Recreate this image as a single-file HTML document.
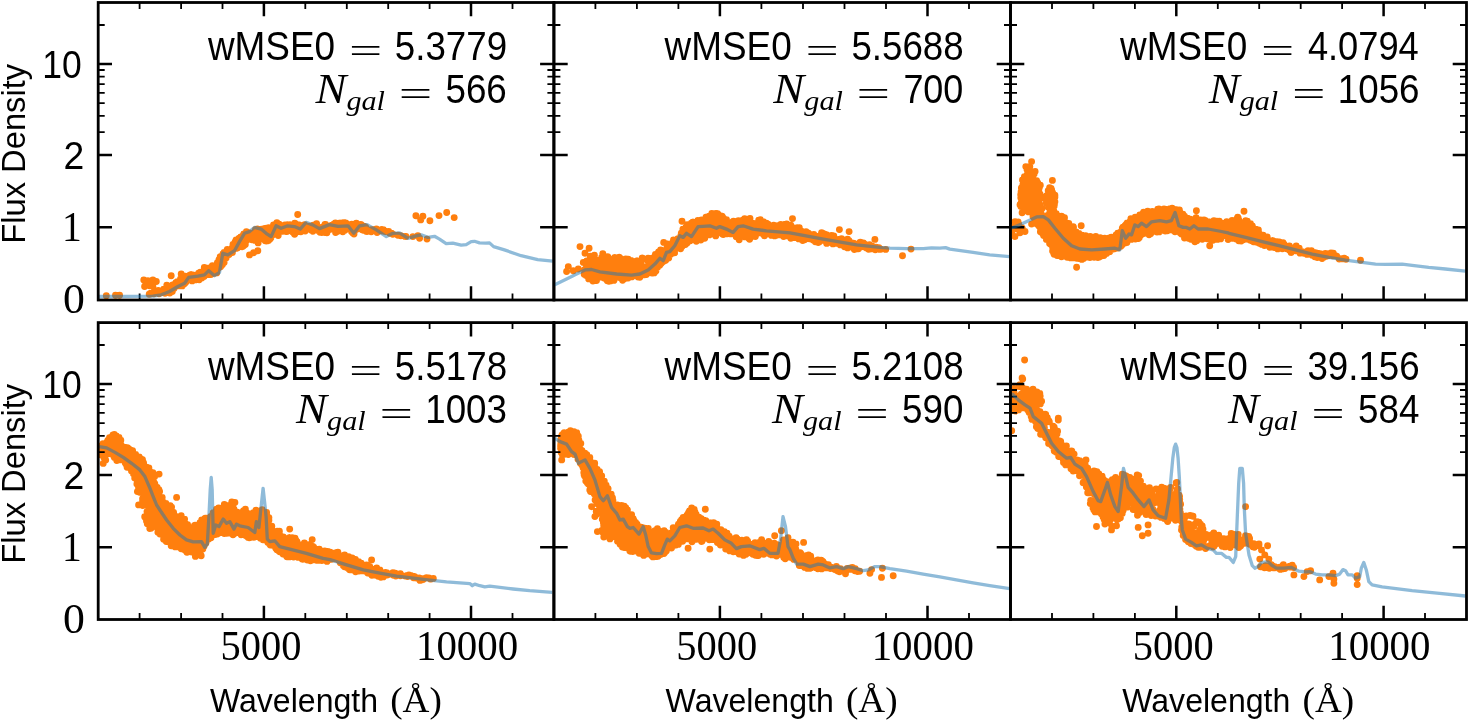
<!DOCTYPE html>
<html lang="en"><head><meta charset="utf-8"><title>Flux Density vs Wavelength</title>
<style>
html,body{margin:0;padding:0;background:#fff}
svg{display:block}
.sans{font-family:"Liberation Sans","DejaVu Sans",sans-serif}
.serif{font-family:"Liberation Serif","DejaVu Serif",serif}
.it{font-family:"Liberation Serif","DejaVu Serif",serif;font-style:italic}
</style></head>
<body>
<svg width="1469" height="721" viewBox="0 0 1469 721">
<rect x="0" y="0" width="1469" height="721" fill="#fff"/>
<defs>
<clipPath id="c1"><rect x="98.2" y="2.5" width="455.7" height="297.5"/></clipPath>
<clipPath id="c2"><rect x="553.9" y="2.5" width="456.6" height="297.5"/></clipPath>
<clipPath id="c3"><rect x="1010.5" y="2.5" width="456" height="297.5"/></clipPath>
<clipPath id="c4"><rect x="98.2" y="322.6" width="455.7" height="296.9"/></clipPath>
<clipPath id="c5"><rect x="553.9" y="322.6" width="456.6" height="296.9"/></clipPath>
<clipPath id="c6"><rect x="1010.5" y="322.6" width="456" height="296.9"/></clipPath>
</defs>
<g id="panel1">
<path clip-path="url(#c1)" d="M346.5 223.6h0M342.8 231.7h0M249.4 239.1h0M169.8 292.7h0M165.7 291.6h0M182.5 283.3h0M335.6 226h0M342.8 223.9h0M183.7 283.9h0M181.2 274h0M302.5 226.9h0M167.2 288.8h0M247.1 233.4h0M188.1 277.1h0M205.6 271.3h0M351.7 224.3h0M219.6 261.6h0M219.8 264.8h0M366.3 230.9h0M219.3 260.4h0M255.4 229.6h0M242.4 237.4h0M350.7 227.8h0M229.7 250.3h0M174 288.6h0M288.8 226.8h0M188 276.6h0M284 230.7h0M106.3 295.7h0M258.1 242.9h0M352.3 232.2h0M305.9 226.7h0M243.1 246.2h0M236 240.3h0M152.9 279.9h0M166.8 291.2h0M400.8 235.8h0M419.6 238.3h0M353.2 229.5h0M233.3 249.6h0M255.1 238.4h0M201.8 278h0M273.5 225h0M189.7 278.6h0M171.4 290.6h0M193.4 279.8h0M307.3 228h0M266.7 237.2h0M300.8 231.7h0M176.7 282.7h0M358.3 226.2h0M281.1 227.5h0M372.6 230.1h0M211.1 272.2h0M318.3 228.1h0M232 248.3h0M378 231.4h0M273.7 229.6h0M294.3 233.7h0M271.2 230.7h0M422.9 216.3h0M170.7 291.7h0M225.2 253.7h0M147.9 280.7h0M172.3 291.6h0M227.8 249.8h0M305.6 226.1h0M344.1 225.7h0M213.5 273.4h0M218 264.3h0M192.4 275.8h0M239.2 238.3h0M198.1 279.3h0M227.5 253.4h0M326.7 229.2h0M321.5 228.6h0M155.5 292.2h0M275.6 225.8h0M298 228.2h0M178.9 285h0M298.1 231.6h0M263.2 233.4h0M191.3 274.6h0M200.3 272.3h0M335.8 224h0M322.7 227h0M278.2 235.6h0M297.2 226.2h0M149.6 285.7h0M331 225.7h0M198.6 273.3h0M210.9 270.4h0M270.8 238h0M264.8 228.5h0M405.1 236.4h0M203.8 275.6h0M216.5 266.8h0M276.3 225.6h0M388.7 231.4h0M359.7 227.5h0M200.7 275.8h0M204.1 276.4h0M383.5 230.4h0M263.8 231.5h0M205.4 268.5h0M427 239.1h0M182.3 284h0M185.3 276.2h0M391.5 233.1h0M184.9 283.2h0M371.3 229.8h0M258 238.8h0M213.7 271.3h0M364 226.3h0M273.5 232.3h0M241.3 242.1h0M246.3 233.8h0M175.9 282.7h0M190.8 274.8h0M345.7 222.9h0M348.6 227.4h0M271.5 231.1h0M300.2 228.1h0M377.3 231.2h0M274.8 230h0M341.2 225h0M291.6 226.2h0M236.1 239.9h0M246.3 239.5h0M322.4 227.1h0M267 236.2h0M245.3 244.4h0M209.5 274.6h0M214.4 273.2h0M268.3 229.1h0M185.9 278h0M299.2 225h0M254.1 238.4h0M285.2 225.1h0M189.8 275.1h0M363.3 230.3h0M193.7 278.3h0M355.3 229.4h0M119.6 295.3h0M326.9 232.7h0M173.6 287.3h0M257.8 250.7h0M371.2 231.7h0M241.8 238.1h0M149.2 294.2h0M339.7 226.7h0M294.8 223.2h0M281.4 228.9h0M381.3 230.5h0M269.5 229.9h0M292.9 226.4h0M356.9 225.7h0M390.3 233.1h0M345.1 223.9h0M336.4 225.9h0M325.8 231.6h0M268.7 227.7h0M212.4 265.6h0M224.1 262.4h0M251.4 235.9h0M209.3 268.4h0M183.7 279.5h0M185 281.3h0M276 227.7h0M199.2 279.7h0M211.7 269.9h0M166.8 290.4h0M231.7 252.7h0M221.9 256.7h0M257.9 234.8h0M351.7 230.8h0M216.7 272.9h0M346.1 227.8h0M143.8 279.9h0M286.9 231.5h0M281.8 227.4h0M273.3 232.8h0M282.4 227.8h0M320.9 228.7h0M312.8 231.3h0M301.1 226h0M264 230.6h0M171 290.7h0M241.8 245.2h0M340.9 223.5h0M211.5 266.9h0M267.7 240.3h0M286.9 230.8h0M170.4 292.1h0M229.5 253h0M351.6 231.7h0M210.9 274.6h0M344.1 222.7h0M256.4 230.9h0M324.6 228.1h0M171.2 275.7h0M328.4 225.9h0M342 225.6h0M166.7 289.8h0M257.3 228.9h0M216.8 271.5h0M384.9 231.4h0M272.9 234.8h0M294.1 232.7h0M249.5 254.9h0M258.7 238h0M238.6 238.6h0M165 293.2h0M279.5 226.2h0M318 230.6h0M267 232.8h0M237.3 245.6h0M234.6 246.4h0M255.7 229.5h0M333.5 225.1h0M276.2 228.6h0M163.7 292.7h0M320 232.2h0M276.9 222.8h0M190.5 279.7h0M319.6 228.2h0M243.2 235.3h0M362.4 226.5h0M313.2 226.1h0M360.8 224.5h0M279 227.4h0M192.2 280.9h0M294.9 228.5h0M338.4 226.2h0M220.2 256.8h0M237.4 247.9h0M307 226.2h0M244.1 237.9h0M244.7 240.5h0M294.7 223.8h0M363 229.9h0M311.4 230.2h0M279.1 224.2h0M405.9 236.5h0M191.9 276.2h0M315 226h0M417.9 235.8h0M245.1 236.6h0M211.6 272.9h0M202.6 275.3h0M252.7 233h0M181.9 284h0M188.9 278.5h0M212.7 267.5h0M171.2 290.8h0M279.8 231.8h0M220.4 261.5h0M158.2 291.1h0M222.9 255.3h0M325 224.5h0M257 233.6h0M231.4 251.1h0M211.6 267.3h0M150.2 293.9h0M251.9 239h0M263.1 237.3h0M420.7 219.9h0M259.2 234.4h0M311.5 226.5h0M222.5 255.3h0M278.2 226.3h0M304.6 224.7h0M354.2 227.6h0M281.9 231.4h0M222.3 264.8h0M344.1 223.3h0M241.3 239.8h0M200.3 274.2h0M261.9 234.6h0M255.9 238.3h0M162.7 290.4h0M202.3 273.4h0M342.1 229.9h0M214.1 271.4h0M377.1 232.5h0M272 227.7h0M197.3 277.3h0M342.8 227.9h0M184.5 277.3h0M214.8 269.8h0M221.4 263.8h0M193.9 275.3h0M267 236h0M308.8 226.2h0M180.1 282.4h0M239.6 244.2h0M195.3 279.9h0M291.9 224.8h0M304.7 226.9h0M367 231.5h0M217.7 265.6h0M244.5 235.8h0M217.1 264.2h0M232.4 252.3h0M258.6 235.7h0M174.2 288h0M274.4 228.8h0M244.5 241.9h0M215.8 265.4h0M342.3 222.9h0M194.1 277.5h0M220.6 265.9h0M292.6 231.9h0M284.9 225h0M163.7 289.2h0M353.3 226.1h0M193.9 278.1h0M261.5 229.2h0M172.6 285h0M281 226.3h0M390.1 233.3h0M223.1 253.8h0M200.4 276.3h0M283.8 228.9h0M286.2 226h0M264.5 229.4h0M154.1 293.7h0M232.4 252.5h0M248.6 232.8h0M231.8 252.5h0M439 215.6h0M320.4 230.6h0M250.6 235.6h0M176.8 285.2h0M352.8 233h0M351.7 228.5h0M150.2 293.4h0M179 285.9h0M208.9 269.4h0M303 225.8h0M243.8 234h0M257.8 232.5h0M166.8 285.1h0M246.6 240.4h0M385.6 231.3h0M176.1 283.3h0M242.3 239.2h0M207 274.5h0M251.4 236.9h0M256.5 233.6h0M325.5 224.5h0M158.2 290.5h0M345 225.4h0M235.1 241.9h0M362.1 229.8h0M339.2 229.3h0M197.1 277.7h0M194.6 276.7h0M220.6 266.8h0M215.4 267.7h0M357.5 226.8h0M295.2 233.2h0M331.8 225.2h0M289.9 230.2h0M344.1 224.6h0M276.1 226.9h0M385.2 231.6h0M213.2 270.9h0M289.4 225.1h0M177.2 281.8h0M346.3 227.3h0M252 239.8h0M316 229h0M209.1 271.3h0M375.5 229.3h0M180.9 282.9h0M345.2 230h0M429.9 220.8h0M233 244.5h0M266.3 241.1h0M329 227.7h0M227.3 249.5h0M288.5 225h0M287.5 224.8h0M291.9 227.7h0M324.9 225.6h0M156.3 281.5h0M213.1 272.6h0M337.3 225.2h0M190.4 277.8h0M291.5 230.8h0M154.3 292.9h0M376.4 230.1h0M376.4 228.9h0M352 225h0M240.8 236.9h0M259.1 238.1h0M215.6 270.1h0M167.8 288.4h0M152.8 293.3h0M248.2 236.5h0M269.6 239.1h0M223.3 261.2h0M446.7 212.5h0M302.2 227.9h0M260.3 237.3h0M366.5 231.4h0M187.7 278.5h0M294.6 234.2h0M335.4 223h0M216.7 266.1h0M224.1 252.5h0M274.4 228.9h0M374 229.4h0M313.6 228.8h0M329.8 229.5h0M340.3 227.9h0M165.7 292.4h0M382.5 231.1h0M327.1 227.9h0M333.8 224.2h0M342 225.8h0M159 293.8h0M338 228.4h0M321.7 232.5h0M233.1 245.2h0M232.2 252.5h0M250.4 236.8h0M252.5 239.3h0M269.8 233.5h0M229.1 254.6h0M340.3 226.9h0M154 292.3h0M207.7 268.2h0M245.9 238.3h0M318.6 228.7h0M115.5 295.3h0M270.4 234.3h0M186 282.1h0M290.2 230.5h0M204.4 271.1h0M284.6 225.9h0M183.3 284.6h0M357 229h0M298.1 230.1h0M336.7 229.4h0M282.3 230h0M261.1 238.7h0M233.3 249.3h0M209.9 268.6h0M242.1 236.7h0M243.3 235.8h0M150.5 293.5h0M236 248.4h0M354.5 231.3h0M339.9 227.3h0M255.9 240.1h0M267.4 228h0M324.9 232.5h0M354 234.1h0M357.2 227h0M255.6 230.6h0M180.5 279h0M454.2 217.6h0M182.2 285.9h0M266.2 234.8h0M357 226.5h0M356.3 223.2h0M381.8 229.4h0M227 250.2h0M195.9 275.7h0M184.1 284h0M214.1 273h0M255.6 238h0M252.4 237.4h0M415.9 215.8h0M168 291.5h0M160.2 292.2h0M335.6 232.6h0M204.3 267.4h0M298.3 227.2h0M321.6 229.1h0M268.5 240.5h0M369.9 230.1h0M274.7 234h0M324.6 227.1h0M213.8 271.5h0M286.1 231.6h0M267.6 237.8h0M306.3 228h0M324.2 228.5h0M295.4 228.9h0M245.5 236.2h0M397.9 235.3h0M284.7 226.5h0M286 230h0M218.2 268.6h0M295.8 228.5h0M255 240.4h0M259.2 233.7h0M288.1 225.7h0M270 229.8h0M226.1 258.1h0M336.3 225.9h0M188.5 276.5h0M262.7 230.2h0M240.4 241.9h0M297.7 214.5h0M263.4 233.6h0M365.7 227.1h0M268 240.7h0M189.2 276.9h0M298.1 224.9h0M392.8 234.3h0M283.8 230.9h0M265.2 240.8h0M243.1 241.9h0M201.4 276.4h0M362 227h0M341 229.1h0M208.8 269.1h0M360 224.6h0M192 274.9h0M244.5 239.6h0M344.5 230.5h0M288.8 227.3h0M383.3 229.8h0M381.5 230.4h0M357.2 229.1h0M321.9 228.5h0M344.7 228.9h0M144.6 286.5h0M304.8 225.1h0M252.4 235h0M337.4 231.5h0M269.8 239.3h0M353.2 233.1h0M181.4 282.7h0M389.8 233.3h0M290 224.8h0M305.2 231h0M173.5 285.2h0M219 259.7h0M225.3 254.7h0M253.6 252.7h0M247.2 235.9h0M346.1 228.3h0M152.9 286.5h0M184 281.5h0M213 267.8h0M205 269.4h0M311.4 227.8h0M332.2 227.3h0M166.4 291.5h0M303 229.7h0M217.4 262.6h0M344.4 224h0M316.4 229h0M227.1 251.3h0M259.2 237.2h0M231.9 249.9h0M321.1 229h0M244.2 245.3h0M221.5 264.6h0M313.3 225.1h0M316.6 223.6h0M299.3 225.8h0M340.2 223.1h0M307.2 226.9h0M412.9 236.6h0M232.7 246.9h0M164 291.8h0M268.2 236.8h0M240.1 242.8h0M220.8 261.6h0M242.1 246.7h0M339.1 223.3h0M359.5 225.2h0M315.5 225.9h0M246.4 231.7h0M181.1 284.3h0M200.6 276.2h0M344.5 230.6h0M248 234.8h0M169.8 293.1h0M258.9 236.9h0" fill="none" stroke="#ff7f0e" stroke-width="6.9" stroke-linecap="round"/>
<path d="M263.9 300v-13.8M263.9 2.5v13.8M471 300v-13.8M471 2.5v13.8M98.2 227.2h13.8M553.9 227.2h-13.8M98.2 155h13.8M553.9 155h-13.8M98.2 64.1h13.8M553.9 64.1h-13.8" stroke="#000" stroke-width="2.5" fill="none"/>
<path d="M139.6 300v-6.5M139.6 2.5v6.5M181.1 300v-6.5M181.1 2.5v6.5M222.5 300v-6.5M222.5 2.5v6.5M305.3 300v-6.5M305.3 2.5v6.5M346.8 300v-6.5M346.8 2.5v6.5M388.2 300v-6.5M388.2 2.5v6.5M429.6 300v-6.5M429.6 2.5v6.5M512.5 300v-6.5M512.5 2.5v6.5M98.2 132.1h6.5M553.9 132.1h-6.5M98.2 115.8h6.5M553.9 115.8h-6.5M98.2 103.2h6.5M553.9 103.2h-6.5M98.2 92.9h6.5M553.9 92.9h-6.5M98.2 84.2h6.5M553.9 84.2h-6.5M98.2 76.7h6.5M553.9 76.7h-6.5M98.2 70h6.5M553.9 70h-6.5M98.2 25h6.5M553.9 25h-6.5" stroke="#000" stroke-width="1.8" fill="none"/>
<path clip-path="url(#c1)" d="M98 296.5L152.9 296.2L161.2 294.8L169.6 291.5L177.9 286.5L184.6 283.2L188.7 277.4L197.9 276.2L204.5 274.9L208.7 270.7L214.5 275.7L219.5 272.4L222.8 253.2L227.8 254.9L234.5 250.7L239.5 241.6L244.5 233.3L249.5 231.6L254.5 227.4L261.1 229.1L266.1 233.3L271.1 236.6L276.1 225.8L281.1 228.3L287.7 225.8L294.4 226.6L300.2 229.1L306.1 222.4L312.7 224.9L319.4 228.6L329.4 224.6L338 226.3L348 225.8L353.8 233.3L359.6 225.8L367.1 224.6L376.3 229.9L386.3 236.6L392.9 233.3L399.6 232.9L407.9 238.3L416.2 235.8L421.2 234.9L427.9 237.4L434.5 236.3L439.5 239.1L446.2 243.6L452.8 243.2L461.2 245.2L466.2 244.6L471.2 241.6L474.5 241.3L479.5 242.9L486.1 243.2L489.5 242.9L493.6 246.6L504.4 249.9L521.1 255.7L537.7 259.6L552.7 261.2" fill="none" stroke="#1f77b4" stroke-opacity="0.5" stroke-width="3.3" stroke-linejoin="round" stroke-linecap="butt"/>
<rect x="98.2" y="2.5" width="455.7" height="297.5" fill="none" stroke="#000" stroke-width="2.8"/>
<text class="sans" x="207.90" y="60.10" font-size="40.0" textLength="127.17" lengthAdjust="spacingAndGlyphs">wMSE0</text>
<text class="serif" x="348.96" y="62.70" font-size="36.5" textLength="33.31" lengthAdjust="spacingAndGlyphs">=</text>
<text class="sans" x="394.86" y="60.10" font-size="39.8" textLength="112.24" lengthAdjust="spacingAndGlyphs">5.3779</text>
<text class="it" x="315.40" y="103.30" font-size="41.5" textLength="30.92" lengthAdjust="spacingAndGlyphs">N</text>
<text class="it" x="346.40" y="109.90" font-size="27.5" textLength="38.55" lengthAdjust="spacingAndGlyphs">gal</text>
<text class="serif" x="398.74" y="105.90" font-size="36.5" textLength="33.56" lengthAdjust="spacingAndGlyphs">=</text>
<text class="sans" x="445.45" y="103.30" font-size="39.8" textLength="61.35" lengthAdjust="spacingAndGlyphs">566</text>
<text class="serif" x="62.92" y="313.40" font-size="42" textLength="21.86" lengthAdjust="spacingAndGlyphs">0</text>
<text class="serif" x="62.04" y="241.48" font-size="42" textLength="19.74" lengthAdjust="spacingAndGlyphs">1</text>
<text class="sans" x="63.41" y="169.26" font-size="39.5" textLength="20.75" lengthAdjust="spacingAndGlyphs">2</text>
<text class="sans" x="42.21" y="78.39" font-size="39.5" textLength="39.43" lengthAdjust="spacingAndGlyphs">10</text>
<g transform="rotate(-90)"><text class="sans" x="-243.73" y="25.00" font-size="33.5" textLength="179.83" lengthAdjust="spacingAndGlyphs">Flux Density</text>
</g>
</g>
<g id="panel2">
<path clip-path="url(#c2)" d="M673.5 249.8h0M650.4 267.2h0M611.8 261.2h0M729.5 229.8h0M682.1 241.9h0M703.5 232.5h0M603.5 262.6h0M709.3 234.9h0M689.4 235.4h0M587.7 269.2h0M593.4 274.3h0M685.5 233.3h0M592.8 272.9h0M661.1 263.5h0M702.2 230.5h0M590.6 276.4h0M749.2 231.1h0M717.7 214.3h0M618.7 271.1h0M607.1 276.4h0M833.7 241.1h0M610.7 260.7h0M710.8 224.4h0M787.1 232.9h0M688 230.8h0M638.1 277h0M741 220.6h0M692.7 233h0M659.5 257.1h0M600.9 259.7h0M795.3 228.6h0M866.5 246.8h0M828.2 241h0M718.7 218.1h0M615.2 268h0M675.3 249.3h0M814.6 237.7h0M718.6 219h0M751.4 230.5h0M831.3 242h0M685.7 227.6h0M740.3 224.8h0M639.3 274.9h0M774.2 227.1h0M859.8 247.3h0M642.4 258.5h0M624.7 275.6h0M741.7 230h0M598.7 264.8h0M702.1 228.1h0M676.2 243.7h0M877.3 248.1h0M642 274.7h0M566.6 271.5h0M680.6 245.9h0M597.6 274.4h0M780.1 228.7h0M689.3 236.9h0M591.1 272.1h0M757 228.3h0M727.1 231.3h0M602 261.5h0M726 230.2h0M735.2 226.3h0M619.2 257.2h0M766 224.3h0M847.5 243.9h0M639.8 277.2h0M775.2 232.5h0M860.8 245.6h0M761.7 232.7h0M723.8 225.1h0M615.6 261.3h0M771.3 229.6h0M734.6 231.2h0M738.2 237.2h0M791.9 233.7h0M857.9 246.8h0M657.8 257.5h0M860.7 244.7h0M805.8 235.6h0M781.1 230.6h0M596.3 277.1h0M622.1 277h0M682 233.4h0M790.8 225.3h0M653.4 269.3h0M853.5 244.1h0M805.3 235.4h0M709.9 225.7h0M711.1 216.8h0M774.6 226.9h0M707.4 224.4h0M588.7 278.9h0M701.8 224.6h0M885.7 249.4h0M611.9 260.1h0M762.5 226.1h0M840.3 244.9h0M644.1 274.1h0M647.6 270.2h0M604.5 267.5h0M630.9 272.6h0M688 239.1h0M695.4 231.8h0M726.8 231.7h0M614.9 272.5h0M692.7 222.3h0M588 272.3h0M734.2 227.6h0M608.2 280.7h0M759.1 223.9h0M622.1 278.3h0M786.9 233.4h0M869.9 246h0M711.7 230.3h0M584.7 269.8h0M816.4 239.1h0M620.2 275.8h0M634.3 274.9h0M711 227.6h0M670.8 249.7h0M800.7 238.6h0M624.8 266h0M667.9 251h0M736.1 234.5h0M846.2 243h0M598 272.1h0M779.9 234.9h0M705.4 228.3h0M687 237.9h0M813.9 236.4h0M590.4 267.1h0M783.3 233.2h0M740.8 228.7h0M728.9 232.8h0M749.5 227.7h0M725.8 228.3h0M632.9 276h0M804.9 235.1h0M821.8 236.8h0M672.8 248.3h0M626.5 275.7h0M727.4 233.7h0M706.6 221.5h0M587.9 270.1h0M602.7 263.5h0M792.9 231.1h0M672.5 242.7h0M759.1 227.5h0M795.2 229.4h0M815.3 241.8h0M687.2 237.6h0M691 237.6h0M592.8 270h0M878.9 247.7h0M653.4 270.7h0M764.5 235.8h0M809.9 236.9h0M631 263.8h0M643.7 273.6h0M716.8 229.9h0M725.5 219.8h0M693.2 228.6h0M627.3 261.8h0M619.8 262.8h0M692.6 237.1h0M646.4 274.5h0M682.3 232.3h0M802.7 240.5h0M699.5 234.6h0M792.3 235.9h0M709.9 232.1h0M613.1 267.2h0M754.2 230.2h0M880.8 249.3h0M608.9 281.3h0M842.6 243.5h0M622 264.3h0M602.5 273.8h0M827.7 238.2h0M603.4 261.4h0M578.3 269h0M811.1 237.1h0M751 231.9h0M711.8 213.4h0M591 277.5h0M749.5 231.4h0M659.4 252.5h0M810.6 235.3h0M863.6 246.8h0M589.6 263.1h0M692.9 237.4h0M636 263.5h0M753.8 230.8h0M654.1 264.4h0M602.9 271h0M765.1 232.9h0M681.2 239h0M714.2 228.2h0M730.4 231.4h0M642.2 257.9h0M700.6 223.5h0M700.5 232h0M661.4 259.6h0M618 266.2h0M636.1 271.7h0M622.3 276.3h0M818.8 240.2h0M616 274.9h0M681.6 234.6h0M675.4 246.3h0M767.7 228.8h0M732.9 221.7h0M666.8 248.1h0M849 240.8h0M783.8 233.9h0M757.2 228.5h0M816.9 238h0M902.5 255.7h0M770.5 230.5h0M752.2 223.8h0M733.2 233h0M682 246.5h0M684.6 229.8h0M725.6 233.8h0M788.7 230.9h0M601.8 277.2h0M780.1 233.8h0M701.8 230.9h0M619.9 269h0M750.5 233.5h0M764.5 227.9h0M626.6 274.9h0M828.2 239.2h0M722.5 231.5h0M587.9 269.6h0M722.7 217.1h0M675.6 240.5h0M752.7 230.2h0M670.9 247.8h0M740.3 227.5h0M716.5 227.7h0M624.1 275.7h0M740 223h0M685.7 239.6h0M637.7 274.5h0M761.9 231.7h0M641.3 265h0M785.1 229h0M879.7 249.4h0M820.9 236.5h0M822.2 240.2h0M826.7 243.4h0M586.6 271h0M673.5 239.9h0M749 221.4h0M687.2 224.6h0M712.3 222.2h0M607 265.2h0M632.9 268.5h0M664.6 253.5h0M661.1 258.1h0M589.2 276.9h0M693.9 233.3h0M757.3 226.5h0M715.7 230.5h0M844.5 246.8h0M845.3 245.1h0M695.2 229.8h0M622.3 277.4h0M651.8 262.6h0M624.7 265.1h0M595.6 271.5h0M682.7 233.3h0M602.8 253.6h0M783.9 233.2h0M673.1 250.2h0M681.3 233.1h0M637.4 272.1h0M817 236.6h0M719.3 220.7h0M580 246.6h0M829.8 236h0M683.1 243h0M706.9 229.9h0M738.4 236.2h0M712.5 230h0M733.3 232.5h0M695.1 229.3h0M661.4 257.5h0M747.4 230.3h0M602.2 262.9h0M699.2 227.8h0M714.5 214.1h0M686.6 238.9h0M824.8 234.3h0M614 278.6h0M641.6 274.6h0M719.6 222.3h0M663.7 242.4h0M811 238.1h0M674.3 249.6h0M606.3 276.5h0M597.2 270h0M647.9 261.1h0M629.4 267.9h0M647.9 273.1h0M826.3 236.8h0M627.2 273h0M690.6 229.2h0M662 262.3h0M715.9 232h0M768.9 230.1h0M735.3 231.7h0M826.8 237.2h0M602.4 265.8h0M637.5 275.7h0M786.2 234h0M749.5 236.9h0M726 219.6h0M833 239h0M600 276h0M598.4 271.5h0M806 231.7h0M586.2 264.4h0M771.4 235.4h0M857.3 246.1h0M866.8 244.9h0M634.6 267.1h0M787.3 233.8h0M809.6 234.3h0M806.9 232.4h0M801.8 238.5h0M589.1 273.6h0M620.2 270.4h0M813 239.9h0M803.9 237.9h0M839.1 242.8h0M599.9 272.5h0M594 258h0M629.8 271.4h0M876.4 247.5h0M775.9 227.9h0M841 240.2h0M639.8 261.6h0M758.9 231.6h0M842.3 244h0M767.2 225.4h0M685.4 244.6h0M653.9 266.6h0M760.3 222.4h0M818.3 236.4h0M782.5 232.6h0M719.8 227.1h0M662.6 262h0M839.7 239.6h0M703.4 223h0M774.6 235.9h0M724.1 226.1h0M621.4 266h0M606.8 268.7h0M743.8 225.3h0M717.5 214.2h0M608.5 271.3h0M650.3 265.6h0M691.6 236.8h0M674.6 250.4h0M739.4 231.4h0M595.8 265.2h0M755.5 229h0M697.6 227.3h0M610.1 279.4h0M819.2 242h0M828.2 239.6h0M697.2 222.7h0M672.5 249.5h0M630.5 271.1h0M846.7 239.6h0M612.1 270.3h0M712.5 229.5h0M749.6 234.4h0M853 247.8h0M787.4 235.5h0M834.9 241.5h0M859.9 243.8h0M768.4 231h0M847.7 245.3h0M741.9 224.2h0M696.4 234.3h0M690.7 231.9h0M647.9 266.6h0M739.6 226.9h0M736.4 235.2h0M803.9 234.6h0M733 231.3h0M585 253.2h0M716.3 230.6h0M701.2 225.8h0M658.2 265.6h0M693.8 239h0M688.6 236h0M702.7 225.4h0M838.5 239.4h0M794.2 237.5h0M612.9 280.1h0M607.7 256.6h0M662.6 261.4h0M795 231.7h0M610.3 270h0M732.4 228.8h0M719.2 227.1h0M586.6 270.5h0M628.2 259.2h0M595.3 261h0M707.9 222h0M601.3 271.9h0M618 271.2h0M741.6 223.6h0M700.1 223.4h0M686.2 235.8h0M847.6 239.2h0M653 257.8h0M712.6 219.5h0M646.2 269.3h0M586.8 271.2h0M590.7 259.8h0M734.2 231.9h0M704.1 221.1h0M609 277.6h0M697.9 220.5h0M681.1 243.9h0M766.8 233.6h0M846.8 243h0M668.1 247.4h0M636.1 274.5h0M676.5 245.9h0M702 225.9h0M832.6 239.8h0M715.2 225h0M693.8 233.8h0M680.5 238.5h0M849.1 231.6h0M850.4 245.7h0M631.2 273.4h0M802.9 238h0M584.2 274.2h0M739.4 233.2h0M800.9 239.2h0M654.1 264.3h0M730.6 231.2h0M597.4 262.2h0M775.6 228.2h0M826.5 238.9h0M697.8 236.7h0M750.6 228.7h0M741.1 233.1h0M713.9 216.8h0M653.2 267.4h0M766.2 233.9h0M765.1 225.2h0M628.1 277.1h0M610.7 262.8h0M780.1 233.2h0M700.8 240.1h0M660 253.6h0M675.7 244h0M613.9 280.4h0M711.4 223.4h0M682.1 236.2h0M621 266h0M770.1 229.1h0M723.2 234.6h0M660.4 260h0M717.6 223.4h0M765.1 226.3h0M653 273.1h0M759.1 231h0M742 222.8h0M604.7 266.3h0M790.8 238.2h0M748.9 230.1h0M773.9 229.1h0M804.3 239h0M677.8 241.7h0M719.2 228.5h0M829.6 236.3h0M708.5 217.7h0M736.2 236.8h0M838.5 241.8h0M731.7 231.5h0M610.7 267.4h0M595.8 270h0M723.9 218.7h0M706.7 224.2h0M711 231.6h0M722 216.1h0M742.3 224.3h0M677.3 242.4h0M687.7 232.4h0M712.3 226.9h0M700.8 221.2h0M597.6 277.3h0M823.9 235.6h0M664.8 260h0M626.7 269.5h0M616.2 275.8h0M750 218.5h0M775.2 228h0M619.5 277.1h0M609.7 271.2h0M606.6 277h0M867 245.2h0M773.8 230h0M592.9 273.4h0M860.3 242.3h0M775.5 228.1h0M693.3 239.3h0M647.1 268.1h0M868.6 249.2h0M632.1 274.1h0M669.3 251.4h0M656.2 265.6h0M744.6 223.5h0M632.3 262.1h0M706 217.1h0M750.3 233.7h0M643.9 271.5h0M756.3 226.9h0M718.5 219.1h0M826.4 235.3h0M685 232.7h0M746.9 231.5h0M718 215.1h0M712.5 215.2h0M618.9 266.7h0M659.6 252.4h0M807.6 238.6h0M611.1 260.4h0M748.8 231.7h0M625.1 264.2h0M693.3 222.3h0M690.2 240.7h0M657.8 267.1h0M697.7 224.8h0M709.1 216.2h0M737 230.7h0M636.5 273.7h0M752 234.8h0M703.6 225.8h0M626.8 266.2h0M709.1 228.9h0M641.8 273.7h0M725.1 230h0M621.3 276h0M698.8 231h0M740.6 225.1h0M601.6 276.7h0M726.7 221.2h0M626.5 275.1h0M747.7 233.3h0M713.6 220.4h0M714.4 233.1h0M821.2 234.1h0M693.8 230.5h0M660.7 251.1h0M665.7 260.2h0M710.9 227.3h0M629 263h0M726.5 219.8h0M743.9 222.8h0M845.4 246h0M592.3 268.9h0M727.4 232.7h0M853.4 243.1h0M651.7 267h0M782.3 232.2h0M653.4 268.3h0M655.4 254.4h0M626.2 259.2h0M606.7 269.9h0M623.8 269.6h0M721.3 216.4h0M705 222.7h0M715.7 235.9h0M687.6 226.7h0M616.3 273.9h0M625.9 273.8h0M717.7 231h0M741.1 233.4h0M683.7 236.2h0M620 261.6h0M681.4 239.1h0M601.7 257.3h0M611.1 277.2h0M794.3 231.6h0M830.8 242.2h0M763.3 234.2h0M789.3 236.6h0M739.2 239.7h0M782.6 225.2h0M743 227.3h0M775 229.3h0M761.4 232.7h0M798.7 238.9h0M748.8 223.8h0M642.1 273.7h0M733.5 221.1h0M806.5 233.8h0M628.2 278.1h0M690.7 236.4h0M708.6 227.5h0M732.7 231.3h0M697 232.8h0M734.2 233.6h0M762.9 230.6h0M768 224.1h0M764.1 231h0M755.1 225.9h0M753.8 223.4h0M617.3 274.8h0M649.5 261.1h0M627.8 260.1h0M721.7 232h0M756 234.5h0M607.1 272.4h0M854.1 244.4h0M693.6 229.9h0M756.4 231.3h0M780.4 230.3h0M813.8 234.5h0M875.3 249.8h0M673.4 244.7h0M801 231h0M587.2 266.2h0M697.7 231.1h0M610.2 259.4h0M721.3 227h0M752.9 229.6h0M818.2 240.1h0M704.3 223.7h0M685.4 242.8h0M721.4 231.5h0M666.9 252.9h0M734.5 225.4h0M748 228.4h0M713.1 229.6h0M639.6 275.7h0M664 255.2h0M596.5 280.6h0M589.1 248.2h0M697.6 224h0M806.9 234.3h0M637.8 273.2h0M803.9 237.9h0M749.2 229.9h0M826.5 240.7h0M664.9 260.7h0M651.9 269h0M625 277.3h0M697.4 226.5h0M707.6 221.3h0M590.3 256.2h0M732.2 232.7h0M613.3 272.1h0M831.3 240.6h0M651.9 273h0M788.5 226.1h0M714 215.5h0M637.8 264.2h0M750.2 222.5h0M610.8 280.4h0M797.3 227.8h0M833.8 236h0M757.2 232.7h0M836.5 243.2h0M739 221.3h0M820.3 235.8h0M615.2 265.9h0M616.9 274.6h0M756.9 227.7h0M587.4 265.4h0M583.3 262.4h0M590 265.3h0M665.4 259h0M686.5 229.2h0M844.7 243.4h0M607.2 279.8h0M695.1 232.5h0M615.9 269.2h0M673.7 243.8h0M689.1 237.8h0M860.5 244.8h0M666.5 243.8h0M769.1 232.7h0M852.8 247.1h0M714.9 226.8h0M750.1 228.7h0M730.9 233.9h0M584.5 272.9h0M593.4 262.1h0M608.3 258.5h0M700.8 224.7h0M744.9 236.9h0M774.3 231h0M684.9 233.2h0M593.8 280.2h0M659.5 261.8h0M685 237h0M609.5 275.1h0M721.2 229.9h0M789.6 235.8h0M640.6 269.4h0M717.2 220h0M705.9 218.8h0M816.9 236.3h0M613.5 273.3h0M629.3 277.3h0M709.4 218.1h0M720 224.9h0M755.5 228.4h0M826.4 234.6h0M854.4 249.5h0M682.4 234.8h0M848 241.5h0M625.1 270.2h0M594.4 274.8h0M601.4 272.6h0M795 234.3h0M585.6 275.3h0M785.2 224.3h0M825 235.6h0M874.9 239.4h0M777.4 225.7h0M819.9 240.8h0M625.5 277.4h0M587.4 265.2h0M661.8 260.4h0M767.8 231h0M653.9 270.3h0M702.6 224.9h0M586.8 261h0M781.8 225.8h0M866.4 247.9h0M718.2 223.5h0M783.6 236.5h0M718.5 229h0M633.4 267.6h0M648.5 268.2h0M767.6 232h0M592.6 259.7h0M658 254.8h0M688.7 239.4h0M691 238.6h0M668.8 255.1h0M695.7 234.8h0M691.3 223.3h0M614 280.2h0M870.3 247.7h0M662.1 255.3h0M777.3 231.5h0M607.5 261.8h0M687.2 233.8h0M820 240.9h0M829.5 242.4h0M751.5 231.9h0M598.5 260.2h0M829.1 242.3h0M639.5 262.8h0M716.5 223.5h0M590.5 275.6h0M654.4 264.3h0M594.8 275.6h0M678 238.7h0M747.1 231.1h0M783.7 228.2h0M838.9 241.1h0M781.5 225.2h0M817.1 241.9h0M744 223.6h0M722.7 226.8h0M628.7 276.2h0M822.8 234.9h0M657.8 265.2h0M821.6 232.7h0M606.6 262.7h0M610.6 280.9h0M685.3 231h0M687.1 242.9h0M640.3 262.1h0M790.5 230.3h0M673.6 248.4h0M654.7 263.2h0M726.6 224.6h0M705.2 226.7h0M676.8 243.9h0M646.2 259.1h0M649.1 263.8h0M704.7 238.2h0M869 246h0M726.9 232.6h0M690.3 227h0M770 229h0M835.6 242.1h0M818.3 242.5h0M765.6 232.1h0M870 249.1h0M602.2 269.9h0M676.5 240.4h0M655 270.6h0M633.8 269.3h0M680.9 235.5h0M824.1 237.3h0M618.7 272.1h0M604.5 278.2h0M614.8 257.4h0M657.5 261.9h0M649.2 263.1h0M689.6 236.1h0M611.6 275.3h0M820.3 240.1h0M813 236.6h0M601.5 271.2h0M602.8 273.8h0M826.4 241h0M851.3 244h0M614.9 263h0M736.1 222.9h0M768.4 228h0M625 271.2h0M639.7 270.9h0M684.8 231.7h0M789.3 234.2h0M721 221.9h0M739.2 222.7h0M653.7 268.7h0M760.4 224.8h0M735.5 234.4h0M694.1 233.1h0M650.4 271.9h0M682.7 238.6h0M618 269.2h0M595.3 271.2h0M709.4 231.5h0M668.2 250.9h0M628.9 267.8h0M735.7 232.3h0M639.7 276.9h0M703.7 220.3h0M871.6 248.9h0M697.6 222h0M626.3 277h0M605.3 261.2h0M680.6 248.7h0M839.4 229.6h0M856.2 244.2h0M714.6 228.7h0M703.6 229.3h0M657.6 260.2h0M622.6 267.9h0M717.6 213.7h0M847.6 247.9h0M684.9 231.6h0M665.2 252.3h0M876.4 247.4h0M648.1 258.1h0M853.6 246.9h0M760.2 232.8h0M735.1 233.6h0M717.1 228.7h0M879.7 249h0M762.4 231.2h0M591 270.4h0M673 248.8h0M648.2 271h0M622.6 280.2h0M705.5 223.4h0M878.6 248.8h0M644.6 274.8h0M646.9 266.7h0M780.8 224.4h0M682.9 229.1h0M715.9 213.4h0M806.6 233.9h0M723.6 222.8h0M631.7 276.9h0M744.7 223.8h0M685.4 240.8h0M851 244h0M786.1 233.8h0M655.9 271.1h0M720.2 222.2h0M637.2 273.3h0M795.2 235.4h0M751.9 236.4h0M711.8 228.4h0M627.2 277.7h0M625.1 277.1h0M733.1 231.4h0M771.1 233.7h0M607.2 268h0M704.9 236h0M599.5 272h0M643 273.7h0M614 275.1h0M832.1 236.8h0M674.1 244.7h0M735.9 228.5h0M752.8 234h0M606.5 260.7h0M705.8 226.1h0M769.4 230.4h0M587.1 276h0M748.6 237.5h0M744.6 218.6h0M623.2 265.3h0M620.2 265.8h0M600.5 273h0M731 233.1h0M647.7 271.5h0M640.7 275.4h0M573.3 270.7h0M811.2 236.2h0M823.3 239.5h0M806.6 235.6h0M594 269.6h0M879.3 248.4h0M707.1 219.8h0M688.6 227.2h0M602.9 259.8h0M696.2 222.5h0M792.3 227.6h0M638.2 275.7h0M708.5 224.5h0M750.7 230.5h0M876 247.2h0M629.3 261.4h0M764.7 234.4h0M615.1 276.4h0M786.9 235.8h0M864 244h0M669.3 254.4h0M781.2 230.6h0M780.3 228.5h0M597.8 268.5h0M592.9 281h0M633.9 275.4h0M615 266.4h0M595.5 270.4h0M872.2 246.3h0M766.4 223.2h0M660.6 249.9h0M636.9 272.6h0M625.9 275.4h0M693.7 235.1h0M647 271.8h0M696.3 241.3h0M638.9 265.3h0M627.2 263.2h0M605.8 269.1h0M758.7 228h0M801.5 233.5h0M605.7 269.6h0M611.3 275.4h0M607.9 277.1h0M854.9 249.2h0M704.4 236.6h0M738.4 226.3h0M808.5 235.2h0M777.1 232.2h0M689 239.8h0M684.7 243.6h0M748.9 238.6h0M703.9 232.8h0M863.4 243h0M629.9 262.1h0M664 258.7h0M719.5 228.7h0M674.6 252.9h0M743.3 229.1h0M593.1 270.8h0M815.4 241h0M690.1 235.1h0M715.6 223.8h0M680.8 245.9h0M767.1 224.7h0M658.4 262.6h0M860 242.4h0M739.4 232h0M711.4 218.1h0M606.3 261.4h0M641.1 263.4h0M717.4 216.1h0M849.9 246.4h0M605.5 267.2h0M726.3 230.2h0M618.3 277.1h0M790.1 228h0M680.4 237.6h0M755.4 226.7h0M659.6 259.2h0M599.6 269.7h0M855 244.2h0M739.1 229.9h0M673.5 244.8h0M659.7 265.3h0M610.7 274.6h0M832.9 243.9h0M606.2 276.5h0M588 269.7h0M629.8 263.6h0M668.7 258.1h0M669.7 250.4h0M765.5 232.2h0M758.7 220.2h0M742.3 223.4h0M648.8 264.7h0M603.7 260.5h0M848.3 246.5h0M687.3 233.5h0M734.5 226.1h0M703.5 225.6h0M664.8 253h0M611.9 271.8h0M610 274.8h0M788.3 236h0M804.6 239.7h0M792.7 231.4h0M662.8 250.8h0M640.2 264h0M623.7 266.2h0M763.3 221.7h0M679.1 242.6h0M769.9 231.4h0M607.3 277.7h0M869.9 248.7h0M682.7 239.2h0M726.2 219.7h0M747.8 227.4h0M605.4 267.3h0M667.5 250.3h0M722.3 233.9h0M625.8 259h0M731.8 226.8h0M658.6 252h0M911 249.1h0M709.2 228.2h0M725.5 233.3h0M741.9 225.4h0M694 232.9h0M646.7 273.4h0M609.3 273h0M791.8 230.4h0M712.1 232.2h0M775.7 230.7h0M594.4 255.2h0M775.8 235.4h0M568.3 266.6h0M699.4 228.2h0M692.5 231.3h0M631 260.5h0M702.5 229.9h0M620.5 258.5h0M591.2 268.2h0M856.8 245.1h0M608.3 268.1h0M857.7 244.8h0M834.3 241.4h0M846.1 241.3h0M633.6 270.6h0M715.4 228.5h0M813.1 239.6h0M606.3 270.8h0M786 231.5h0M610 277.3h0M719.6 216.1h0M597.1 276.3h0M654.2 272.9h0M746.5 224.7h0M629.9 270.6h0M758.9 228.8h0M813.6 235.5h0M740.8 228.9h0M858.2 244.7h0M868 248.7h0M691.8 236.6h0M798.4 234.9h0M746.2 233.9h0M701.5 220h0M703.3 227h0M612.2 269.2h0M702.5 228.3h0M755.3 236.5h0M740.9 224.4h0M804.4 233.9h0M624.1 279h0M706.6 216.9h0M795.9 227.9h0M608.2 257.6h0M684.3 238.1h0M855.9 246.9h0M749.3 230.2h0M769.2 227.2h0M662.2 260.7h0M827.9 240.4h0M640.9 263.4h0M723.6 223.1h0M601.1 270.6h0M788.6 232.9h0M594.7 261.2h0M783.8 227.6h0M803.3 239.4h0M651.4 262h0M611.1 278.5h0M767.2 233.6h0M619 275.9h0M766.8 231h0M799.3 227.8h0M748.9 229.4h0M756.7 227h0M683.8 232h0M824.2 234.5h0M682 221.3h0M631.3 273.6h0M610.3 260.8h0M863 246.6h0M844.4 242.5h0M636.2 269.1h0M589.2 264.7h0M590.1 265.5h0M785.5 230.9h0M817.6 236.4h0M608.2 269.9h0M696.8 224.7h0M651.9 263.8h0M690.6 234.6h0M605.6 266.4h0M809.4 238.7h0M852.1 243.3h0M841.5 238.6h0M657.3 253.6h0M764.6 234.9h0M592.8 269.3h0M587.6 271.2h0M682 240.5h0M857.3 244.4h0M736.5 231.7h0M631.3 269.7h0M659.1 257.7h0M604.7 275.9h0M853.5 246.4h0M737.5 234h0M772.2 228.2h0M605.6 276.1h0M616.7 276.1h0M755.9 234.6h0M767.8 230.7h0M589.3 276.4h0M753.1 228.1h0M723.6 220.2h0M841.5 240.5h0M636.3 273.6h0M828.1 241.3h0M717.5 231.8h0M685.3 235.8h0M681.5 242.8h0M828.8 240.5h0M824.9 234.2h0M608.7 263.8h0M782.6 228.2h0M735.9 228.3h0M829.4 239h0M752.7 225.5h0M706.7 230.6h0M595.2 274h0M599.2 273.1h0M768.2 232.4h0M707.7 223.3h0M779.1 230.5h0M614.2 274.2h0M607.3 280.8h0M658.5 260.1h0M676.3 245.7h0M720 232.6h0M869.6 244.6h0M605.3 276.9h0M624.8 275.8h0M670.8 254.2h0M792 235.9h0M611.1 279.2h0M721.1 231.8h0M692.6 226.9h0M784.7 226.3h0M636.9 268h0M605.8 263.1h0M605.7 272.1h0M676 246.6h0M593.2 260.8h0M604.6 272.5h0M706.9 221.1h0M834.1 241h0M849.5 243.8h0M608.5 274.3h0M761.6 227.7h0M754.2 226.5h0M718.5 232.4h0M617.4 275.5h0M833.6 242.1h0M844.9 242.9h0M849.8 243.8h0M735.7 231h0M731.2 232.8h0M631.1 275.4h0M682.5 239.1h0M614.4 261.7h0M831.5 235.5h0M713.2 233.7h0M718.8 223.2h0M645.9 271.3h0M651.5 264.9h0M667.2 248h0M673.3 242.8h0M591.2 276.4h0M728.3 229.6h0M821.8 234h0M686.4 230.6h0M702.4 225.9h0M703.7 221.1h0M745 224.7h0M654.2 269.3h0M619.5 277.5h0M773.7 225.3h0M749.6 239.2h0M798.2 234.2h0M721.1 215.9h0M850.7 242.7h0M642.1 270.8h0M685.2 240.1h0M750.8 235.3h0M831.1 240h0M792.5 218.6h0M760.4 219.7h0M669.3 252.1h0M637.3 261h0M590.3 270.2h0M778.3 229.8h0M661.3 253.6h0M745.9 227.7h0M709.6 223.9h0M704 224.2h0M808.4 233.1h0M636.7 261h0M745.9 230.9h0M603.5 271.9h0M762.1 230.5h0M745.1 232h0M867.1 247.8h0M815.9 236.4h0M700.2 220.7h0M738.4 220.6h0M702 223.3h0M723.9 226.7h0M690.6 231.6h0M695.3 232.5h0M723.7 222.4h0M735.6 223.2h0M725.3 223.9h0M858.5 248.7h0M691.9 228.4h0M791.4 232.5h0M620.3 262.4h0M749 221.3h0M690.2 238h0M750.3 230.1h0M651.8 266.4h0M827.1 236.8h0M670 254.3h0M660.2 257h0M786.7 224h0M712.6 224.8h0M849.9 244.4h0" fill="none" stroke="#ff7f0e" stroke-width="6.9" stroke-linecap="round"/>
<path d="M719.9 300v-13.8M719.9 2.5v13.8M927.5 300v-13.8M927.5 2.5v13.8M553.9 227.2h13.8M1010.5 227.2h-13.8M553.9 155h13.8M1010.5 155h-13.8M553.9 64.1h13.8M1010.5 64.1h-13.8" stroke="#000" stroke-width="2.5" fill="none"/>
<path d="M595.4 300v-6.5M595.4 2.5v6.5M636.9 300v-6.5M636.9 2.5v6.5M678.4 300v-6.5M678.4 2.5v6.5M761.4 300v-6.5M761.4 2.5v6.5M803 300v-6.5M803 2.5v6.5M844.5 300v-6.5M844.5 2.5v6.5M886 300v-6.5M886 2.5v6.5M969 300v-6.5M969 2.5v6.5M553.9 132.1h6.5M1010.5 132.1h-6.5M553.9 115.8h6.5M1010.5 115.8h-6.5M553.9 103.2h6.5M1010.5 103.2h-6.5M553.9 92.9h6.5M1010.5 92.9h-6.5M553.9 84.2h6.5M1010.5 84.2h-6.5M553.9 76.7h6.5M1010.5 76.7h-6.5M553.9 70h6.5M1010.5 70h-6.5M553.9 25h6.5M1010.5 25h-6.5" stroke="#000" stroke-width="1.8" fill="none"/>
<path clip-path="url(#c2)" d="M554.2 284.9L566.6 279L576.6 274L585 269.9L591.6 269.5L599.9 271.9L616.6 274L631.6 275.2L639.9 274L648.2 269.9L654.9 264.1L659.9 258.2L663.2 260.7L666.5 252.4L669.8 251.6L674.8 245.7L679.8 235.8L683.2 237.4L686.5 233.3L691.5 236.6L698.1 226.6L703.1 226.3L709.8 225.8L716.4 228.3L719.8 226.6L726.4 229.1L733.1 232.4L738.1 226.6L743.1 225.8L753.1 229.1L766.4 230.8L790 232.9L823.3 239.1L856.6 244.9L879.9 247.4L889.9 248.2L906.5 248.7L923.2 248.6L931.5 247.9L939.8 248.2L945.6 247.6L949.8 249.1L973.1 252.4L989.7 254.9L1009.7 256.6" fill="none" stroke="#1f77b4" stroke-opacity="0.5" stroke-width="3.3" stroke-linejoin="round" stroke-linecap="butt"/>
<rect x="553.9" y="2.5" width="456.6" height="297.5" fill="none" stroke="#000" stroke-width="2.8"/>
<text class="sans" x="664.50" y="60.10" font-size="40.0" textLength="127.17" lengthAdjust="spacingAndGlyphs">wMSE0</text>
<text class="serif" x="805.56" y="62.70" font-size="36.5" textLength="33.31" lengthAdjust="spacingAndGlyphs">=</text>
<text class="sans" x="851.46" y="60.10" font-size="39.8" textLength="112.24" lengthAdjust="spacingAndGlyphs">5.5688</text>
<text class="it" x="773.30" y="103.30" font-size="41.5" textLength="30.92" lengthAdjust="spacingAndGlyphs">N</text>
<text class="it" x="804.30" y="109.90" font-size="27.5" textLength="38.55" lengthAdjust="spacingAndGlyphs">gal</text>
<text class="serif" x="856.64" y="105.90" font-size="36.5" textLength="33.56" lengthAdjust="spacingAndGlyphs">=</text>
<text class="sans" x="903.39" y="103.30" font-size="39.8" textLength="59.98" lengthAdjust="spacingAndGlyphs">700</text>
</g>
<g id="panel3">
<path clip-path="url(#c3)" d="M1190.3 231.7h0M1229.3 232.8h0M1129 238.9h0M1054.4 243.1h0M1252.6 226.9h0M1056 227h0M1178.1 221.2h0M1141.3 228.2h0M1209.9 230.8h0M1031.6 161.6h0M1048.8 225.8h0M1038.6 199.6h0M1186.4 224.1h0M1180.9 221.1h0M1062.2 234.3h0M1098.3 253.9h0M1067.8 236.9h0M1051.8 225.8h0M1261.7 242.4h0M1246.9 237.8h0M1143.6 212.2h0M1098.6 251.4h0M1200.3 228.6h0M1025.2 194.5h0M1067.1 244.5h0M1191.1 224.5h0M1101.5 238.3h0M1038.2 196.4h0M1118.8 241.7h0M1156.5 219.4h0M1081.7 243.8h0M1256.9 233.6h0M1034.4 204h0M1128 239.5h0M1219.7 229.4h0M1179.9 219.1h0M1179.9 223.6h0M1227.9 233.5h0M1187.4 227.6h0M1103.1 245.4h0M1067 243.9h0M1214.8 234.3h0M1054.9 195.2h0M1063.6 228.2h0M1346 259.3h0M1107.7 239.6h0M1236.9 238.7h0M1210.2 223.5h0M1191.6 231.3h0M1035.6 192.8h0M1097 251.7h0M1197.7 222.9h0M1049.2 202.2h0M1160.3 210h0M1077.9 237.3h0M1050.1 213.2h0M1322.2 256.3h0M1086.1 244.1h0M1045.6 223.5h0M1241.8 231.7h0M1050.2 206.8h0M1202.9 225.2h0M1159.6 209.4h0M1267.8 243.6h0M1266.3 243.8h0M1164.6 212.4h0M1029.7 175.3h0M1140.7 235.2h0M1261.4 239.7h0M1296.2 246h0M1233.8 233.9h0M1277 246.6h0M1217.2 226.9h0M1196.4 210.7h0M1044.9 217.4h0M1032.4 187.2h0M1061.9 241.3h0M1056.9 249.2h0M1170.1 221.7h0M1080.5 238.8h0M1226.5 234.6h0M1232.9 235.2h0M1225.8 226.9h0M1028.2 175.3h0M1317 256.1h0M1196.1 217.6h0M1236 236.5h0M1315.6 255.1h0M1091.4 249.7h0M1058.3 245.5h0M1183.3 226.8h0M1228.7 233.2h0M1143.7 218.5h0M1040.7 208.6h0M1158.1 220.8h0M1071.9 252.2h0M1034.2 184.6h0M1200.8 228.4h0M1059.6 243.3h0M1052.5 229.2h0M1071.2 251.8h0M1143.7 226.8h0M1262.2 241.7h0M1213.1 231.9h0M1075.4 246.1h0M1165.2 209.1h0M1071.5 234.9h0M1181.7 229.9h0M1153.2 217.2h0M1093 250h0M1240.7 237.2h0M1139.3 216h0M1079.3 250h0M1201 225.5h0M1123.3 228.5h0M1206.9 238.5h0M1091.4 254.5h0M1215.6 235.9h0M1207.8 225.5h0M1152.6 217.1h0M1050.3 244h0M1259.4 234h0M1052.8 218.3h0M1040 225.3h0M1311.4 250.8h0M1223.3 229.7h0M1318.4 257.3h0M1190.8 227.1h0M1116.1 234.9h0M1044.8 217.1h0M1183.3 228.8h0M1175.4 212.7h0M1236.1 239.1h0M1151.6 211.7h0M1299.2 248.1h0M1190.1 225.8h0M1026.1 204.6h0M1182.9 214.3h0M1037.4 187.3h0M1095.3 252h0M1034.8 184.9h0M1216.5 236.5h0M1057.1 229.6h0M1075.3 254.2h0M1028.3 173.8h0M1042.2 222.7h0M1129.5 229h0M1303.8 253.2h0M1166.9 225.7h0M1104.7 238.2h0M1139.4 224h0M1145.6 216.2h0M1220.8 232.3h0M1052.6 251h0M1089.6 254.8h0M1135.3 239.1h0M1026 190.2h0M1104 245.9h0M1230.7 233.1h0M1052.5 201h0M1314.5 252.7h0M1108.4 249.1h0M1232.4 234.2h0M1163.9 211.4h0M1031.6 195.5h0M1036.7 217.8h0M1253.4 241.7h0M1021.4 187.9h0M1196.6 239.8h0M1217.7 231.8h0M1052.1 222.7h0M1242 234.7h0M1125.8 239.8h0M1158.3 216.4h0M1076.9 238.3h0M1282.9 247.7h0M1028.5 184.4h0M1230.6 233.8h0M1102.5 249.8h0M1195.5 225h0M1037.5 221.1h0M1238.5 236.1h0M1052.8 243h0M1158.2 217.4h0M1052.2 216h0M1050 197.4h0M1099 247.9h0M1141.5 230h0M1077.4 252.6h0M1232.3 234.4h0M1208.4 222h0M1224.4 231.1h0M1152.9 222.7h0M1060.2 228.5h0M1134.4 224.7h0M1046.4 239.4h0M1053.4 210h0M1065.5 243.3h0M1219.2 223.5h0M1051.1 188.5h0M1251.2 228.8h0M1038 188.1h0M1234.4 230.4h0M1060.7 240.2h0M1193.1 227.5h0M1173.9 221.3h0M1192.7 236.5h0M1195.6 223.2h0M1112.5 249h0M1069.3 244.7h0M1153.9 218.8h0M1193.5 225.4h0M1086.1 237.3h0M1078 241.7h0M1156.4 226.6h0M1141.9 217.9h0M1190.9 227.8h0M1023.2 190.7h0M1235.8 234.2h0M1159 227h0M1126.5 237.4h0M1077.3 255.2h0M1025 184.2h0M1198.5 238.1h0M1049.1 218.2h0M1070.6 235.7h0M1222.7 227.1h0M1031.9 184.1h0M1055.5 234.8h0M1068.1 234.7h0M1030 192.6h0M1033.4 196h0M1020 204.8h0M1067.5 228.7h0M1047.5 220.3h0M1057.8 228.7h0M1108.5 238.3h0M1293.3 249.6h0M1124.7 237.8h0M1056 249.7h0M1279.4 246.3h0M1206.1 227.5h0M1020.8 194.2h0M1209.7 233.5h0M1300.4 252.4h0M1071.6 241h0M1222.1 232.4h0M1012.8 227.6h0M1289.5 248.2h0M1239 220.4h0M1227.8 225.7h0M1078.9 258.5h0M1027 169.5h0M1208.6 236.6h0M1100.2 237.7h0M1062 242.4h0M1070.2 250.2h0M1255.1 240h0M1135.2 222.4h0M1058.4 229.8h0M1125.2 240.2h0M1341 258.7h0M1172.6 219.3h0M1162.5 222.7h0M1241.2 241h0M1134 224.1h0M1235 225.1h0M1149.1 219.6h0M1190.8 236.8h0M1086.8 253.5h0M1102.4 244.3h0M1171.7 212.2h0M1304.8 253.2h0M1125.7 234.2h0M1065.5 222.4h0M1185.9 220.4h0M1095.2 250h0M1206 225.9h0M1177 230h0M1131.9 230.6h0M1243.2 233h0M1025.6 191.3h0M1228.1 232.1h0M1077.7 249.3h0M1076.6 267.3h0M1211 225h0M1048 220.8h0M1053.5 228.3h0M1259.6 237.2h0M1065.7 241.1h0M1159.4 224.4h0M1081.8 254.7h0M1071.2 238.8h0M1208.5 226.3h0M1269.8 246.9h0M1225.3 231.9h0M1240.4 237.5h0M1101.9 252.5h0M1069.1 240.1h0M1293.4 249.6h0M1184.5 216.3h0M1263.8 242.2h0M1083 247.4h0M1056.2 213.6h0M1168.7 225.7h0M1090 254.7h0M1051.7 226.5h0M1051.8 233.3h0M1140.3 230.8h0M1303.1 252.7h0M1045.2 217.1h0M1233.3 236.5h0M1048.2 218.7h0M1152.5 218.3h0M1169.6 226.7h0M1216.6 227.9h0M1049.7 231.4h0M1143.9 223.6h0M1063.3 229.9h0M1134.4 238.2h0M1130.9 218.8h0M1266.8 241.7h0M1072.7 239.5h0M1054.7 250h0M1023.4 201.3h0M1205 235.7h0M1157.7 209.7h0M1211.2 227.8h0M1094.9 237.4h0M1027.2 190.4h0M1031.3 181.1h0M1059.2 230.1h0M1088 245.5h0M1061.1 222h0M1108.4 248.8h0M1149.3 232.2h0M1212.4 233.1h0M1240.3 231.9h0M1035.2 211.7h0M1088.7 247.6h0M1122.6 231h0M1148.8 225.9h0M1227.8 223.2h0M1231.5 229.8h0M1178 211.6h0M1275.2 245.2h0M1247.5 238.7h0M1029.2 180.1h0M1062.3 249.2h0M1050.7 236h0M1283.6 247.7h0M1172.1 208.3h0M1051.7 243.4h0M1140.4 226.4h0M1045.2 223.4h0M1221.7 234h0M1235.4 236.8h0M1040.2 227h0M1166.7 225.3h0M1132.9 234.2h0M1178.3 223.8h0M1107.4 252.1h0M1205.5 231.7h0M1149.2 224.6h0M1163.8 228.8h0M1051.6 221.3h0M1196.4 222h0M1057 231.2h0M1182.2 222.3h0M1076.1 232h0M1075.2 247.2h0M1031.8 185.6h0M1205.6 225.6h0M1219.3 221.1h0M1065 237.8h0M1156.9 220.6h0M1021.2 197.2h0M1101 248.5h0M1069.5 239.4h0M1054.2 216.1h0M1167.9 218.3h0M1139.2 228.8h0M1184.5 226.2h0M1182.7 230h0M1257.3 240.5h0M1187.4 221.8h0M1137.8 226.9h0M1241 230.6h0M1276.4 245.4h0M1165.8 217.6h0M1022 203.4h0M1236.5 236.6h0M1033 179.5h0M1175.8 213.9h0M1053.7 222.1h0M1236.1 223.3h0M1290.1 248.6h0M1095.3 240.4h0M1231.6 235.8h0M1184.3 231.7h0M1042.5 197.7h0M1026.4 196.7h0M1050 223.1h0M1020.8 197.8h0M1195.8 232.4h0M1098.4 254.1h0M1113.8 237.9h0M1158.6 224.8h0M1235.8 223.9h0M1241.7 237.2h0M1033.3 197.8h0M1218.8 231.7h0M1272.8 240.8h0M1132.6 231h0M1251.8 240.7h0M1252.5 235h0M1076.5 236.1h0M1161 230.6h0M1052.3 246.6h0M1201.8 222.1h0M1191.4 222.9h0M1192.2 234.1h0M1069.8 226.9h0M1134 227.5h0M1120.8 232.9h0M1246.9 234.8h0M1025.8 209.3h0M1145 219.1h0M1050.3 206.8h0M1209.2 232.2h0M1219.2 237.8h0M1209.3 234.3h0M1089.5 246.9h0M1025.1 210.3h0M1101.1 250.7h0M1047.3 201.8h0M1091.4 250.9h0M1285.1 245.7h0M1220.3 233.3h0M1030.7 183.3h0M1279.3 241.9h0M1252.8 240.5h0M1265 243h0M1056.9 235.7h0M1029.1 179.2h0M1180.9 228.6h0M1126.5 237.3h0M1024.6 195.3h0M1267 241h0M1145.3 218.5h0M1118.8 238.2h0M1076.8 258.2h0M1168 212.2h0M1203.7 234.7h0M1174.3 213.6h0M1258.2 242.4h0M1201.1 231h0M1064.1 219h0M1196.8 240.8h0M1186.5 237.7h0M1108.6 247.1h0M1108.9 242.7h0M1062.4 242h0M1191.9 234.9h0M1117 243.3h0M1213.3 232.4h0M1063.7 243.8h0M1121.5 232.8h0M1260.4 243.7h0M1138.4 238.6h0M1042.1 217.8h0M1071.1 240.9h0M1034 212.1h0M1050.9 222.2h0M1040.8 230.6h0M1173.5 224.3h0M1101.2 239.8h0M1020.9 206.5h0M1205.5 234.5h0M1145.5 220.5h0M1076 257.1h0M1111.5 249.5h0M1049.9 199.5h0M1036.3 217.6h0M1028.6 193.9h0M1057.7 234.5h0M1139.7 232.6h0M1219.1 233.8h0M1036.4 208.5h0M1228.1 239.4h0M1027.9 202.3h0M1146.8 212.7h0M1191 223.7h0M1186.2 221.6h0M1077.9 254h0M1182.2 221.8h0M1133.9 226.8h0M1090.1 252.6h0M1050.1 219.1h0M1071.1 239.7h0M1043.3 224.7h0M1257.6 240h0M1042.1 232.9h0M1225.6 228.4h0M1208.5 235.4h0M1260 236.4h0M1200.8 227.7h0M1127.1 239.8h0M1241.5 235.9h0M1042.6 228.8h0M1324.6 256.5h0M1096.9 252.3h0M1151 225.8h0M1198.4 228.8h0M1240.3 239.8h0M1135.8 218.5h0M1053.6 201.5h0M1182.4 227.1h0M1261.1 237.4h0M1141.7 230.5h0M1125.3 236.4h0M1081.8 259.4h0M1025.3 186.2h0M1038.9 226h0M1015 236.5h0M1175.3 213.8h0M1195.2 225.2h0M1017.9 229.2h0M1025.8 166.6h0M1163.5 217.1h0M1155.6 226.1h0M1030.7 201.8h0M1042 221.2h0M1232.7 231.6h0M1092.9 254.8h0M1072.7 253.2h0M1057.9 244.2h0M1110 247.2h0M1207.4 232.5h0M1149.3 225.4h0M1168.7 224h0M1100.8 244.1h0M1088.9 252.1h0M1074.9 252.3h0M1184.5 238h0M1223.9 235.2h0M1112.9 246.2h0M1030.9 192.6h0M1230.5 230.4h0M1065 245.9h0M1167.8 217.9h0M1094 245.9h0M1052.9 200h0M1246.5 222.9h0M1322.1 258.5h0M1054.2 232.7h0M1072.9 257.9h0M1246.8 235.2h0M1142.6 231.6h0M1254.4 233.4h0M1265.3 242.8h0M1099.9 253h0M1192 223.1h0M1191.7 220.8h0M1180.4 228.3h0M1081.6 258.4h0M1088.4 254.5h0M1029.5 183.2h0M1018.6 223.6h0M1149.2 223.8h0M1214.2 234.3h0M1186.9 226.1h0M1262 241.9h0M1041.4 214.2h0M1034.1 195.2h0M1141 224.3h0M1151.3 230.4h0M1180.3 233h0M1039.1 218.6h0M1024.5 194.2h0M1208.3 232h0M1138.8 229.8h0M1043.3 223.2h0M1197.6 222.3h0M1101.4 252.6h0M1099.2 249.1h0M1202.3 239.3h0M1280 247.5h0M1039.4 187.2h0M1096.6 238.6h0M1068.1 238.7h0M1071.9 254.7h0M1129 232.7h0M1064 246.7h0M1085.6 241.3h0M1110 241.6h0M1229.6 234.9h0M1037 217.3h0M1095.8 236.5h0M1120.3 242.2h0M1027.2 188.8h0M1039.1 208.7h0M1228.5 229.6h0M1064.7 246.2h0M1142.9 217h0M1047.7 204.2h0M1198.5 225.9h0M1238.7 240.8h0M1241.9 238.5h0M1038.3 215.7h0M1186.8 230.3h0M1022.5 229.2h0M1076.7 249.3h0M1079.8 257.1h0M1067.2 257.3h0M1240.9 233.6h0M1239.9 236.7h0M1042.7 226.2h0M1033.3 188.7h0M1256.4 241.9h0M1131.9 234.4h0M1129.8 226.7h0M1219.9 230.7h0M1077.2 249.2h0M1024.4 195.7h0M1244.7 233.6h0M1050.9 196.2h0M1052.4 221.5h0M1154 228.8h0M1238.4 229.9h0M1101.3 247.7h0M1239.3 229.6h0M1137 229.5h0M1057.2 238.6h0M1020.1 230.5h0M1224.7 231.7h0M1077.7 244.5h0M1046.2 216.8h0M1264.9 238.8h0M1066.2 242.7h0M1258.1 241.2h0M1320.6 255.9h0M1126.5 240h0M1077.9 241.1h0M1021.3 198.7h0M1030.6 209.2h0M1111.6 249.6h0M1041.1 218.2h0M1088.5 241.3h0M1211.7 232.6h0M1041.8 225.2h0M1144.1 231h0M1165.4 224.9h0M1184.9 237.1h0M1258.4 229.9h0M1192.9 228.5h0M1048.6 205.1h0M1033 216.4h0M1091.2 250.7h0M1214.8 236.4h0M1032.4 171.6h0M1120.6 241.6h0M1054.6 197h0M1135.2 217.2h0M1175 227.2h0M1081.2 237.7h0M1160.8 213.5h0M1129.5 234.7h0M1190.9 231.8h0M1066.1 234.8h0M1053.5 205.9h0M1029.7 199.1h0M1143 218.3h0M1068.9 256.7h0M1052.2 236.8h0M1089.2 238h0M1051 192.1h0M1126.3 228.1h0M1054.3 238h0M1203.4 229h0M1318.9 253.4h0M1181.4 234.1h0M1309 253.4h0M1153.9 221.6h0M1167.4 230.7h0M1035.1 200.5h0M1047.9 218.2h0M1147 218.9h0M1263.8 242.8h0M1032.5 183h0M1190.3 230.2h0M1136.8 237.3h0M1182.8 232h0M1259.9 241.5h0M1247.3 221.3h0M1075.4 240.5h0M1050.6 219.9h0M1031.4 208.5h0M1041 209.8h0M1044.5 230.5h0M1048.5 218.8h0M1033.1 216.4h0M1203.4 225.1h0M1290.3 248.6h0M1057.2 226.1h0M1033.9 207.7h0M1217.7 229.5h0M1078 250.4h0M1071.3 257.9h0M1176.9 224.7h0M1141.5 225.4h0M1040 224h0M1038.3 219.1h0M1103.9 249h0M1187.8 219h0M1114.6 248.8h0M1070.5 254.5h0M1055.6 223.7h0M1154.9 222h0M1210.6 239.6h0M1031.5 212.5h0M1249.3 225.8h0M1056.6 251.2h0M1024.8 203.8h0M1250.6 236h0M1231.7 224.3h0M1105.6 243.7h0M1331.5 254.3h0M1020 228.3h0M1241.6 240h0M1331.4 255.1h0M1276.4 247.2h0M1207 238.7h0M1276.2 243.3h0M1071.6 238.6h0M1123.5 233.9h0M1077.1 249.9h0M1152.1 230.8h0M1242.3 237.4h0M1223 223.9h0M1048.5 195.8h0M1164.8 223h0M1049.4 200.6h0M1073.9 253.3h0M1256.8 240.5h0M1038.9 219.1h0M1023.4 181.1h0M1227.8 233.4h0M1157.4 228.3h0M1137.1 237.3h0M1143.2 232.4h0M1043.2 224.7h0M1174.8 211.1h0M1047.4 223.5h0M1187.9 225.7h0M1120.7 244.9h0M1169.9 214.3h0M1023 188.2h0M1094.9 246.3h0M1048.5 221.9h0M1153.9 221.7h0M1083.4 256.8h0M1063.6 226.9h0M1202.4 230.1h0M1049 222.9h0M1068.4 239.4h0M1217.3 232.8h0M1052.2 208.4h0M1230.4 226.1h0M1256.4 233.9h0M1256.5 236.9h0M1079.8 242.4h0M1040.2 220.6h0M1317.3 257.5h0M1142.6 220.3h0M1157 232.1h0M1064.8 244.4h0M1107.8 250h0M1252 235.9h0M1038.3 202.3h0M1160.9 221.3h0M1076.6 248.4h0M1083.5 257.4h0M1064.4 238.5h0M1187.4 226.6h0M1180.3 230.3h0M1038.5 206.9h0M1073.2 226.6h0M1057.3 217h0M1189.6 231.6h0M1037.5 186.8h0M1226 234.1h0M1106.5 244.2h0M1129 231.3h0M1294.6 248.7h0M1175.1 230.5h0M1312.4 255.1h0M1154.2 231.2h0M1051 217.8h0M1064.3 245.6h0M1147.7 211.3h0M1207.3 235.9h0M1143.3 213.1h0M1022.5 180h0M1046.2 229.9h0M1131.7 222.9h0M1026.2 198h0M1044.7 217h0M1133.7 227.2h0M1104.7 246.5h0M1054.9 197h0M1244.4 234.2h0M1085 250.9h0M1048.1 219h0M1244.9 224.5h0M1193.2 226.9h0M1326.5 255.9h0M1052.6 195.5h0M1088.8 241.7h0M1028.5 191.4h0M1147.4 225.9h0M1168.1 229.4h0M1194.2 221.6h0M1202.2 226.6h0M1200.8 224h0M1214.5 226.2h0M1224.2 232.7h0M1317.6 253.9h0M1174.4 209.4h0M1235.5 230.5h0M1131.7 238h0M1167.5 216.5h0M1157.2 224.8h0M1265.3 237.4h0M1051.1 224.9h0M1173.3 225.7h0M1059.5 250.1h0M1045.2 216.8h0M1021 203.3h0M1068.8 251.6h0M1050.4 244.1h0M1104 242.3h0M1032.8 184.8h0M1145 212.5h0M1057.9 240.3h0M1176.4 222.4h0M1034.7 198.9h0M1080.8 255.4h0M1067 232.2h0M1028.8 198.8h0M1027.5 178.5h0M1051.6 189.6h0M1025.1 186.3h0M1199.9 228.6h0M1055.9 222.7h0M1048.7 219.7h0M1224 235.5h0M1058.9 243.4h0M1244 211.3h0M1085.6 235.6h0M1232.1 220.5h0M1081.5 252.5h0M1155.6 220.7h0M1242.9 238.5h0M1049.6 207.5h0M1066.9 231.1h0M1150.9 212.2h0M1046.5 223.1h0M1034.4 213.5h0M1090.2 236.4h0M1040.4 231.7h0M1048.9 197.4h0M1201.7 229.8h0M1231.3 233.3h0M1036.3 204.2h0M1196.5 222.1h0M1015 221.6h0M1249.2 223.7h0M1215.5 228.3h0M1326.3 256.3h0M1117.7 233.1h0M1143.7 233.6h0M1232.6 221h0M1156.9 222h0M1215.6 232.9h0M1047.1 217.5h0M1039.2 217.8h0M1067.7 246.3h0M1247.9 223.1h0M1133.4 224.7h0M1215.2 226.2h0M1234.1 229.6h0M1087.9 253h0M1107.6 246.1h0M1069.6 231.4h0M1103.4 253.1h0M1129.4 222.8h0M1029.9 200.5h0M1250.1 228.8h0M1031.6 184.7h0M1157.2 221.1h0M1080.4 244.6h0M1159.2 231.9h0M1326.9 254.2h0M1245.5 237.7h0M1202.4 222.1h0M1312.1 255.3h0M1087.1 240.2h0M1085.1 238.7h0M1091.8 252.8h0M1231 237.3h0M1085.2 250.9h0M1267.2 236.9h0M1276.2 241.6h0M1336.7 256.3h0M1224.9 229.3h0M1048.2 190.7h0M1197.7 219.9h0M1054.6 241.6h0M1071.4 253h0M1078.7 244.6h0M1097.8 242.2h0M1322 256.5h0M1077 247.7h0M1060.7 224.2h0M1134.5 220.7h0M1061 234.3h0M1058.9 222.9h0M1088.2 249.4h0M1149.8 231.3h0M1075.4 250.1h0M1119 234.7h0M1250.1 231.1h0M1050.9 227.9h0M1099.9 249.7h0M1072.6 250.8h0M1199.8 233.5h0M1137.5 233h0M1150.9 214.8h0M1020.7 194.8h0M1038.8 219.4h0M1135.6 222h0M1131.3 239.4h0M1066.5 255.9h0M1188.3 226.7h0M1156 212.7h0M1040.7 217.9h0M1181.9 219.4h0M1075.7 246.8h0M1061.4 235.2h0M1196.1 226.8h0M1194.9 241.7h0M1049.4 216.1h0M1150.9 228.4h0M1085.6 241.2h0M1169.6 216.8h0M1139.8 214.9h0M1203.4 232.9h0M1253 228.5h0M1248.4 238.1h0M1029.5 187.9h0M1038.8 219.2h0M1175.9 226.2h0M1076.8 235.9h0M1325.4 253.4h0M1073.5 244h0M1314.3 255h0M1330.5 254.4h0M1027.3 208.1h0M1237.6 227.2h0M1223.9 223.1h0M1194.5 236.6h0M1059.1 235.4h0M1150.7 215.4h0M1037.3 221.6h0M1068.8 251.8h0M1117.5 243.3h0M1237 218.7h0M1159.3 224.4h0M1339.2 259h0M1193.6 236.8h0M1317.8 254.8h0M1178.6 221h0M1238.2 218h0M1143.3 224.9h0M1091.6 251.4h0M1029.8 180.7h0M1263.1 235.3h0M1219.4 233.7h0M1156.7 223.4h0M1048.1 198.4h0M1116.1 246.8h0M1087.2 249.8h0M1293.9 250h0M1217.2 230.5h0M1167.6 228.3h0M1176.5 209.8h0M1023.2 194h0M1065.9 239.4h0M1192.7 223h0M1145 218.6h0M1079.3 247.9h0M1053.3 222.6h0M1200.2 226.4h0M1137 235.7h0M1167.8 225.7h0M1095.1 253.3h0M1046.7 201.9h0M1038.9 208.1h0M1230.5 229.1h0M1050.2 221.9h0M1333.3 253.3h0M1128.9 232.2h0M1075.6 253.3h0M1146 230.4h0M1069.1 237.6h0M1158.8 214h0M1251.2 233.1h0M1256.1 240.2h0M1221.4 235.6h0M1033.4 188.1h0M1033.4 196.2h0M1258.7 237.7h0M1117.6 237.5h0M1040.5 214h0M1232.9 238.4h0M1099.5 243.5h0M1082.2 251h0M1307.1 254.4h0M1053.3 223h0M1225.6 232.8h0M1023 184.6h0M1049.6 243.6h0M1232.4 236.8h0M1289.4 245.9h0M1032.2 192.2h0M1197.5 233.4h0M1236.2 231.6h0M1069.3 244.1h0M1024.5 202.7h0M1183.4 227.9h0M1231.3 226.5h0M1316.3 256h0M1111.6 245.2h0M1052.8 213.1h0M1321.8 256.6h0M1075.9 250.3h0M1189.1 238.4h0M1276.8 243.7h0M1058.6 240.5h0M1127.3 234.7h0M1250.3 240.3h0M1197.2 224.8h0M1171.9 210.9h0M1158.9 208.9h0M1120.9 246.3h0M1236.8 235.8h0M1343 258.8h0M1061.6 227.9h0M1196.9 234.4h0M1058.8 251.8h0M1245.8 231.9h0M1027.5 188.6h0M1091.4 252h0M1314.8 256.7h0M1185.9 236.6h0M1049.5 192.6h0M1270.6 243.6h0M1046.7 233h0M1049.1 238.6h0M1269.7 242.1h0M1272.3 240.6h0M1063.3 232.6h0M1143.8 228.1h0M1161.3 216.3h0M1075.1 248.6h0M1059.2 225.8h0M1093 248.6h0M1129.5 232.4h0M1177.4 217.5h0M1025.3 194.8h0M1028.5 173.8h0M1175.8 217.1h0M1242.8 235.8h0M1066.4 236.3h0M1173.4 224.6h0M1041 216.3h0M1033.6 206.8h0M1057.8 239.4h0M1062.8 225.8h0M1078.9 233.5h0M1124.3 238.3h0M1057.1 228h0M1323.4 254.6h0M1096 243.2h0M1143.4 229h0M1051.4 223h0M1242.6 224.1h0M1038.3 221h0M1199.8 232.4h0M1050 193.2h0M1145.5 226.3h0M1061.7 230.2h0M1021.7 227.6h0M1022.6 203h0M1243.4 223.4h0M1163.6 213.8h0M1253.6 239.6h0M1026.3 192.3h0M1070.4 238.8h0M1181.3 226.8h0M1210.9 225.2h0M1174.9 220.4h0M1138.4 231.8h0M1048 215.1h0M1043.6 235.5h0M1048.3 229.7h0M1175.3 209.6h0M1137.7 217.2h0M1067.2 233.3h0M1064 252.9h0M1034 214.1h0M1167.1 226.3h0M1128.6 235.1h0M1122.5 239.7h0M1118.2 237.8h0M1308.5 251h0M1194.5 222.4h0M1040.2 218h0M1036.7 223h0M1185.4 224.3h0M1040.3 185.3h0M1319.1 255.9h0M1202.9 231.5h0M1084.3 253.2h0M1236.9 236.1h0M1158.3 222.1h0M1043.9 229.2h0M1269.8 247.2h0M1078.6 242.5h0M1040.1 194.3h0M1263.4 241.8h0M1080 252.7h0M1302.3 251.8h0M1278 241.9h0M1179.3 211.9h0M1205.5 221.6h0M1089.9 257.5h0M1246.9 238.6h0M1046.3 203h0M1170.7 217.3h0M1060.1 240.6h0M1029.8 202.2h0M1086.1 247.4h0M1038.6 217.4h0M1128.5 233.4h0M1219.3 229.9h0M1191.7 222.2h0M1262.5 243h0M1037.3 217.3h0M1035.2 188.8h0M1049.4 219.5h0M1053.7 210.6h0M1050.8 196h0M1259.8 242.3h0M1241.7 232.5h0M1076.9 246.8h0M1190.5 223.4h0M1269.8 243h0M1309.9 254h0M1081.2 225.7h0M1135.5 220.5h0M1033.9 197.8h0M1052.6 192.6h0M1037.7 217h0M1103.9 255.6h0M1130.8 225.9h0M1039.1 200.4h0M1037.4 218.1h0M1028.4 181h0M1196.3 231.4h0M1128.7 225.9h0M1237.7 217.1h0M1032.5 200.9h0M1024.2 190.5h0M1174.9 213.6h0M1053.5 252.7h0M1168.4 220h0M1332.8 255.3h0M1240.6 232.7h0M1040.7 218.5h0M1069.9 241.5h0M1081.7 242.5h0M1068.8 223.5h0M1210.2 232.5h0M1196.2 229.6h0M1141.7 217.5h0M1042 208.4h0M1065.9 231.8h0M1150.6 233.8h0M1147.1 223.2h0M1097.9 257.6h0M1244.8 238.2h0M1308 250.6h0M1257.3 240.3h0M1060.3 233.9h0M1029.1 197.7h0M1050.4 192.5h0M1070.2 240.1h0M1045.4 234h0M1054.1 254.3h0M1275.4 242.9h0M1026.1 196.8h0M1051.5 227.6h0M1074.2 239.4h0M1038.4 196.2h0M1170.3 221.6h0M1111.4 237.1h0M1054 240.4h0M1078 253.9h0M1262.5 244.6h0M1200.6 237.3h0M1162.6 222.5h0M1071.1 249.9h0M1063.7 239.5h0M1082.3 259.1h0M1109.9 244.5h0M1252.3 225.9h0M1239.4 237h0M1095.1 254.4h0M1143.8 219.6h0M1213.7 230h0M1141.3 222.2h0M1184.3 220h0M1282.4 248.7h0M1231.5 229.5h0M1073.8 248.7h0M1041.8 218.2h0M1029.8 166.6h0M1060.5 230.1h0M1165 223.8h0M1270.9 243.4h0M1072.8 254.4h0M1328.3 255.7h0M1140.6 216h0M1137.1 230.3h0M1074 242.7h0M1086.7 239.1h0M1126.9 242.5h0M1124.7 237.1h0M1051.5 235.7h0M1320.4 253.8h0M1085.6 236.9h0M1054.3 196.7h0M1234.9 224.2h0M1080.7 248.8h0M1049.1 217.1h0M1176.5 221.6h0M1048.2 233.1h0M1071.7 241.8h0M1213.1 232.1h0M1195.3 226.8h0M1043.3 221.6h0M1214.7 232.8h0M1072.4 249h0M1053.4 205.6h0M1187.6 232.6h0M1034.6 200.2h0M1150.5 224.2h0M1061.5 256.8h0M1020.9 227.5h0M1152.3 221.2h0M1151 223.9h0M1029.4 181.3h0M1064.7 224.4h0M1225.4 228.2h0M1126.9 239.8h0M1149.1 234.7h0M1241.1 231.9h0M1153.5 216.8h0M1075 249.2h0M1178.9 228.8h0M1115.1 244.2h0M1108.7 241.7h0M1156.6 223.2h0M1269.1 246.3h0M1032.5 177h0M1029.7 181.3h0M1191.6 230.6h0M1154.7 222.1h0M1058.2 248h0M1065.8 231h0M1158.8 213.2h0M1195.5 234.6h0M1094.4 242.2h0M1140.5 218.6h0M1080.9 254.5h0M1316.2 252.9h0M1051 223.3h0M1218.8 239.1h0M1066.5 235.5h0M1229.6 233.7h0M1179.2 227.4h0M1214.7 234.4h0M1157.8 209.3h0M1094.9 251.5h0M1170.5 214.2h0M1068.7 228.4h0M1286.8 248.7h0M1143.9 223.5h0M1332.4 255.7h0M1125 225.7h0M1101.8 246.5h0M1146.5 222.3h0M1260.1 239.3h0M1146.7 227.9h0M1218.5 228.6h0M1036.4 218.6h0M1253.6 239.7h0M1020 232.7h0M1059.7 233.3h0M1300 253.1h0M1209.6 221.9h0M1057.6 227.8h0M1179.1 212.7h0M1026.1 206.6h0M1152.3 211.5h0M1138.1 220.9h0M1170.3 222.4h0M1022.3 228.4h0M1185.1 223.1h0M1107 247.1h0M1130.1 239.3h0M1277.7 248.9h0M1064.2 245.9h0M1062.5 243.3h0M1055.9 227.1h0M1049.6 226.3h0M1264.4 245.5h0M1127.5 226.7h0M1228.1 237.1h0M1026.4 193.4h0M1217 221.1h0M1024 194.7h0M1035.4 197.3h0M1044.9 227.9h0M1266.4 240.6h0M1209.8 227.2h0M1239.7 239.2h0M1093.8 250.2h0M1084.2 250.8h0M1212.9 240.3h0M1083.1 246.4h0M1296.4 250.9h0M1304.4 253.4h0M1026.6 182.6h0M1176.5 216.6h0M1207.8 224.7h0M1166.1 211.3h0M1192.1 224.7h0M1076.6 253h0M1201.8 236.7h0M1163.9 223.4h0M1061.9 245.9h0M1022.1 212.7h0M1188.4 222.7h0M1036.6 180.6h0M1154.6 221.8h0M1153.8 231.2h0M1201.4 225.6h0M1283.1 247.9h0M1305.2 252.9h0M1086.3 255.1h0M1048 219.6h0M1316 253.7h0M1072.3 240.9h0M1063.8 244.4h0M1262.8 240.5h0M1037.4 219.1h0M1221.3 228.3h0M1159.9 220.9h0M1206.2 227.9h0M1166.2 219.5h0M1171.3 216.2h0M1131.7 237h0M1162.9 225.9h0M1187.4 218.2h0M1174.6 227.2h0M1072.8 255.9h0M1049.1 228.1h0M1031.3 174h0M1189.7 235.6h0M1166.7 223.3h0M1226.2 226.4h0M1040.6 209h0M1140 220h0M1247 238.4h0M1055.2 225.5h0M1071.7 230.5h0M1166.5 221.1h0M1035 219h0M1114.4 248.6h0M1306.9 251.6h0M1203.3 221.4h0M1170.7 222.3h0M1116.8 246h0M1253.4 239.8h0M1252.8 239.5h0M1030.4 198.7h0M1160 222.6h0M1062.3 241.4h0M1030.8 208.1h0M1108.5 243.8h0M1094.7 255.8h0M1141.9 225.1h0M1030 178.2h0M1242 237.8h0M1109.1 245h0M1236.8 219.9h0M1184.8 229h0M1124.2 238.8h0M1205.8 228.3h0M1127.3 230h0M1074.4 243.9h0M1054 215h0M1189.2 234.3h0M1021.1 191.8h0M1074 238.7h0M1037.5 222.3h0M1156.4 222.4h0M1237.9 229.6h0M1222.1 231.9h0M1140.2 224.2h0M1249.2 225.9h0M1228.4 230.8h0M1214.4 231.3h0M1150.1 220h0M1058.2 237.6h0M1181.3 219.9h0M1209.3 233.3h0M1094.6 251h0M1106.5 253.4h0M1142.3 230.6h0M1232.6 235.6h0M1120.6 232.3h0M1200.6 220h0M1051.3 213.9h0M1128.3 236.9h0M1134.3 219.5h0M1231.7 221.6h0M1084.6 237.8h0M1315.5 256.7h0M1138.2 232.3h0M1095.9 251.3h0M1094.1 257.2h0M1099.3 250.3h0M1142.6 222.8h0M1055.6 245.9h0M1268.3 240.2h0M1065 236.2h0M1170.2 212.7h0M1070.3 256.8h0M1263.9 242.4h0M1077 248.4h0M1102.4 248.9h0M1083 250.8h0M1093.6 252.4h0M1130.4 227h0M1254.1 239.6h0M1238.6 239.6h0M1161.8 212.8h0M1012 231.3h0M1108.2 249.7h0M1133.2 227.9h0M1094.9 251.9h0M1046.7 195.6h0M1057.1 255.5h0M1087.2 239h0M1207 228.7h0M1047.3 197.9h0M1072.6 234.6h0M1144.2 214.1h0M1135.9 235.6h0M1109.2 248.7h0M1034 217.8h0M1023.4 188.9h0M1052.6 194h0M1258.8 243.1h0M1121.2 238.8h0M1022.9 184.6h0M1158.1 218.9h0M1033.8 202.6h0M1163.5 224.6h0M1180.6 231.2h0M1313.7 252.4h0M1084.3 242.6h0M1026.3 190.9h0M1099.4 257.1h0M1046.8 218.5h0M1122.7 228.8h0M1273.1 247.2h0M1360.5 260.2h0M1129.9 221.6h0M1121.6 238.6h0M1083.1 249.5h0M1050.4 218.3h0M1159 218.8h0M1051.2 241.2h0M1219.4 225.9h0M1138.7 221.3h0M1176.2 219.7h0M1022.7 190h0M1059.6 251.2h0M1064.4 223.7h0M1050.2 220.7h0M1070.4 248.2h0M1062.5 240.8h0M1124.4 226.8h0M1193.6 221.8h0M1165.3 231.1h0M1024.4 176.7h0M1058.3 243.3h0M1162.9 224.1h0M1142.3 225.1h0M1063.7 220.7h0M1080.5 240.2h0M1034.4 191.6h0M1061 238.8h0M1172 230.1h0M1214.8 229.4h0M1135.7 220.9h0M1116.6 237.8h0M1153.7 223.9h0M1148.4 227.8h0M1052.9 217.4h0M1072.7 251.2h0M1237.7 223.2h0M1095.1 238.5h0M1183.7 234.4h0M1044.5 230.3h0M1197 236.2h0M1067.5 248.3h0M1070.4 237.2h0M1072.4 247.4h0M1182.2 227.1h0M1213.9 220.6h0M1086.4 257.1h0M1243 227h0M1257 242.2h0M1097.7 252.1h0M1143.8 228.2h0M1259.7 243.3h0M1106.9 251h0M1204 225.2h0M1089 240.5h0M1038.4 223.7h0M1215.4 227.9h0M1033.5 194.8h0M1207 234.6h0M1171.2 212.1h0M1123 227.1h0M1078.8 240.5h0M1065.5 244.7h0M1098.9 255.9h0M1113.9 239.4h0M1209.7 245.7h0M1038.5 219.5h0M1099 251h0M1230.9 225.2h0M1205.9 223.4h0M1192.2 225.6h0M1299.1 249.8h0M1161.7 228.6h0M1247.9 237.8h0M1060.6 236.3h0M1072 241.7h0M1096.3 237.5h0M1148.9 220.7h0M1096.4 243.3h0M1053.3 224.1h0M1027.1 188.6h0M1178.3 225.9h0M1061.4 238.4h0M1206.3 232.7h0M1071.9 257.4h0M1218.3 227.9h0M1055 225.6h0M1089.7 250.4h0M1196.5 229.1h0M1118.7 243.2h0M1035.1 171.5h0M1164.6 225.2h0M1049.3 220.7h0M1289.2 246.1h0M1119.4 240.9h0M1248.9 234h0M1020.7 205h0M1074.3 232.9h0M1049.6 187.8h0M1028.5 211.9h0M1070.8 253.9h0M1036.9 221.4h0M1044 235.7h0M1153.5 226h0M1041.1 229.7h0M1154.4 218.3h0M1035.2 218.6h0M1046.8 216.8h0M1137.8 227.6h0M1032.2 190.8h0M1220.8 227.4h0M1192.1 235.8h0M1153.6 218.1h0M1125.9 242.8h0M1034.4 206.5h0M1180.9 226.2h0M1116.5 241.6h0M1048.2 218h0M1031.6 224.1h0M1054.1 199.4h0M1100.6 252.5h0M1056 236.7h0M1179.8 230.9h0M1148.9 229.1h0M1051.1 241.7h0M1164.6 221.6h0M1162.6 215.2h0M1262.8 243.7h0M1143.3 216.4h0M1267.7 244.7h0M1072.3 247.2h0M1084.3 246.3h0M1082.4 254.3h0M1060.8 224.9h0M1068.1 226h0M1061.1 220.5h0M1032.7 183.6h0M1173 224h0M1081.1 251h0M1030 203.7h0M1084.6 248h0M1204 220h0M1331 252.9h0M1194.6 230.4h0M1086.1 244.7h0M1181.6 222.4h0M1138.2 225.3h0M1179.3 218.2h0M1038.9 189.2h0M1046.7 233.9h0M1047 220.3h0M1082.9 248.2h0M1174.4 214h0M1207.6 230.3h0M1138.7 231.3h0M1205.1 220.5h0M1012.4 234.9h0M1040.6 229.4h0M1071.2 238.4h0M1043.1 224.7h0M1096 248.2h0M1043.3 230.9h0M1220.6 238.9h0M1127.2 223h0M1038 220.7h0M1170.1 208.6h0M1047.5 235.5h0M1344.2 258.3h0M1241.2 238.4h0M1053.3 241.6h0M1133.4 235.5h0M1030.7 191.1h0M1075.9 249.8h0M1035.9 218.9h0M1057.4 247.7h0M1176.4 226h0M1105.7 250.8h0M1065.2 256.1h0M1052.2 226.9h0M1044.3 228.2h0M1095 241.9h0M1057.8 255.3h0M1163.6 229h0M1033.6 188h0M1335 255.5h0M1143.6 222.1h0M1283 242.6h0M1178.8 229.7h0M1070.6 235.4h0M1194.4 226h0M1136 229.8h0M1078 234.7h0M1200.7 230.8h0M1289.2 249.9h0M1213.4 227.5h0M1239.1 223.8h0M1187.4 226.5h0M1057.8 233.6h0M1057.8 236.9h0M1072.6 241h0M1217.6 225.6h0M1236 234.6h0M1054.4 204.6h0M1238.3 219.3h0M1057.7 253.5h0M1171.8 220.2h0M1184.3 226.6h0M1068.2 229.5h0M1261.1 236.5h0M1110.2 249.8h0M1102.3 255.6h0M1077.2 251h0M1215.2 226.1h0M1135 235.7h0M1082.1 238.5h0M1143.7 222.3h0M1037.7 219.3h0M1284.9 246.9h0M1261.2 241.6h0M1049.8 212.8h0M1024.1 209.4h0M1025.4 187.2h0M1175 231.7h0M1245.7 220.6h0M1064 234h0M1108.3 243.7h0M1215.4 227.1h0M1171.4 210.8h0M1247.8 239.3h0M1175.3 210.9h0M1116.9 245.8h0M1176.8 216.9h0M1215.7 224.1h0M1027 175h0M1179.4 209.9h0M1277.8 242.3h0M1109.7 251.7h0M1217.6 233h0M1053.9 203.6h0M1053.9 223.8h0M1239 228.3h0M1241.4 226.7h0M1084.4 250.3h0M1052.1 233.8h0M1024.4 200.8h0M1247.8 227.1h0M1214.7 231.5h0M1258.2 241.9h0M1152.2 228.2h0M1054.9 201.7h0M1150.1 231.1h0M1138.8 230.1h0M1036.1 219.1h0M1210.7 229.3h0M1052.2 220.1h0M1181.6 228.8h0M1172.1 211.2h0M1073.3 255.6h0M1175.4 231h0M1240.6 234.6h0M1034.9 219.3h0M1159.2 213.9h0M1102.1 255.7h0M1191.7 232.1h0M1201.1 228.4h0M1232.7 232.6h0M1103.6 243.7h0M1235.7 231.8h0M1058.4 222.6h0M1161.7 223.4h0M1064.5 217.8h0M1051.5 218.6h0M1183.8 225.3h0M1149.8 213.4h0M1033.9 196.5h0M1030.8 174.7h0M1050.1 236.8h0M1217.5 239.4h0M1137.4 222.7h0M1098.1 249.5h0M1226.7 221.8h0M1064.6 255.9h0M1137.6 228.6h0M1060 219.2h0M1064.2 235.1h0M1164.5 217.4h0M1056.1 237.8h0M1279.3 248.3h0M1054.1 206.2h0M1119.4 235.4h0M1091.1 254.6h0M1238.5 231.1h0M1236.5 232.5h0M1325.8 255.1h0M1126.1 224.4h0M1131.2 237.8h0M1201.2 231.4h0M1077.7 239.6h0M1061.6 250h0M1024.7 184.7h0M1013.2 227h0M1132.7 237.1h0M1112 248.6h0M1042.5 219.2h0M1120 246.1h0M1149.3 228.3h0M1051.1 199.6h0M1149.3 215.8h0M1160.3 215.5h0M1083.6 258.6h0M1114.6 241.9h0M1051.7 212.5h0M1250.7 236.7h0M1134.3 226.3h0M1323.8 257.3h0M1233.6 235.8h0M1090.7 241.3h0M1105.4 250.7h0M1127.4 230.7h0M1228.6 225.7h0M1191.7 222.6h0M1236.6 233.8h0M1268.5 245.1h0M1215.4 229.5h0M1084.9 252.8h0M1242.3 237.3h0M1139.2 237.8h0M1320.4 255.8h0M1239.2 233.7h0M1124.7 232.8h0M1188.6 223.6h0M1046.3 216.4h0M1141.4 230.8h0M1034.1 174h0M1129.3 237.3h0M1237.6 236.9h0M1140.8 220.5h0M1292.5 248h0M1075.1 251.7h0M1172.3 229.6h0M1059.8 242.5h0M1057.1 215.4h0M1137.6 232.6h0M1082 235.5h0M1272.3 245.3h0M1021.1 196.9h0M1206.8 233h0M1036.8 223.9h0M1070.6 257.9h0M1198.9 238.7h0M1049.1 220.4h0M1236 221.7h0M1334.6 255.4h0M1237.6 234.5h0M1033 190.2h0M1237.4 234.2h0M1228.8 227.7h0M1061.5 216.2h0M1158.2 217.7h0M1133.3 221.7h0M1234.8 220.4h0M1208.2 228.2h0M1176.3 215.3h0M1231 222.9h0M1230.4 234h0M1076.2 249.6h0M1295.8 249.2h0M1170.9 213.5h0M1138.7 218.8h0M1032.1 194.7h0M1042.4 217.7h0M1118.1 248h0M1231 234.9h0M1198.9 230.2h0M1184.7 220.1h0M1118 239h0M1101.5 255.5h0M1102.2 250.1h0M1148.7 225.4h0M1030 202.4h0M1136.8 233.1h0M1214.5 238.4h0M1260.8 239.6h0M1048.4 234.8h0M1062.7 231.7h0M1119.7 235.6h0M1059.1 232.1h0M1170.7 223.9h0M1165.5 216.3h0M1063.3 226.4h0M1196.7 226.1h0M1253.2 239.4h0M1134.6 225.1h0M1084.3 248h0M1168 224.1h0M1180.5 224.8h0M1119.2 239.1h0M1087 249.7h0M1040 221.8h0M1240.4 231.5h0M1240.2 229.7h0M1047.4 202.3h0M1082.1 235.2h0M1066.4 249.5h0M1088.9 236.7h0M1184.8 219.1h0M1064 238.1h0M1067.2 239.1h0M1063.9 240.7h0M1191.7 228.2h0M1169.8 227.7h0M1230.6 235.3h0M1014.1 227.4h0M1174.3 213.7h0M1334.9 255.6h0M1037.6 192.8h0M1029.5 178.4h0M1037.2 220.1h0M1190.4 219.2h0M1161.3 210.6h0M1038.7 217.5h0M1321.2 255.3h0M1113.4 249h0M1190.1 223.1h0M1099.5 249.4h0M1243.5 236.5h0M1039.2 216.8h0M1054.2 250.1h0M1237.1 228.2h0M1126.7 242.3h0M1162.6 210.4h0M1109.4 251.3h0M1057.7 229.1h0M1194.6 227.3h0M1255.6 229.1h0M1166.1 218.2h0M1190.8 239.3h0M1228.1 239.6h0M1027.1 194.3h0M1084.9 241.8h0M1082.1 256h0M1138.4 222.8h0M1055.6 218.3h0M1291.1 252.5h0M1090.5 251.6h0M1096.6 238.1h0M1123 242.8h0M1266.9 241.3h0M1222.6 234.9h0M1164 223.6h0M1023.4 202h0M1141.9 229.9h0M1290.1 249.5h0M1160 217.7h0M1131.4 232.1h0M1274.2 247.5h0M1159 226h0M1066.5 231.3h0M1090.8 253.7h0M1177.4 215.5h0M1046.3 218.1h0M1159.6 221.9h0M1147.2 231h0M1025 231.5h0M1261.7 244.4h0M1102.2 247.6h0M1059.3 233.3h0M1066.8 246.2h0M1059.1 245.8h0M1043.8 221.3h0M1255.6 240.6h0M1226.1 235.8h0M1250.5 223.6h0M1030.2 184.8h0M1122.3 228.3h0M1021.1 205.6h0M1285.4 247.3h0M1040.9 222.3h0M1050.9 199h0M1039.5 203.9h0M1086.2 252.3h0M1175.6 224.6h0M1156.5 224.1h0M1113.3 245.2h0M1197.8 223.8h0M1248 239.3h0M1062.8 236.9h0M1313.6 253.3h0M1079 245.4h0M1081.7 237.6h0M1034.2 213.8h0M1056.5 243.7h0M1102.4 250h0M1037.8 182.9h0M1053.6 218.5h0M1055.6 221.7h0M1289.4 247.5h0M1251.9 240.4h0M1189.2 238.6h0M1046.9 231.7h0M1063.5 249h0M1164 209h0M1329 253.8h0M1030.6 192.6h0M1190.2 237.2h0M1021.1 196.7h0M1039.7 204.1h0M1228.4 231.7h0M1054.1 224.7h0M1065.5 236.1h0M1323.7 257.3h0M1160 226.6h0M1217.5 233.6h0M1035.4 219.4h0M1158.6 229.2h0M1103.5 241.7h0M1207.7 230.1h0M1141.6 220.2h0M1203.7 229h0M1059.1 223.6h0M1238 237.8h0M1092.1 252.6h0M1034 210.5h0M1089 251.7h0M1243.7 223.9h0M1262.6 241.4h0M1089.7 251.2h0M1122.3 244.8h0M1108.7 249.4h0M1091.9 254.3h0M1032.8 194.9h0M1052.4 180.4h0M1018.1 222h0M1074.3 247.2h0M1058.5 220.1h0M1217.3 228.6h0M1171 216.7h0M1048.6 207.4h0M1196.8 220.1h0M1080.2 234.8h0M1034.4 196.6h0M1171.3 222.5h0M1176 213.6h0M1273.3 241.3h0M1135.5 233.8h0M1243.4 239.8h0M1126.5 237.1h0M1032.2 178.6h0M1199.4 227.6h0M1136.6 234.5h0M1053.8 214.3h0M1163.6 216.7h0M1288.9 246.8h0M1024.1 197.3h0M1284 244.3h0M1291.5 249.4h0M1163.6 217.4h0M1049.7 217.3h0M1228.1 236.4h0M1271.6 245.4h0M1062 222h0M1090.5 249.2h0M1229.4 228.9h0M1240 236.5h0M1207 229.4h0M1046.4 221.5h0M1150.4 229.5h0M1071.1 257.5h0M1256.2 240.8h0M1071.7 236.1h0M1163.1 223.5h0M1156.3 221.9h0M1219.8 223.9h0M1038.4 224.8h0M1121.1 240.4h0M1190.1 231.7h0M1219.2 235.2h0M1335.1 255.7h0M1073.5 227.2h0M1163.5 222.8h0M1155.2 223.1h0M1071.6 248.7h0M1045.4 217.8h0M1212.5 227.1h0M1281.5 244.5h0M1056.6 229.9h0M1192.4 230.1h0M1064.1 232.1h0M1118.9 233.8h0M1219.4 231.5h0M1084.5 242.1h0M1055.2 220.3h0M1137.4 227.6h0" fill="none" stroke="#ff7f0e" stroke-width="6.9" stroke-linecap="round"/>
<path d="M1176.3 300v-13.8M1176.3 2.5v13.8M1383.6 300v-13.8M1383.6 2.5v13.8M1010.5 227.2h13.8M1466.5 227.2h-13.8M1010.5 155h13.8M1466.5 155h-13.8M1010.5 64.1h13.8M1466.5 64.1h-13.8" stroke="#000" stroke-width="2.5" fill="none"/>
<path d="M1052 300v-6.5M1052 2.5v6.5M1093.4 300v-6.5M1093.4 2.5v6.5M1134.9 300v-6.5M1134.9 2.5v6.5M1217.8 300v-6.5M1217.8 2.5v6.5M1259.2 300v-6.5M1259.2 2.5v6.5M1300.7 300v-6.5M1300.7 2.5v6.5M1342.1 300v-6.5M1342.1 2.5v6.5M1425 300v-6.5M1425 2.5v6.5M1010.5 132.1h6.5M1466.5 132.1h-6.5M1010.5 115.8h6.5M1466.5 115.8h-6.5M1010.5 103.2h6.5M1466.5 103.2h-6.5M1010.5 92.9h6.5M1466.5 92.9h-6.5M1010.5 84.2h6.5M1466.5 84.2h-6.5M1010.5 76.7h6.5M1466.5 76.7h-6.5M1010.5 70h6.5M1466.5 70h-6.5M1010.5 25h6.5M1466.5 25h-6.5" stroke="#000" stroke-width="1.8" fill="none"/>
<path clip-path="url(#c3)" d="M1010.8 228.2L1021.6 224.1L1030 219.9L1036.6 216.9L1043.3 216.6L1048.3 219.9L1054.9 228.2L1063.3 238.2L1071.6 245.7L1079.9 249L1091.6 249.9L1104.9 249L1114.9 248.2L1119.8 249.9L1122.3 230.7L1125.7 238.2L1129 234L1131.5 234.9L1134.8 224.9L1138.2 226.6L1141.5 223.2L1146.5 226.6L1151.5 221.9L1159.8 220.7L1166.5 221.9L1171.4 220.7L1175.1 212.4L1178.9 225.7L1183.1 227.4L1186.4 227.4L1189.8 229L1193.9 225.7L1198.1 229L1208.1 229L1221.4 231.5L1228 232.9L1229 233.3L1245.6 237.4L1262.3 241.6L1278.9 245.7L1295.6 249.9L1312.2 254.1L1328.9 257.4L1345.5 260.2L1362.2 262.4L1375.5 264.1L1385.5 264.4L1402.1 264.1L1412.1 265.4L1428.7 267.4L1445.4 269L1465.4 271.2" fill="none" stroke="#1f77b4" stroke-opacity="0.5" stroke-width="3.3" stroke-linejoin="round" stroke-linecap="butt"/>
<rect x="1010.5" y="2.5" width="456" height="297.5" fill="none" stroke="#000" stroke-width="2.8"/>
<text class="sans" x="1120.00" y="60.10" font-size="40.0" textLength="127.17" lengthAdjust="spacingAndGlyphs">wMSE0</text>
<text class="serif" x="1261.06" y="62.70" font-size="36.5" textLength="33.31" lengthAdjust="spacingAndGlyphs">=</text>
<text class="sans" x="1307.89" y="60.10" font-size="39.8" textLength="110.88" lengthAdjust="spacingAndGlyphs">4.0794</text>
<text class="it" x="1208.70" y="103.30" font-size="41.5" textLength="30.92" lengthAdjust="spacingAndGlyphs">N</text>
<text class="it" x="1239.70" y="109.90" font-size="27.5" textLength="38.55" lengthAdjust="spacingAndGlyphs">gal</text>
<text class="serif" x="1292.04" y="105.90" font-size="36.5" textLength="33.56" lengthAdjust="spacingAndGlyphs">=</text>
<text class="sans" x="1337.83" y="103.30" font-size="39.8" textLength="81.70" lengthAdjust="spacingAndGlyphs">1056</text>
</g>
<g id="panel4">
<path clip-path="url(#c4)" d="M321.9 559.8h0M143 498.4h0M251.8 534h0M375.7 572.3h0M240.7 524.8h0M180.3 539.8h0M341.1 558.4h0M179.5 541.8h0M146.4 488.1h0M202.7 532.3h0M324.7 550.9h0M356.2 560.9h0M166.7 530.9h0M239.4 517.9h0M114.4 446.3h0M375.4 573.8h0M114.3 434.5h0M154.3 499.4h0M147.6 476.8h0M169.2 516.8h0M203.2 538.1h0M268.8 542.5h0M144.4 470.8h0M332 553.1h0M212.6 533.2h0M413.5 577.8h0M364.7 571.1h0M160.5 503.1h0M184.1 541.9h0M121.4 457.6h0M128.7 448.7h0M347.7 566.9h0M313.7 553.2h0M322.3 554h0M135.3 462.6h0M255.3 534.8h0M175.5 535.9h0M173.7 534.1h0M146.3 467.3h0M233.9 533.9h0M250.4 530.9h0M217.8 515.3h0M181 542.3h0M169.4 542.1h0M422.8 579.3h0M215.2 534.6h0M114.9 449.7h0M343.6 556.3h0M419.8 579.2h0M154 486h0M324.7 552.8h0M264 516.5h0M284.4 541.3h0M205.4 530.1h0M107.1 449.5h0M165.6 524.4h0M139 471.2h0M279.8 541.5h0M181.2 530.6h0M370.6 572.4h0M165.8 516.9h0M118.1 447.6h0M214.2 522h0M148.2 479.3h0M211.2 522.4h0M304.7 550.4h0M290.1 542.9h0M218.2 531.4h0M366.5 565h0M198.3 540.9h0M172.9 525.6h0M279.1 538.1h0M186.7 536.3h0M251.5 521.3h0M200.7 542.8h0M385.5 572.4h0M169.6 525h0M155.5 490.7h0M140 467.7h0M233.9 515.3h0M292.7 545.2h0M290.8 546.4h0M148.2 477.3h0M129.7 462h0M255.5 521.4h0M194.5 534.6h0M259.3 525.7h0M147.2 470.4h0M205.7 525.7h0M268.9 520.3h0M227.1 514.8h0M157.5 528.3h0M258.7 518.7h0M153.4 514h0M306.9 550.1h0M145.6 489.7h0M267.8 537.3h0M205.3 541.4h0M171.5 531.4h0M191.1 530.2h0M169.3 520.7h0M266.6 512.5h0M230.4 525.9h0M195.5 535.6h0M149.9 512.5h0M345.5 566h0M226.5 513.5h0M343.2 564.6h0M180.4 540.7h0M174.4 526h0M234.5 528.9h0M265 513.7h0M173.7 528.6h0M183.2 538.9h0M169.7 516.6h0M181.7 537.9h0M235.4 531.9h0M157.2 487.4h0M268.8 517.6h0M271.8 542h0M195.9 528.1h0M120 448.5h0M149.9 509.8h0M161.3 524.1h0M184 530.6h0M170 530.4h0M395.8 574h0M152.9 512.8h0M253 534.4h0M107.3 448.2h0M276 547.5h0M204 525.3h0M150 487.1h0M154.8 485.6h0M142.4 470h0M177.6 535.8h0M173.6 540.9h0M219.3 521.5h0M130.8 457.4h0M263.3 536.2h0M184.1 547.6h0M368.3 572.3h0M296.6 553.9h0M225.2 514.7h0M297.9 547.2h0M302.5 546h0M290.4 546h0M164.4 511.1h0M130.8 465h0M182.9 525.9h0M275.5 543h0M247.3 528.6h0M175.2 544.6h0M270 542.8h0M154.8 483.6h0M160.5 515.5h0M382.8 576.7h0M135.4 463.6h0M117.6 438h0M188.8 533.4h0M179.4 540.7h0M261.3 520.7h0M168.1 515.4h0M194 552h0M179.1 524.2h0M169.8 507.7h0M162.2 497.5h0M157.7 524.4h0M183.1 529.8h0M222.7 508.6h0M103.2 463.4h0M218 526.7h0M373 571.7h0M200.4 530.8h0M198.7 542.1h0M173.8 532.2h0M248 519.1h0M236.8 511.9h0M300.3 555.1h0M256.3 517h0M158 520.6h0M228.1 526.5h0M144.7 488.2h0M187.8 542.7h0M352.4 562.7h0M131.7 466h0M187.6 543.9h0M287.5 543.9h0M242 517h0M345.2 565.4h0M254.6 524h0M226.6 510.4h0M326.5 560.8h0M383.3 576.9h0M268.2 541.2h0M184.1 526.4h0M142.9 472.8h0M384.3 575.4h0M171.6 507.1h0M242.9 526.6h0M221.2 509.7h0M268.9 517.6h0M289.3 556.9h0M386.6 572.7h0M205.3 518.3h0M119.5 451.8h0M139 473.7h0M353.7 564.2h0M252.3 518.5h0M380.2 575.3h0M209.3 528.7h0M199.5 528h0M274.5 539.7h0M350.7 567.2h0M213.7 534.5h0M183.2 519.3h0M261.2 511h0M236.7 524.9h0M152.6 494h0M251.7 521.2h0M230.1 521.5h0M121.2 445.3h0M174.8 515.6h0M258.5 526h0M106.8 452.2h0M170.4 511.1h0M147.6 493.3h0M144.6 477.9h0M257.7 512.2h0M112.7 452h0M157 501.8h0M149.8 527h0M286.5 551.5h0M108.5 443.2h0M211.2 525h0M271.1 541.5h0M149 496h0M274.6 540.4h0M103.9 457.6h0M225.4 530.9h0M112.9 440.5h0M231.3 525.8h0M355.4 559.5h0M293 550.2h0M193.9 534.3h0M294.7 553.8h0M303.8 558.7h0M157.3 513h0M227.3 522.9h0M188 541.4h0M170.2 516.7h0M129.6 454.2h0M151.4 493.7h0M229 517.2h0M357.1 565.2h0M260.5 536h0M226.8 533.2h0M305 548.4h0M133.2 456.2h0M202.8 530.9h0M180.7 544.4h0M109.8 450.6h0M112.8 452.7h0M175.3 520.7h0M179.2 523.8h0M424 578.5h0M219.8 532.8h0M199.3 534.6h0M241.9 527.5h0M237.9 525.3h0M209.7 527.9h0M161 513.3h0M158.8 498.8h0M212 530.3h0M353 569.6h0M299.8 552.9h0M271.9 532.3h0M124.5 451.5h0M154.6 513.2h0M175.7 526.6h0M289.9 548.8h0M349.9 564.1h0M286.9 556.7h0M232.9 502.6h0M119.5 455.2h0M126.2 457.3h0M317.6 558h0M337.9 559.8h0M208.9 522.4h0M178.4 535.1h0M105.4 449h0M146.9 498.2h0M319.3 549.1h0M395.2 573.2h0M300.5 548.5h0M135.3 456.3h0M153.3 494.5h0M157.7 499.5h0M196.1 540.5h0M276 543.8h0M238.5 523.9h0M198.9 528.2h0M150.8 491.3h0M228.4 521.1h0M168.6 509.3h0M364.5 570.6h0M306.3 559.3h0M133.4 473.8h0M253.9 537.3h0M269.8 532.9h0M124.9 458.8h0M318.3 554.1h0M227.9 515.5h0M310.2 557.9h0M173 523h0M250.2 530.3h0M291.8 553.8h0M242.6 516.6h0M283 554h0M192.6 530.5h0M319.9 556.2h0M163.9 519.1h0M108.5 449.4h0M295 538.2h0M280.4 540h0M247.9 533.3h0M113 434.9h0M176.8 516.9h0M157 517h0M246.8 533.1h0M195.4 541h0M201.2 555.8h0M349.8 562.1h0M352.2 569.7h0M196.4 540.5h0M164 513.5h0M164.8 533.3h0M305.5 545.4h0M293.1 547.8h0M200 522.6h0M145.5 503.3h0M144 494.8h0M193.8 550.2h0M151.4 496.6h0M263.4 525.9h0M424.4 578.4h0M249.7 518.5h0M139.2 457h0M181.1 521.5h0M232.1 507h0M147.9 498h0M345.2 559.2h0M203.5 519.8h0M136.6 468h0M167.6 520.7h0M232.5 529h0M145.2 491.3h0M147.9 477.1h0M211.8 533.6h0M273 538.6h0M423.1 579.4h0M335.1 556.5h0M276.6 545.6h0M177.8 542.2h0M318.5 552.1h0M295 548.9h0M184.4 531.3h0M120.9 459.7h0M153.8 490.2h0M129.9 455.8h0M134.8 465h0M197 551.4h0M141 474.2h0M425.4 578.1h0M149 490.9h0M216.5 526.7h0M247.1 522.5h0M206.1 532.4h0M262.2 509.7h0M232.6 518.6h0M268.6 540.1h0M181.2 515.8h0M334.4 558.7h0M138.6 458.6h0M283.8 549.8h0M239.7 519.2h0M253.6 533.8h0M123.4 451.8h0M231.8 501.9h0M184.1 542.8h0M239.4 513.9h0M379.2 571.7h0M187.4 552.3h0M144.6 468.3h0M293.6 557.1h0M316.5 555.1h0M108 447.4h0M413.2 577.6h0M101.1 449.6h0M254.1 516.8h0M311.8 552.6h0M253.9 533.1h0M279.4 547.8h0M127.1 458.5h0M241.4 515.6h0M114.3 452.5h0M216.8 527.4h0M140.3 467h0M374.2 575h0M170.9 517.6h0M236.4 532.5h0M214.1 524.8h0M251.3 533.4h0M174 526.8h0M142.5 459.8h0M155.3 499.4h0M262.5 531h0M225.6 513.3h0M198.7 530.3h0M336.1 557.8h0M129.9 459.7h0M265.8 513.5h0M164.9 517.5h0M314.8 558h0M181.1 538.4h0M342.3 559.4h0M170.8 526.5h0M155.3 504.6h0M299 545.3h0M344.2 565.2h0M147.9 483.5h0M136.4 463.7h0M351.4 568.6h0M187.5 551h0M203.4 540.1h0M155.6 487.9h0M117.7 457.1h0M213.2 512.7h0M244.8 527.5h0M204 546.2h0M358.9 569.3h0M306.7 554.5h0M163.8 514.8h0M119.7 443.7h0M171.6 511.6h0M112.2 439.7h0M106.3 445.8h0M267.9 542.5h0M111.2 451.3h0M131.5 471.1h0M336.8 552.8h0M347.9 559.6h0M149.7 472.6h0M228.5 516.6h0M371.9 575.3h0M153.5 524.3h0M352.9 566h0M234.9 502.4h0M231.6 522.2h0M235.6 514.2h0M268.7 520.6h0M275 544.8h0M349.8 566.1h0M293.1 546.5h0M151.1 521.9h0M191 544.4h0M269.9 542.8h0M232.8 530.3h0M267 536.2h0M194.4 525.8h0M259.3 524.4h0M228.3 525.3h0M178.9 540.1h0M126.1 462h0M149.2 470.8h0M138.1 465.4h0M152.1 519.2h0M166 531.3h0M305.5 551.5h0M205.6 529.5h0M202.2 539.1h0M134.2 456.8h0M270.4 530.2h0M197.2 539.6h0M270.3 536.6h0M301.7 557.2h0M256.5 529.6h0M147 511.6h0M154.4 489.8h0M157.6 527.7h0M280 544.5h0M184.4 531.5h0M196.9 545.5h0M115 447.9h0M367.8 567.4h0M145.9 487h0M190.8 540.6h0M152 522.3h0M308.7 551.8h0M156.6 520.4h0M191.8 552h0M208.7 519.9h0M220.3 510.2h0M228.2 528.6h0M154 502.2h0M301.6 550h0M290.7 548h0M277 540.5h0M187.8 552h0M147.8 473.3h0M226.8 522.8h0M163.7 511.3h0M240.5 519.6h0M295.4 548.1h0M219.7 529.7h0M206.7 528.1h0M281.4 550.2h0M148.9 468h0M139.9 476.4h0M300.1 553.3h0M272.3 533.8h0M154.7 508h0M149.6 497h0M185.8 524h0M243 527.7h0M163.6 502.4h0M238.9 525.7h0M352.1 566.9h0M306.2 546.3h0M180.8 537.5h0M398.5 575.1h0M216.3 523.2h0M283.7 540.6h0M316.5 557.9h0M147.3 487.2h0M307 552.2h0M308.2 555.1h0M159.7 517.1h0M249.1 517.5h0M166 518.7h0M166.9 515.9h0M296.9 553.8h0M250.6 528.4h0M246.6 534.2h0M272.4 543h0M144.8 472.6h0M358.8 566.3h0M251.5 516.2h0M147.3 478h0M154.3 505.7h0M392.9 574.6h0M277.2 538.8h0M379.6 571.7h0M254.2 515.2h0M306 554.3h0M367.9 571.2h0M431.1 579.1h0M216.6 529.8h0M164.6 513.8h0M241.1 534.8h0M297.8 546.2h0M137.8 479.1h0M173 516.4h0M197.9 528.9h0M143.8 497.9h0M143.6 503.6h0M360.7 567.5h0M178.3 537h0M352.4 564.9h0M243.7 521.5h0M311.1 547.8h0M246.7 530.4h0M162.6 513.3h0M354.3 567h0M298.9 552.9h0M263.6 517.6h0M129.9 460.1h0M408.5 575.4h0M327 561.4h0M116.1 443.9h0M310.4 560.7h0M239.6 530.7h0M195.7 549.8h0M205.5 537.3h0M294.7 546.7h0M195 551h0M101.1 449.8h0M235.8 520.4h0M165.9 523.9h0M145.1 475.6h0M348.6 563.4h0M315 550.9h0M233.2 508.1h0M315.1 559.1h0M227 521.4h0M218.5 532.9h0M257.2 523.8h0M166.3 541.5h0M185.4 539h0M151.3 521.9h0M349.4 557.8h0M248.3 519.9h0M129.9 464.4h0M238.4 527.5h0M321.6 556.5h0M148.2 473.2h0M149.8 518.4h0M132.7 467h0M198.7 545.5h0M270.2 535.6h0M226.6 524.1h0M185.8 531.1h0M291.5 547.8h0M194.9 531h0M160.4 519.2h0M147.3 480.5h0M317.6 560.3h0M143.4 474h0M310.9 560.4h0M364.3 566.6h0M166 526.6h0M241.9 524.4h0M232.9 529.6h0M172.6 530.3h0M174.5 545.3h0M364.3 566.4h0M140.3 469.8h0M142.1 467.8h0M151.6 476h0M165.3 514.2h0M339 557.5h0M266 517.7h0M161 509.9h0M172.1 539.1h0M217.1 527.4h0M174.2 514.9h0M170.2 505.7h0M108.5 449.9h0M318.5 556.6h0M143.5 466h0M204.3 519.1h0M176.5 539.6h0M113.9 451.3h0M308.8 544.6h0M348.6 563.6h0M149.3 475.9h0M232 518.8h0M239.8 532.4h0M289.5 537.8h0M157.8 498.3h0M279.4 531.3h0M174.1 517.6h0M165.8 528.5h0M376 571.2h0M247.8 531.2h0M217.3 534h0M196.3 529.3h0M161.1 526.1h0M225.6 523.9h0M244.1 527h0M343.4 565.7h0M189.8 546.8h0M361.2 563.2h0M197.4 536.1h0M228.2 512.9h0M326.3 560.1h0M367.3 569.7h0M113.8 456.2h0M205 540.5h0M110.5 448.6h0M214.2 529.5h0M344.5 566.7h0M168.1 526.4h0M251.3 533h0M255 531.9h0M188.5 537.7h0M145.3 474.3h0M172.7 518.5h0M270 541.9h0M240.3 513.9h0M334.7 555.8h0M165.5 504h0M155.7 507.1h0M133.6 462h0M140.3 467.4h0M206.2 538.8h0M172.5 519.9h0M363.6 570.8h0M163.5 534.2h0M195 548.4h0M377.4 572.8h0M106.2 448.9h0M186.9 552.3h0M214.5 518.3h0M117.6 456.5h0M312.4 555h0M371.6 559.9h0M166.4 521.9h0M209.5 521.2h0M141 492.4h0M177.2 531.6h0M328.4 559.9h0M169.3 516.8h0M158.9 489.8h0M215.9 526.7h0M169 517.8h0M165.8 518.5h0M134.3 467.5h0M263.2 522.9h0M258.9 513.4h0M416.4 578.1h0M187.6 524.8h0M238.8 532.8h0M150 503.5h0M284.9 550.9h0M340.4 558.6h0M142.8 470.8h0M238.2 518.8h0M244.6 529.9h0M152 486.8h0M295.3 548.6h0M155 501.3h0M241.8 532.5h0M371.8 569.9h0M205.3 538.5h0M108 443.1h0M130.4 450.3h0M181.2 538.1h0M138.2 469.9h0M325.3 557.4h0M317.2 560.4h0M308.1 546.8h0M177.2 537.2h0M396 574h0M173.5 531.4h0M207.4 522.3h0M235.1 518.7h0M368 566.5h0M260.3 520.1h0M192.2 528h0M202.3 537.2h0M298.4 556.3h0M300.3 552.2h0M397 575.2h0M171.2 545.7h0M216.4 510.9h0M275.8 545.8h0M120.5 456.5h0M336 556.4h0M316.4 551.4h0M339.2 560.2h0M183.7 540.8h0M156.5 510.8h0M142.7 482h0M248.8 513.8h0M215.5 523.7h0M106.7 442.7h0M315.2 549.1h0M149.7 494.6h0M132 458.4h0M205.8 538h0M243.2 529.3h0M145.2 473.1h0M352.2 567h0M295.3 546h0M127.3 459.6h0M212.7 515.7h0M121.4 459h0M421.6 579.9h0M186.1 540.8h0M158.7 518.6h0M120.8 440.2h0M132.6 450.6h0M196.1 544.2h0M267 524.6h0M232.2 522.8h0M154.8 515h0M159.7 506.4h0M119 437.4h0M213.5 531.8h0M222.7 508.9h0M230.7 513.6h0M136.5 464.2h0M134.1 456.1h0M310.2 552h0M194 545.8h0M230.4 506h0M365.8 565.2h0M154.7 489.3h0M175.9 538.7h0M118.4 444.9h0M254.7 533.8h0M142 467h0M336.5 557.5h0M329.6 559.6h0M267.3 522.2h0M102.1 448.1h0M146.2 475.2h0M196.9 525.4h0M160.8 501.2h0M164.5 526.3h0M276.6 540.6h0M142.7 500.1h0M131.9 470.4h0M145.6 478h0M151 528.3h0M129.2 464.9h0M150.9 492.3h0M215.2 524.8h0M405.2 576h0M251.9 525.2h0M141.9 474.4h0M295.4 545.3h0M181.8 535.6h0M361.1 569.3h0M271.7 532.8h0M213.9 533.4h0M240.5 533.2h0M171.6 517h0M327 559.8h0M147.1 516.1h0M230.3 527.4h0M149.3 483.2h0M243.5 510.8h0M114.6 454.2h0M115.8 453h0M271.9 529.7h0M139.2 474.7h0M234.9 523.4h0M148.8 521h0M355.6 571.7h0M136.7 456.1h0M283.3 552.7h0M154.3 491.8h0M313.4 551.8h0M353.1 567.3h0M202.6 533.7h0M152.8 487.8h0M287 545.9h0M166.1 537.7h0M251.8 527.9h0M116.7 459.8h0M263.5 526h0M220.1 525.4h0M397.4 574.2h0M109.8 451.8h0M218 523.4h0M258.3 525.8h0M235.3 518.2h0M348.6 556.6h0M139.3 475.2h0M180 525.2h0M114.8 457.1h0M251.7 517.2h0M227.5 527.4h0M146.7 490.4h0M363.2 567.4h0M151.2 524.4h0M318.6 551.9h0M292.4 547h0M327.2 559.9h0M163.8 528.3h0M241.2 527.9h0M134.4 468.8h0M104.4 453.2h0M146.7 516.6h0M133.8 459.9h0M232.4 528.3h0M219.4 523.2h0M216.5 509.2h0M174.6 538.6h0M139.7 459.3h0M255.7 528.8h0M168.2 534.8h0M260.2 515.1h0M279.6 539.9h0M413.2 576.5h0M322.9 558.6h0M142.5 484.9h0M262.3 519.9h0M263.1 516.1h0M282.7 544.2h0M185.8 539h0M135.9 455.7h0M235.3 517.6h0M153.1 482.7h0M358.7 561.7h0M158.1 531.1h0M276.9 549.7h0M233.7 527.6h0M250 533.9h0M279.7 551.1h0M334.9 554.7h0M359.4 569.1h0M127.8 460.1h0M180.6 527h0M146.9 483h0M136.4 469.8h0M100.5 454.8h0M349.2 566.3h0M125.6 461.4h0M269.5 543.7h0M199.7 542.8h0M164.7 503.4h0M121.8 446.2h0M138.1 464.4h0M223.5 512.7h0M221 511.9h0M113.9 436.6h0M352.1 557.9h0M157 502.2h0M135.9 471.1h0M251.2 518.7h0M267.9 541.6h0M270 542.7h0M266.5 528.7h0M352.6 569.6h0M249.6 531h0M154 496.2h0M144.3 504.9h0M233.5 508.7h0M157.6 518.2h0M150.1 479h0M224.7 522.9h0M257.8 523.7h0M208.8 538.9h0M215.8 518.2h0M351.3 558.7h0M251.9 530.5h0M195.7 532.8h0M255 535.4h0M119.8 443.2h0M284.9 550.2h0M286.9 549.9h0M368.8 572h0M228.8 505.5h0M142.4 484.7h0M215.8 527.1h0M163.4 532.3h0M220.4 518.7h0M158.2 517.7h0M234.5 528.4h0M203.7 543.5h0M162.7 503.4h0M177.3 534.1h0M351.3 568h0M223.4 528.2h0M190.2 541.8h0M148.6 504.1h0M166.7 536.1h0M123.6 457.7h0M307.3 560h0M224.2 531.3h0M204.2 532.8h0M127.3 447.8h0M278.9 544.6h0M196.7 530.2h0M230.4 518.2h0M265.1 528.1h0M164.2 511h0M331.4 557.3h0M231.7 529.9h0M181.8 536.4h0M165.1 514.2h0M132.9 463.9h0M144.1 487.8h0M241.8 518.7h0M342.5 564.1h0M153 522.4h0M218.6 508h0M195.7 527.4h0M278.8 547.5h0M167.4 514.8h0M170.6 511.8h0M272.6 541.3h0M122.8 457.7h0M271.7 543.6h0M387.1 575.1h0M169.1 520.9h0M241 520.2h0M254.8 530.8h0M334 558.4h0M261.9 518.7h0M349.3 567.1h0M174 532.1h0M147.3 521.1h0M112.5 437.9h0M289.4 550.1h0M237 519.6h0M165.9 507.4h0M234.4 519.6h0M158.1 525.8h0M148.7 506.2h0M204.6 539.7h0M194 538.7h0M195.2 535h0M169.5 517.2h0M329.2 554.3h0M142.2 484.1h0M154 524.5h0M131.2 454.3h0M201.1 548.8h0M228.9 528.8h0M103.3 447h0M312.8 546.4h0M154.3 482.9h0M195.1 539.5h0M188 545.6h0M116.3 435.9h0M110.5 446.4h0M160.3 519h0M190.1 530.7h0M233.7 524.4h0M146.2 479.3h0M148 477.6h0M176.5 530.4h0M180.3 539.3h0M218.3 525.6h0M134.7 462.4h0M232.3 531.6h0M160.2 507.8h0M195 545.9h0M162 512.3h0M189.9 549.1h0M165.7 509.8h0M321.1 551.5h0M207.3 522.2h0M120.4 446.6h0M265 524.9h0M219.6 530.5h0M213.4 532.9h0M138.1 460.3h0M143.7 487.1h0M147 476.8h0M124.9 453.9h0M142.7 469h0M126 461h0M115.4 452.5h0M430 578.5h0M202.8 548.9h0M292.2 556.6h0M280.9 547.3h0M253.5 512.6h0M172.2 541.1h0M242.1 522.4h0M357.9 569.3h0M105.4 453.5h0M267.5 539.9h0M355 562.8h0M327.6 555.5h0M290.5 546.6h0M415.2 577.1h0M146.6 499.8h0M179.9 536.2h0M143.2 468.6h0M149.8 498.9h0M277.8 550h0M152.6 486.6h0M150.8 490h0M341.6 558.8h0M281.4 548.7h0M186 546.5h0M312.2 550h0M294 547.4h0M240.3 517.1h0M176.7 524.8h0M104.9 447.3h0M256.8 531.6h0M129.5 451.4h0M173.6 512.4h0M147.3 523.8h0M159.9 534.1h0M359.1 569.1h0M242 527h0M198 548.2h0M237.2 524h0M377.4 574.4h0M177.4 541.5h0M168.5 524.4h0M253.3 531.5h0M149.8 480.8h0M101.1 446h0M100.8 453.6h0M141 484h0M183.8 544.1h0M194.2 551.5h0M111.3 440.1h0M183.5 543.6h0M199.9 529.3h0M130.7 467.8h0M226.8 526.1h0M244.3 531.2h0M160.8 529.2h0M127.2 463.1h0M242.2 517.3h0M219.7 526.8h0M301.4 551h0M135 471.5h0M103 443.8h0M255.2 529.9h0M163.9 521.6h0M317.8 553.9h0M147.9 500.9h0M218.2 526.8h0M237.6 528.1h0M273.7 541.6h0M171.4 529.9h0M294.4 551.3h0M304.9 557h0M144.2 488.3h0M419.2 577.9h0M267.1 520.4h0M224.6 518.6h0M348.2 565.7h0M217.6 529.4h0M275.8 548.3h0M277.3 542.7h0M136.9 483.9h0M185.5 527.6h0M191.5 542.9h0M217.5 525.4h0M298.2 557.4h0M113.1 446.1h0M264.6 524.2h0M286.6 547.5h0M181.4 530.2h0M193.7 541.2h0M224.3 533.6h0M252.1 518.1h0M231.2 515.7h0M209.1 538.7h0M147.1 479.8h0M138.9 467.9h0M127.3 464.2h0M291.2 543.4h0M154.7 498.4h0M207.1 532.8h0M233.5 527.6h0M114.2 438.5h0M332.4 554.9h0M111.5 445.2h0M126.6 464.2h0M208 538.1h0M145.9 488.8h0M344.6 555h0M225.1 513.2h0M151.6 505.6h0M371.9 573.3h0M178.9 543h0M166.8 528.3h0M244.6 533.5h0M229.3 516.3h0M204.6 528.6h0M244.2 527.5h0M171 532.2h0M355.7 564.6h0M145.4 475.1h0M203.7 545.5h0M277 547.1h0M144.7 516.8h0M290.6 553.8h0M151.3 495.6h0M205.1 538.3h0M224.3 530.7h0M155.1 491.9h0M179.9 520.6h0M281.5 549.2h0M154.8 491.9h0M216.6 532.9h0M381.5 573.1h0M165.1 522.7h0M147.8 492.6h0M231.2 512.8h0M193 543h0M215.1 528h0M165.3 506.6h0M290.2 552.1h0M140.4 475.7h0M137.2 461.2h0M215.8 521.9h0M269.3 532.4h0M162 510.5h0M291 542.7h0M192.2 547.2h0M118.8 443.1h0M175.7 540h0M156.1 523.6h0M304.4 543h0M235.6 530h0M266.4 523.6h0M118.4 439.6h0M242.8 533h0M134.8 472.2h0M114.4 457.5h0M174.9 518h0M134.2 468.3h0M301.8 550.5h0M204.4 540.1h0M283 548.3h0M335.1 552.9h0M295.8 554.9h0M324.2 555.6h0M116.5 454.7h0M287.9 541h0M234.4 516.9h0M203 544.9h0M233.1 530.9h0M252.8 532.6h0M308.3 559.2h0M373.6 573.2h0M185.9 544.7h0M133.1 455h0M179.1 530.3h0M286.5 545.1h0M159.1 510.5h0M225.1 531.2h0M161.4 527.1h0M156.5 514.9h0M151.2 489h0M149.2 482.9h0M149.7 513.5h0M249.1 528.9h0M279.3 533.2h0M199.8 533.5h0M184.9 526.7h0M243.1 532.3h0M116.3 448.3h0M161.3 507.3h0M159.7 514.2h0M199.1 546.9h0M350.6 563.4h0M282.8 546.7h0M144.6 469.8h0M215.3 530.1h0M153.3 474.9h0M203.7 529.6h0M227.4 529.7h0M168.3 532.9h0M307.4 547.7h0M320.6 560.3h0M136.9 468.9h0M200.8 540.9h0M233.6 512.8h0M247.4 514.1h0M292.1 537.8h0M157.4 518.3h0M415.3 577.5h0M172 522.3h0M251.8 523.9h0M285.7 552.7h0M185.2 541.1h0M330.5 553.9h0M220 531.8h0M239.4 524.9h0M148.4 474.2h0M122.2 454.4h0M134.6 460.2h0M322.1 557.2h0M238.2 528h0M176.5 533.9h0M121.6 450.1h0M281.1 547.2h0M110.7 447.5h0M116.7 444.1h0M369.4 567.4h0M190.8 539.9h0M330.2 552.2h0M346.8 567.6h0M255.2 516.6h0M282.4 547.1h0M198.4 550.7h0M150.9 487.3h0M340.3 562.7h0M174.7 524.7h0M279.8 537.7h0M127.4 460.8h0M221.5 516.1h0M181 546.6h0M305.6 544.4h0M239.2 530.6h0M115.9 455.3h0M276.5 533.9h0M116.9 453.6h0M216.4 512.6h0M210.1 530.3h0M135 472.7h0M158.9 502.6h0M224.1 531.8h0M205.1 526.5h0M185.1 534.8h0M313.9 552.9h0M154.5 497.3h0M130.4 468.3h0M223.4 513.8h0M303.2 554h0M325.7 554.3h0M127.4 461.4h0M242 521.9h0M299 544.8h0M289.8 555.6h0M142.4 461.7h0M116.8 460.5h0M238.2 522.3h0M163.6 515.3h0M257.4 531.7h0M263.6 512.2h0M165.7 522.8h0M255 514.6h0M212.5 529h0M184 549.4h0M301.7 552.5h0M231.4 525.2h0M201 544.8h0M134.8 458.2h0M126.8 461.2h0M325.7 559.2h0M170.4 512.7h0M212.8 518.7h0M154.9 489.9h0M232.1 515.5h0M136.2 476.8h0M233 534.7h0M264.7 533.2h0M140.8 480.4h0M277.3 539.1h0M253.6 535.1h0M274.8 531.4h0M369.8 566.8h0M327.7 557.1h0M190.5 545.7h0M192.5 544.6h0M354 560.9h0M229 527.5h0M161.2 514.7h0M247.4 515h0M273.1 540h0M254 532.3h0M100.7 454.1h0M263.6 528.2h0M304.8 558.2h0M166 523.7h0M242.6 514.5h0M337.9 552.2h0M177.1 546.7h0M367.7 569.5h0M209 533.8h0M216.1 526.8h0M264.8 519.3h0M272.5 545.2h0M240.5 515.2h0M190 537.7h0M349.6 569.8h0M301 547.8h0M415.3 577.2h0M108.7 450.5h0M171.1 509.5h0M136 468.9h0M297.9 556.6h0M174 533.2h0M166.5 532h0M108.2 453.8h0M165.9 515h0M251 524h0M232.1 532.4h0M162.6 516.5h0M226.4 509.5h0M232 513.2h0M325.9 559.2h0M141.5 474.9h0M141 458.9h0M234.9 528.8h0M148.8 508.5h0M105.8 451.3h0M305.8 555.1h0M179.5 533.8h0M160.7 507.4h0M101.8 451.2h0M163.1 525.7h0M166.7 536.5h0M154.2 503h0M250.8 521.2h0M172.3 518h0M303.5 554.9h0M348.6 568.8h0M212.1 525.3h0M144.7 471.9h0M170.2 538.2h0M278.8 551h0M358.3 570.7h0M141.4 462.8h0M141.3 460.8h0M278.4 548.2h0M262.6 522.1h0M187.9 542.9h0M256.4 511.5h0M201.7 549.4h0M269.3 541.4h0M168.6 508.4h0M140.9 475.2h0M430.8 578.4h0M138.6 504.9h0M165.1 535.6h0M268.2 541.8h0M313.9 552.4h0M247.9 533.7h0M163.6 539.3h0M116.2 439.5h0M200.7 525.5h0M247.8 522.9h0M275.1 542.8h0M267.5 537.3h0M173.2 528.9h0M350.2 567.2h0M104.4 444.3h0M144.6 497h0M162.9 530.3h0M149.3 477h0M282.9 547.4h0M191.7 535.4h0M168.8 540.4h0M283.7 547.3h0M258.9 515.3h0M263.9 533.2h0M127.5 450.4h0M348 564h0M312.1 555.8h0M206.6 530.1h0M131.1 468.5h0M305.1 556.4h0M158.6 496.4h0M312.3 553.5h0M240.4 514.3h0M312.2 539.6h0M278.1 548.4h0M154.4 497.5h0M188.2 546.2h0M273.9 542h0M148.8 503.3h0M144.5 492.1h0M285.9 546h0M225.5 523.9h0M247.2 536.5h0M267.3 534.9h0M339.1 556.6h0M139.2 472.4h0M120.5 440.1h0M150 495h0M321.8 560.5h0M157.9 532.2h0M303 557.4h0M352.2 566.5h0M120.1 455.1h0M199.9 531.3h0M149.4 478.6h0M273.1 542h0M172.7 526.2h0M192.5 542.1h0M230.9 522.6h0M290.9 548.3h0M167.2 516.3h0M214.5 516.2h0M150.3 487.4h0M130.3 452.9h0M135 475h0M231.8 506.8h0M230.4 519.4h0M290.9 547h0M199.7 535.3h0M264.5 522.8h0M144.6 473.1h0M124.4 453h0M137.4 482h0M234.9 520.6h0M285.9 545.2h0M369.1 573.3h0M228.4 522.8h0M184.8 530.6h0M309.3 546.2h0M248.6 517.4h0M180.6 542.2h0M315.1 558.8h0M223.9 517.7h0M369.3 568.8h0M168.5 537.7h0M241.3 519.7h0M360.7 570.7h0M219.3 517.6h0M358.4 570.4h0M246.2 535.6h0M227.3 511.7h0M206.1 528.2h0M430.2 579.1h0M267 535.3h0M247.7 530.2h0M161.1 505.4h0M369 570.8h0M237.8 524.4h0M165.2 518.1h0M310 559.1h0M119.4 456.4h0M111.7 451.3h0M289.7 529.1h0M116.7 437.2h0M280.1 551.5h0M151.7 481.9h0M167.4 531.5h0M164.5 535.3h0M381.9 575.1h0M160.6 501.1h0M251.6 525.1h0M119.2 444h0M183.9 519.1h0M151.2 486.8h0M115.2 452h0M308.1 552.4h0M201.7 520h0M138.6 479.5h0M295.6 555.7h0M242.4 517.8h0M325.6 556h0M305 547.7h0M262 522.5h0M407.5 576.6h0M210.4 531.1h0M343.2 564.9h0M147 499h0M150 516.7h0M242.9 525h0M160.4 517.1h0M210.9 516.4h0M207.9 528.5h0M289.3 547.5h0M209.7 527.2h0M388.5 574.6h0M341.4 563.3h0M207 518.1h0M155.1 486.9h0M294.2 549.9h0M278.8 532.2h0M220.4 525.2h0M175.9 540.4h0M195.5 545.7h0M113.3 436h0M149.6 495.1h0M197.5 543.8h0M114.7 449.7h0M253.9 521.7h0M144.1 475.2h0M271.8 526.2h0M288 546.5h0M144.2 494.3h0M269.9 530.3h0M154.8 502.5h0M263.3 517.9h0M135.6 454.5h0M175.5 526.7h0M304.4 551.1h0M177.1 539.1h0M165.5 521.9h0M173.1 525.8h0M173.9 532.7h0M293.4 556h0M127.6 452.1h0M290.2 555.2h0M147.7 495.8h0M203.5 532.9h0M331.5 559.3h0M379.8 572.6h0M266.7 514.8h0M291.4 550.2h0M152.9 472.7h0M226 530.7h0M350.8 564.7h0M165.1 538h0M180.4 531.1h0M153.1 490.8h0M160 498.6h0M395.8 576.1h0M272 542.7h0M151.1 475.6h0M108.6 449.1h0M201.5 546.2h0M310 554.9h0M330.5 552.8h0M188.8 530.2h0M172.8 535.6h0M267.6 541.7h0M308.5 552.9h0M308.7 550.3h0M133.8 470.6h0M233.8 532.5h0M294.2 551.4h0M169.6 528.6h0M283.3 537h0M219.9 526.5h0M165.2 516.2h0M249.3 535.7h0M362.5 569.1h0M192 532.2h0M161.6 504.7h0M392.9 572.8h0M183.8 534h0M217.4 526.9h0M174.2 539.9h0M146.7 478h0M149.8 478.9h0M214.7 517.9h0M156.3 513.4h0M115.9 444.1h0M353 565.8h0M327.6 551.4h0M221.9 512.3h0M204.4 518.9h0M178.5 522.6h0M232.7 526.9h0M115 453.7h0M245.4 509.3h0M242.5 517.9h0M142.6 500.3h0M357.7 569.4h0M253.7 526.3h0M301.9 546.5h0M151.9 480.5h0M372.7 570.7h0M254.4 532.8h0M185.3 537.7h0M278.2 548.1h0M160.3 512.4h0M260.5 531.8h0M367.7 573h0M175.3 546.9h0M159.1 474.1h0M262.9 539.7h0M225.1 513.9h0M238 526.7h0M168.8 520.5h0M152.6 485.1h0M207 540h0M149.5 508h0M380.9 577.2h0M181.2 548.8h0M209.8 529h0M193.4 548.6h0M254.7 535.9h0M233.1 520.4h0M426.5 577.6h0M196.9 544.4h0M117 450.6h0M260.7 528.6h0M398.6 575.4h0M152.5 509.7h0M195.7 529.5h0M262.6 514.1h0M395.2 573.5h0M269.6 544.1h0M198.6 542.6h0M387.6 573.5h0M122.2 450.8h0M142.8 482.9h0M110.2 450h0M284.1 540.6h0M387.3 573.8h0M347.1 566h0M326.7 558h0M325.1 559.2h0M182 536.9h0M231.2 510.6h0M175.3 518.3h0M261.3 538.5h0M192.1 543.4h0M232.2 515.9h0M259.7 517.1h0M189.1 539.9h0M215.7 520h0M175 544.6h0M142.4 470.9h0M154.1 482.9h0M307.4 553.2h0M252.2 528.7h0M166.7 540.9h0M263.2 536h0M253.2 518.4h0M134.5 464.7h0M329 552.6h0M345.7 562h0M192.3 530.9h0M274.1 542.6h0M373.7 571.7h0M152.1 496.4h0M354.2 562.8h0M135 471.4h0M283.8 554.2h0M298.6 554.8h0M182.7 539.8h0M179.7 536.1h0M142 492.6h0M260.4 538.2h0M146.9 473.4h0M233.6 531.9h0M433.3 578.4h0M292.5 553.7h0M309 546h0M341.8 559h0M223.5 519.9h0M197.9 528.7h0M274.1 540.4h0M126.7 454.1h0M231.9 526.1h0M184.6 546.2h0M147 520.8h0M116 454h0M304.7 558.5h0M172.7 521.1h0M200.1 534.8h0M140 474.3h0M262.7 522.9h0M143.7 491.7h0M225.2 528.4h0M379.9 569.9h0M245.5 529.5h0M345.5 557.8h0M200.9 545.4h0M221.5 518.5h0M199.2 543.3h0M241.5 516.6h0M117.8 459.2h0M106.3 443.1h0M297 541.6h0M196.4 544.8h0M259.1 529.1h0M181.4 548.6h0M150.9 498.7h0M270.3 545h0M283.1 552.9h0M199.6 542.4h0M171.4 536h0M146.6 479h0M125.3 462.9h0M428.9 578h0M286.7 540.5h0M360.7 569.2h0M211.3 530.8h0M127.1 467.3h0M248.3 531.7h0M379.9 576.4h0M288.2 543.3h0M274.3 535.8h0M159 492.9h0M355.2 565.2h0M227.5 512.6h0M126.3 456.7h0M340 555.6h0M292.3 544.1h0M184 541.3h0M289.4 537.8h0M166.6 529.9h0M312.4 546.5h0M174.8 533.7h0M112.2 454h0M111.1 442.5h0M179.9 525.8h0M177.1 540.4h0M256.7 527h0M269.1 539.3h0M308.4 553.5h0M136.6 463.4h0M257.2 520.7h0M176.6 497.4h0M288.4 555.3h0M156.5 499.1h0M229.8 529.4h0M143.6 463h0M349 557.7h0M269.7 540.7h0M169.8 516.3h0M284.5 548.2h0M221.3 525.9h0M168.6 527.6h0M144.5 468.4h0M183.5 528.8h0M243.7 519.2h0M184.8 528.6h0M184.5 544.2h0M295.9 540.1h0M373.1 574.5h0M217.2 530.6h0M400.3 573.6h0M224.5 511.8h0M125.3 463.1h0M194.4 552.5h0M354.7 569.1h0M292.1 551.7h0M268 532h0M266.6 535.9h0M372.5 572.7h0M201.3 521.6h0M407.1 575.4h0M167.8 526.8h0M150 526.1h0M191.7 532.1h0M147 516.7h0M267.2 534.5h0M215.5 518.5h0M276.7 535.1h0M279.7 551.7h0M329 552.4h0M221.2 529.1h0M215.1 524.2h0M236.9 527.6h0M302.1 559.1h0M283.5 549.3h0M277.2 531.1h0M245.6 535.4h0M165.1 513.4h0M124.5 447.1h0M188.2 537.2h0M245.3 509.6h0M282.7 552.9h0M321.7 552.2h0M252.7 536.3h0M231.3 520.6h0M262.7 531.8h0M149.5 497.5h0M184.6 519.1h0M140.1 459.9h0M260.3 526.5h0M373.6 571.5h0M136.5 471.7h0M170 511h0M108.2 447.7h0M225.6 523.8h0M285 549.3h0M150.5 478.6h0M185.6 550.5h0M209.6 533.1h0M176.9 538.9h0M114.3 446.1h0M163.1 522.6h0M195.4 556.4h0M127.6 450.3h0M209.3 535.1h0M106.8 450.8h0M200.3 529.8h0M224.3 527h0M198.5 535.7h0M293.7 544h0M137.5 466.5h0M139.5 474h0M154.5 497h0M242.5 529.3h0M153 502.1h0M178.6 535.1h0M246 530.7h0M417.4 578.1h0M159.5 518.2h0M119.7 455.2h0M173.7 537.8h0M146.5 521.1h0M221.1 524.3h0M263.2 527.4h0M142.1 464.6h0M185.9 537.6h0M162.3 523.8h0M141 492.6h0M109.8 450.7h0M169.3 522.3h0M141.1 475.6h0M415 577.8h0M148.7 498.7h0M242.5 519.3h0M292.2 543.7h0M149.5 485.5h0M410.7 575.5h0M150.6 505.7h0M294 555.3h0M169.6 507.4h0M105.4 450.4h0M414.2 576.4h0M258.2 536.8h0M242.2 531.5h0M169.1 514.7h0M172.7 533.8h0M135.6 470.1h0M198.6 530.1h0M138.2 467h0M238.7 528.1h0M295.9 547.4h0M307.7 555.9h0M151.8 489.2h0M239.3 512.8h0M261.6 515.9h0M375.5 571.8h0M104.2 448.3h0M173.8 516.5h0M316.7 559h0M190.3 533.7h0M172.1 544.7h0M295.9 552.4h0M248.1 532.1h0M226.4 517h0M237.9 523.5h0M174.2 524.6h0M266 523.1h0M206.2 542.1h0M111.1 439.3h0M186.2 544.8h0M207.1 524.9h0M348.5 564.6h0M305.1 554.1h0M342.8 558h0M306.6 551.5h0M322.8 559.9h0M103.7 446.1h0M179.8 524h0M213.5 523.3h0M159 512.7h0M153.8 498.6h0M209.4 520.2h0M258.9 522.3h0M147.6 473.6h0M282.5 552.9h0M158.7 519.6h0M235.5 516.8h0M172.6 544.5h0M249.3 537.8h0M291.1 553.4h0M202.7 540.4h0M359.1 571h0M275.9 538.2h0M411.6 576h0M151.2 506.7h0M304.5 553.9h0M136.8 473.5h0M178.9 522.6h0M408.9 575h0M180.6 542.9h0M165.9 527.4h0M230.5 524.5h0M368.4 572.5h0M165.5 520h0M127.1 455h0M134.9 474.8h0M355.2 568.1h0M224.3 519.6h0M159.6 491.5h0M171.5 510.5h0M396.8 574.8h0M148.1 475.1h0M253.3 533.1h0M149.8 528.5h0M216.4 519.8h0M196.6 548.8h0M140.2 483.4h0M278.9 547.2h0M317.4 553.8h0M303.6 544.2h0M274.9 544.9h0M254.1 526.2h0M147.6 476.4h0M154.5 476.7h0M161.7 498.1h0M261 511h0M121.2 459.9h0M283.8 541.3h0M200.8 543.6h0M319.6 557.4h0M168.6 509.6h0M168.8 527.5h0M308.2 546.4h0M296.9 550.8h0M165.4 521.4h0M133.6 463.3h0M369.5 569.6h0M335.6 557.5h0M156 490h0M345.9 566.3h0M347 567.5h0M302.4 553.5h0M354.4 569.2h0M244.2 524.4h0M102.9 449.1h0M116.3 449.8h0M282.7 552.1h0M217.7 525.5h0M228.6 533.1h0M104.4 450.4h0M307.5 553.6h0M154.3 490.8h0M269.5 526.1h0M162.2 505.4h0M246.4 533.3h0M108.5 450.8h0M192.7 534.8h0M249.2 526.9h0M264.4 528.5h0M283.6 539h0M156.2 500.1h0M224.7 515.9h0M145.5 469.2h0M164.4 527.3h0M222.1 520.5h0M326.9 552.8h0M240.5 524.8h0M133.7 472.1h0M197.6 546.7h0M212.1 523.3h0M308.5 555.5h0M181.1 529.4h0M166.6 511.8h0M216.9 519.5h0M269.2 536.8h0M197.7 534.4h0M149.9 502.5h0M207.4 532.1h0M155.3 489.6h0M420 580.4h0M123.6 456.9h0M166.9 534.5h0M254.4 532.2h0M259.3 528.2h0M373.4 569.7h0M169.7 512.4h0M231.7 521.4h0M267.1 536.2h0M142.6 498.8h0M116.8 452.7h0M143.4 497.1h0M243.7 530.5h0M258.4 511.9h0M190.6 538.1h0M138.1 479.3h0M159.3 508.3h0M105.6 452.6h0M287.3 552.7h0M298.6 553.8h0M208.3 531.7h0M137.6 465.1h0M197.5 545.6h0M238.3 526.2h0M189 549.5h0M261.3 533.1h0M203 535.5h0M165.9 503.4h0M144 482.8h0M358.8 564.8h0M316.9 552.8h0M356.1 569.2h0M170.5 513.4h0M201 526.5h0M107.8 440.4h0M201.8 545.4h0M151.5 479.8h0M196.3 546.8h0M149 477.4h0M138.5 487.4h0M232.2 516.3h0M178.4 542.9h0M213.1 531.4h0M413.2 576.2h0M142.3 469h0M258.8 528.1h0M103 448.1h0M148.8 500.1h0M240.8 522.4h0M337.5 555.5h0M361.5 568.3h0M256 510.2h0M100.4 447.6h0M211.6 529.8h0M197.5 543.6h0M208.8 539h0M212.7 523.9h0M274.2 537.4h0M165 521.5h0M259.2 515h0M250.5 537.4h0M202.9 546.9h0M200.1 545.5h0M237.5 520.2h0M253.7 520.8h0M318.2 556.8h0M304 558.1h0M258.2 526.3h0M215.7 519.7h0M227.4 532.4h0M181.7 525h0M119.5 459.2h0M142.8 505.5h0M258.5 531.3h0M125 459h0M147.5 476.4h0M258.3 519.4h0M238.5 528.6h0M159 506.5h0M277.8 539.6h0M160.1 509.1h0M210.7 528.5h0M156.1 511.3h0M215.3 516.3h0M299.1 551.1h0M142.3 482.6h0M211 537.7h0M142.9 473.5h0M276.9 549.7h0M126.9 460.9h0M159.6 503.1h0M252.7 516.5h0M252.4 528.2h0M232.7 525.3h0M147 487.1h0M136.3 472.5h0M343.8 560.7h0M299.8 553.1h0M257 513h0M193.2 549.9h0M203 543.6h0M203.4 542.9h0M282.5 550.2h0M257 521.2h0M174.9 521.8h0M123.2 453.1h0M182.3 533.1h0M370.2 568.8h0M103.3 444.1h0M235.4 523.5h0M121.3 457.2h0M234 509.1h0M237.2 530.4h0M288.5 554.6h0M215.6 520.4h0M301.2 549.9h0M320.2 558h0M105.7 460.1h0M286.8 553h0M224.3 504.4h0M173.2 515.6h0M205.8 543.2h0M203.1 539.9h0M176.6 529.8h0M224 527h0M378.1 576.3h0M134.2 467.4h0M228.2 508.8h0M145.2 517.5h0M181.4 531.8h0M168.6 510.6h0M295.8 550.2h0M134.7 478.1h0M367.5 572.3h0M125.4 460.3h0M192.1 532.6h0M149.6 472.5h0M216 518.7h0M126.1 464.3h0M233.3 527.9h0M242.9 533.3h0M326.3 557.8h0M302.6 559.2h0M313.7 547.3h0M393.5 575.2h0M289.9 550.7h0M268.6 517.7h0M259.9 524h0M254.1 530.8h0M148.5 490.1h0M313.3 554.4h0M165.9 512.9h0M144.1 465.5h0M159.3 521.8h0M372 572.1h0M268.9 537.6h0M354.2 567.5h0M176.5 520.1h0M175 535.6h0M248 529.7h0M231.1 531.6h0M248.2 537.4h0M168.2 532.4h0M183.6 520.1h0M400.4 575.7h0M117.9 457.3h0M142.6 464.3h0M138 468.1h0M140.8 470.8h0M230.4 509.2h0M133.2 458.4h0M386.9 574.6h0M164.4 515.5h0M232.9 526h0M148.8 479.3h0M138.2 465.6h0M216.7 532.6h0M143.2 465.8h0M375.4 574.1h0M149.6 471.4h0M243.5 512.6h0M176.5 518.9h0M126.2 463.4h0M159 508.9h0M109.5 437.6h0M356.9 568.8h0M151.5 513.4h0M376.7 567.9h0M259.4 531.2h0M140.7 473.9h0M198.7 542.5h0M156.3 517.1h0M304.9 558.9h0M263.3 517.7h0M137.4 491.6h0M176.5 528.7h0M153.8 504h0M147.2 491.7h0M355.1 566h0M158.3 523.1h0M229.4 530.2h0M107.6 441h0M185.2 527.6h0M116 450.9h0M182.4 541.5h0M296.4 543.1h0M101 446.2h0M244.8 526.4h0M115.6 455.7h0M268 540.9h0M206.6 518.7h0M195.1 525.1h0M119.6 451.4h0M269.7 531.6h0M183.3 535.5h0M143.5 482.3h0M168.2 535.2h0M313.8 559.7h0M135.2 458h0M119 442.6h0M155.9 486.8h0M191.3 537.7h0M139.6 492.3h0M147 472.6h0M184.5 541.1h0M295.3 552.9h0" fill="none" stroke="#ff7f0e" stroke-width="6.9" stroke-linecap="round"/>
<path d="M263.9 619.5v-13.8M263.9 322.6v13.8M471 619.5v-13.8M471 322.6v13.8M98.2 547.2h13.8M553.9 547.2h-13.8M98.2 475h13.8M553.9 475h-13.8M98.2 384.1h13.8M553.9 384.1h-13.8" stroke="#000" stroke-width="2.5" fill="none"/>
<path d="M139.6 619.5v-6.5M139.6 322.6v6.5M181.1 619.5v-6.5M181.1 322.6v6.5M222.5 619.5v-6.5M222.5 322.6v6.5M305.3 619.5v-6.5M305.3 322.6v6.5M346.8 619.5v-6.5M346.8 322.6v6.5M388.2 619.5v-6.5M388.2 322.6v6.5M429.6 619.5v-6.5M429.6 322.6v6.5M512.5 619.5v-6.5M512.5 322.6v6.5M98.2 452.1h6.5M553.9 452.1h-6.5M98.2 435.8h6.5M553.9 435.8h-6.5M98.2 423.2h6.5M553.9 423.2h-6.5M98.2 412.9h6.5M553.9 412.9h-6.5M98.2 404.2h6.5M553.9 404.2h-6.5M98.2 396.7h6.5M553.9 396.7h-6.5M98.2 390h6.5M553.9 390h-6.5M98.2 345h6.5M553.9 345h-6.5" stroke="#000" stroke-width="1.8" fill="none"/>
<path clip-path="url(#c4)" d="M99.2 446.6L106.6 447.9L115 452.4L123.3 457.4L131.6 463.3L139.9 469.9L144.9 476.6L149.9 488.2L153.2 496.6L156.6 505L159.9 510L166.6 520L173.2 528.3L179.9 535L186.5 539.9L193.2 541.9L201.5 541.6L204.8 547.4L207.3 544.1L209 515L210.2 490L211.2 477.5L212.2 490L213.2 533.3L215.7 525L219 526.6L223.2 519.1L226.5 523.3L229.8 521.6L234 529.1L236.5 524.1L239.8 525.8L248.1 527.5L254.8 532.5L256.4 521.6L258.9 527.5L261.1 506.7L263.1 488.3L265.1 506.7L266.1 516.6L267.3 539.1L269.8 541.6L274.8 540.8L279.7 546.6L289.7 549.1L306.4 553.3L323 558.3L330 559.6L346.6 564.9L363.3 569.9L379.9 573.2L396.6 576.2L413.2 578.2L429.9 580.2L446.5 581.9L463.2 583.2L469.8 583.6L472.3 585.7L474.8 584.1L479.8 585.7L484.8 586.9L489.8 586.2L513.1 589L529.7 590.7L552.2 592.4" fill="none" stroke="#1f77b4" stroke-opacity="0.5" stroke-width="3.3" stroke-linejoin="round" stroke-linecap="butt"/>
<rect x="98.2" y="322.6" width="455.7" height="296.9" fill="none" stroke="#000" stroke-width="2.8"/>
<text class="sans" x="207.90" y="380.10" font-size="40.0" textLength="127.17" lengthAdjust="spacingAndGlyphs">wMSE0</text>
<text class="serif" x="348.96" y="382.70" font-size="36.5" textLength="33.31" lengthAdjust="spacingAndGlyphs">=</text>
<text class="sans" x="394.86" y="380.10" font-size="39.8" textLength="112.24" lengthAdjust="spacingAndGlyphs">5.5178</text>
<text class="it" x="296.10" y="423.30" font-size="41.5" textLength="30.92" lengthAdjust="spacingAndGlyphs">N</text>
<text class="it" x="327.10" y="429.90" font-size="27.5" textLength="38.55" lengthAdjust="spacingAndGlyphs">gal</text>
<text class="serif" x="379.44" y="425.90" font-size="36.5" textLength="33.56" lengthAdjust="spacingAndGlyphs">=</text>
<text class="sans" x="425.23" y="423.30" font-size="39.8" textLength="81.70" lengthAdjust="spacingAndGlyphs">1003</text>
<text class="serif" x="62.92" y="633.40" font-size="42" textLength="21.86" lengthAdjust="spacingAndGlyphs">0</text>
<text class="serif" x="62.04" y="561.48" font-size="42" textLength="19.74" lengthAdjust="spacingAndGlyphs">1</text>
<text class="sans" x="63.41" y="489.26" font-size="39.5" textLength="20.75" lengthAdjust="spacingAndGlyphs">2</text>
<text class="sans" x="42.21" y="398.39" font-size="39.5" textLength="39.43" lengthAdjust="spacingAndGlyphs">10</text>
<g transform="rotate(-90)"><text class="sans" x="-563.73" y="25.00" font-size="33.5" textLength="179.83" lengthAdjust="spacingAndGlyphs">Flux Density</text>
</g>
<text class="serif" x="220.55" y="660.00" font-size="41.5" textLength="80.90" lengthAdjust="spacingAndGlyphs">5000</text>
<text class="serif" x="415.96" y="660.00" font-size="41.5" textLength="102.27" lengthAdjust="spacingAndGlyphs">10000</text>
<text class="sans" x="209.90" y="711.70" font-size="33.5" textLength="168.16" lengthAdjust="spacingAndGlyphs">Wavelength</text>
<text class="serif" x="390.20" y="711.70" font-size="35.5" textLength="51.64" lengthAdjust="spacingAndGlyphs">(Å)</text>
</g>
<g id="panel5">
<path clip-path="url(#c5)" d="M692.1 511h0M578 442.4h0M743.5 555.4h0M747.6 544.5h0M772.5 547.6h0M615 516.5h0M590.5 466.9h0M694.8 538.2h0M676.6 529.3h0M674.4 536.6h0M782.8 550.3h0M699.5 524.7h0M709.8 522.9h0M648.3 528.4h0M712.5 539.5h0M687.7 520.6h0M840.5 568.6h0M691.3 531.2h0M598.4 495h0M576.8 454.7h0M645 553h0M584 468.3h0M595.8 483.1h0M778 553h0M770.9 552.2h0M567.9 452.7h0M821.3 565.2h0M600.7 502.5h0M812.6 566.5h0M837.1 568h0M709 532.2h0M606.5 500.7h0M590.5 491.5h0M813.6 564.9h0M596.2 511.3h0M643.5 539.6h0M677.4 541.7h0M737.7 550.6h0M777.8 553.9h0M594.2 473.7h0M603.5 493.5h0M745.1 550.2h0M584.9 453.3h0M623.1 541.4h0M651.7 537.6h0M690.3 523.4h0M564.3 443.5h0M753.1 549.6h0M685.2 535.5h0M680.3 526.7h0M693.8 518.5h0M645.2 541.7h0M608.8 495.4h0M609.9 506.7h0M795.9 550.1h0M598.9 510.2h0M709.7 525.6h0M621.9 514.6h0M641.7 528h0M642.6 545.6h0M675.4 536.3h0M767.1 551.3h0M634.6 538.7h0M641.6 529.7h0M715.1 527.6h0M808.6 560.5h0M691.7 507.9h0M768.7 541.5h0M653.4 554.2h0M615.1 536.7h0M686.2 526h0M683.9 521h0M683.8 518.3h0M644.4 538.4h0M598.4 503.3h0M620.6 519.5h0M684.2 521.5h0M647.8 553.8h0M570 437.2h0M688.1 548.3h0M597.9 486.1h0M660.6 554.6h0M587.8 461.6h0M678.7 532.4h0M689.3 534.2h0M630.6 535.5h0M652.5 532.2h0M600.6 493h0M741.6 543.8h0M609.1 512.3h0M836.4 566.4h0M632.1 518.5h0M625.6 512h0M594.2 465.5h0M607.3 521.4h0M735.1 540h0M799.3 565.6h0M730.2 546.4h0M686.2 518.9h0M709.8 549.1h0M755.5 549.5h0M757 549.2h0M755.6 554h0M705.1 535.2h0M608.5 526.9h0M759.8 551.1h0M595.9 480.9h0M607.6 489.2h0M610.2 502.4h0M567.7 447.5h0M770.9 546.7h0M845.5 573.8h0M714.4 539.6h0M679.4 527.3h0M585.2 458.8h0M706.7 531.1h0M675.6 536.2h0M617.4 517.8h0M589.1 475.5h0M678.3 544.4h0M566 442.6h0M808.5 567.1h0M632.8 527h0M568.7 448.6h0M653.3 545.5h0M649.5 546.9h0M823 561.6h0M644 544.7h0M706.5 529.1h0M616.9 526.1h0M587.4 482.9h0M590.6 465.5h0M717.4 542.5h0M764.2 543.2h0M631.3 534.4h0M594.7 463.3h0M610 538.9h0M681.7 529.1h0M602.3 519.2h0M664.1 530.6h0M677.6 533.6h0M609.2 497.8h0M637.8 531.5h0M627.9 535.8h0M711.8 529.1h0M790.6 551.7h0M576.8 448h0M619.3 524.5h0M584.6 476.1h0M839.5 570.9h0M605.9 485.9h0M699.6 527.5h0M582.1 450.7h0M676.6 528.8h0M706.7 526.9h0M587.7 460.2h0M721.9 540.2h0M696.7 518.7h0M681.3 532h0M660.8 544.4h0M742.9 540.9h0M789.6 542.7h0M791.8 557.3h0M569.7 435.7h0M688 523.9h0M688.6 521h0M711.2 529.3h0M611.2 498.4h0M595.8 498.9h0M805 561.6h0M603.7 513.5h0M599.3 476.4h0M569 452.5h0M770.1 554.3h0M607.4 489.2h0M609.6 497h0M761.9 548.9h0M609.1 500.1h0M852.8 569.5h0M680.1 524.6h0M700.5 530.1h0M564.2 432.8h0M574 431.6h0M623.4 521h0M614.5 505h0M782.9 554.1h0M623.5 513.7h0M705.3 509.2h0M624.3 526.4h0M649.1 548.3h0M733.8 551h0M776.2 548.3h0M594.5 472.5h0M618.6 532.5h0M660.9 545.3h0M612.2 508.4h0M716.7 531.3h0M680.2 525.6h0M638.3 540h0M658.6 532.9h0M685.7 520.7h0M604.5 497.8h0M596.9 503.1h0M625.9 519.4h0M634.6 528.7h0M711 522.9h0M724.4 541.6h0M794.6 553.8h0M560.7 444.4h0M662.4 545.5h0M720.9 529.6h0M601 503.9h0M654.2 553.4h0M777.3 544.8h0M642.8 552.4h0M696.2 514.4h0M616.6 521.9h0M604.4 486.4h0M667.5 538.9h0M682.3 538.8h0M655.4 538h0M589.5 473.8h0M562.3 434.6h0M646.6 544.6h0M712.5 538.9h0M578.3 436.2h0M852.4 569h0M611.4 502h0M683.7 531.3h0M688.1 535.8h0M626.3 535.5h0M705.1 528.2h0M785.5 552.1h0M808 566.9h0M658.5 554.4h0M639.6 529.6h0M773.2 552.3h0M606.7 504.9h0M724.4 537.8h0M798.5 559.3h0M585 459.9h0M790.5 547.8h0M562.5 452.6h0M641.1 529.6h0M578.8 447.4h0M710.9 532h0M688 531.1h0M784.4 549.6h0M617.6 522.9h0M658.5 548.6h0M637.3 534.4h0M672.9 542.7h0M655.4 553.7h0M667.2 544.4h0M561.2 452.5h0M605.4 493.6h0M734.2 540.9h0M725.1 538.7h0M580.5 449.4h0M740.5 547.9h0M644.1 550.1h0M636.7 540.7h0M563.8 441.5h0M676 541.3h0M616.5 510h0M769.6 548.7h0M632.9 530.8h0M676.6 539.9h0M788.2 549.2h0M592.2 468.6h0M635.8 533.3h0M606.1 485.2h0M702.1 526.9h0M646.8 552.8h0M617.9 510.7h0M761.6 553.4h0M638.8 533.8h0M609.9 512.7h0M600.7 513.6h0M611.2 499.8h0M669 540.7h0M717.3 540.2h0M768.5 542.4h0M693.5 529.4h0M574.3 449h0M687.1 538.9h0M643.6 540.1h0M765.9 550.6h0M684.4 526.1h0M638.4 542.2h0M623.5 545.8h0M596.4 485.2h0M791.2 556.4h0M590.2 464.5h0M641.1 527.1h0M784.1 544.8h0M659.2 553.9h0M602.7 514h0M700.9 523.3h0M746.1 554.2h0M672.5 540.5h0M780.9 549.4h0M695 512.2h0M596.5 514h0M692 541.7h0M572.4 435.2h0M638.6 534.8h0M786.8 554.7h0M745.3 544.5h0M785 542.4h0M607.1 496.2h0M652.4 546.3h0M591.3 468.7h0M648.3 541.1h0M680.3 521.4h0M595 467.4h0M690.6 510.6h0M786.2 556.9h0M607.6 496.1h0M598.9 485.8h0M782.4 546.4h0M575.9 451h0M736.3 548.8h0M799 562.5h0M635.2 529.4h0M617.6 532.8h0M617.9 538.4h0M666.1 548.5h0M613.3 505.7h0M656.8 536h0M576.9 453.6h0M761.1 546.1h0M595.8 475.7h0M806.9 559.6h0M804.9 565.3h0M601.7 476h0M712.6 528.2h0M784.7 549.5h0M635.6 522.4h0M586.2 456.4h0M626.1 533.4h0M689.4 517.3h0M651.3 541.8h0M773.7 549.3h0M603.1 499.8h0M745.5 543.6h0M610 502.5h0M623.8 540.1h0M578.4 439.7h0M617.6 523.7h0M654.2 554.2h0M643.1 540h0M716.7 532.8h0M634.5 536.7h0M797.2 552.7h0M716.1 534.3h0M565.1 441.2h0M569.8 434.2h0M564.1 441.8h0M678.7 526.3h0M796 543.9h0M669.4 543.9h0M577.2 442.9h0M620 521.9h0M746.1 549.4h0M583.7 453.1h0M599.2 489.3h0M740.3 551.6h0M739.4 549.6h0M630.1 544.5h0M758.5 551h0M731.9 550.4h0M687.4 528.1h0M667.8 544.7h0M654.6 543.9h0M637 524.1h0M639.5 545.9h0M652.3 532.8h0M746.2 542.3h0M585.8 480.9h0M615.5 507h0M750.5 545.2h0M709.5 528h0M602.4 532h0M612.9 500.5h0M608.1 523.4h0M737.5 551h0M604 529.5h0M683.2 517.4h0M697 528.8h0M701.6 532.8h0M610.2 526.6h0M798.2 557.4h0M696.2 534.8h0M622.6 534.7h0M612.4 499.9h0M724.4 536.6h0M587.1 469.6h0M806.3 558.2h0M773.1 554.8h0M839.5 571.1h0M698.9 517.3h0M763.3 547.5h0M617 511.1h0M821.6 568.9h0M601.9 530.5h0M572.1 437.8h0M773.8 548.7h0M621.8 511.7h0M839.5 571.7h0M604.9 522.1h0M782.1 548.6h0M664.1 535.7h0M674.5 545.2h0M724.4 531.7h0M608.5 506.6h0M704.5 523.5h0M648.4 537.8h0M591.1 482.5h0M727 533.3h0M597.2 477h0M729.7 550.9h0M588.3 483.9h0M581.5 462.8h0M629.2 537.3h0M699 518.2h0M585.5 471.8h0M781.3 553.1h0M568.9 450h0M659.9 552.5h0M569.7 448.8h0M718.5 539.6h0M802 564.3h0M687 515.2h0M586.6 471.2h0M698.9 537.3h0M736.4 542.1h0M741.1 549.6h0M639.6 542.6h0M643.5 549.7h0M772.6 553.5h0M855.2 568.8h0M796.8 554.1h0M706.8 526h0M688.7 532h0M570 448.7h0M610.4 503.1h0M609.6 500.7h0M768.2 547.7h0M784.5 550.5h0M775.5 549.2h0M636.3 544.6h0M599.6 471.8h0M612.5 497.9h0M581.3 456.8h0M810 567.8h0M744.4 543h0M796.4 553.1h0M659 542h0M796.5 557.5h0M622 527.3h0M690.9 513.8h0M610.9 527h0M611.6 511.9h0M733.3 551.5h0M798.2 558.6h0M816 566.3h0M644.7 528.1h0M684.7 533.9h0M789 548.2h0M601.3 510.5h0M590.3 465.9h0M631.1 551.4h0M673.4 536h0M604 524.3h0M629.8 523.8h0M714.1 532.8h0M698.1 521.7h0M561.6 436h0M777.3 554.9h0M566.8 444h0M597.2 486.4h0M708.9 531.9h0M604.7 520.8h0M594.1 483.2h0M597.7 486.4h0M692.1 514.8h0M617.1 513.6h0M620 529.8h0M758.2 543.9h0M596.8 483.1h0M657.4 548.3h0M603.7 525.5h0M630.6 520.5h0M767.4 552.8h0M726.5 544.1h0M681.5 540.8h0M665.9 532.4h0M638.9 542.2h0M633.2 518.8h0M626.7 547.7h0M827.9 567.9h0M665.2 544.3h0M653.9 533.4h0M816.6 564.8h0M577.9 442.2h0M694.2 509.5h0M871.6 569.6h0M690.7 528.9h0M808 565.6h0M795.3 549.5h0M800.5 564.6h0M597.6 476.9h0M687.9 526.3h0M734.3 544h0M745.9 542.2h0M759.8 549.2h0M711.1 535.9h0M582.7 457.1h0M638.2 538.5h0M671.3 547.9h0M606.3 516.1h0M771.7 554.9h0M690.9 526.5h0M687.2 530.6h0M815.9 567.7h0M648.9 537.8h0M670.2 538.9h0M787.3 540.9h0M626 545.7h0M807.5 565.5h0M766 551.3h0M732.9 543.8h0M615.2 511.3h0M659.7 554.3h0M661.5 553.8h0M793 542.1h0M742.5 553.6h0M709 525h0M722.5 538h0M632.6 536.7h0M593.4 482.8h0M660.1 553.7h0M588.7 466.5h0M766.1 549.1h0M640.7 529.2h0M804.9 560.1h0M623.5 525.4h0M567.5 453.6h0M700.9 518.5h0M737.8 547.1h0M744.5 551.9h0M596.4 514.4h0M800.8 553.4h0M601.1 488.3h0M636.1 523.8h0M585 463.7h0M688.2 515h0M701.6 541.5h0M790.1 550.3h0M618.3 526.4h0M789.8 545h0M625.1 529.1h0M643.2 552h0M839.7 571h0M807.9 567.3h0M703.7 531.2h0M620.5 541h0M648.8 548.3h0M627.2 523.4h0M689.9 533.6h0M727.2 546.9h0M581.9 464.9h0M584.3 473.1h0M692.9 533.8h0M713.5 532.7h0M565 439.7h0M704.1 532h0M609.7 538.1h0M589.7 469.8h0M587.9 476.2h0M700.1 519.3h0M598.8 512.6h0M580.8 443.5h0M732.4 546h0M754.1 548.2h0M651.3 541.8h0M727.6 539.7h0M596 497.1h0M714 528.5h0M830.5 568.6h0M663.4 535h0M656.8 550.6h0M705 525h0M627.5 531.3h0M612.3 534h0M612.9 527.4h0M735.4 550.6h0M660.9 532.1h0M579 445.5h0M780.2 545.9h0M692.2 530.3h0M705.3 525.5h0M608.8 496.6h0M699 526.2h0M665 547.8h0M624 520h0M605.8 492.3h0M632.1 524.7h0M630.9 517.4h0M630.8 528.5h0M650 545.6h0M755.6 549.2h0M606.1 490.5h0M814.6 561h0M743.4 548h0M682.4 522.8h0M595.2 492.2h0M824.7 563.8h0M672.7 535h0M608.6 496.8h0M617.4 504.9h0M616.7 510.3h0M716.8 524.3h0M775.8 555.4h0M785.2 558.7h0M628 543.5h0M689.1 537.7h0M586.1 458.4h0M599.9 512.1h0M560.6 446h0M593.8 490.8h0M849.4 568.3h0M586.1 476.3h0M847.8 569h0M626.9 514.7h0M652 555.9h0M721.7 535.2h0M789.3 549.4h0M620 520.1h0M791.2 549.7h0M596.3 481.2h0M776.5 556h0M627.4 531.6h0M583.6 465.2h0M654.1 539.9h0M857.3 571h0M698.7 531.3h0M843.8 571h0M600.5 483.1h0M793.3 558.5h0M631.6 514.6h0M709.3 539.8h0M695.8 535.6h0M717.6 540.8h0M639.4 548.3h0M713.6 522.6h0M628.6 519.9h0M628.3 521.9h0M808 563.7h0M724 534.3h0M715.9 533.3h0M817.8 568.8h0M594.7 479.1h0M624.5 515h0M608.5 495.5h0M672.3 539.2h0M757 555.5h0M786.9 555.2h0M736 545.9h0M786.5 551.1h0M823.6 565.9h0M806.3 566.5h0M790.5 552.7h0M756.4 552h0M612.1 521.2h0M666.3 550.9h0M740.7 546h0M819.9 561.4h0M606.1 511.4h0M626.5 513h0M677.3 536.3h0M774.6 547.6h0M611 526.1h0M594.6 487.1h0M721.7 542.4h0M693.6 530.1h0M773.1 547.9h0M859.6 571.3h0M573.6 453.2h0M628 541.2h0M607.4 513.3h0M857.8 571.2h0M745.7 550.9h0M655.7 555.2h0M584 462.9h0M568.3 454.6h0M657.5 548.2h0M668.9 542h0M764.9 548.3h0M617.1 522h0M578.9 444.1h0M710.3 534.1h0M661.3 549.4h0M817.4 564.2h0M622.4 547h0M767.2 553.1h0M709.6 526.9h0M696.9 519.1h0M591.6 506.7h0M621.3 527.5h0M676.9 542.8h0M763.7 554.2h0M608.1 496.9h0M606 497.2h0M652.8 554.7h0M786 552.7h0M632.7 533.4h0M720.4 545h0M645.5 539.1h0M725.7 549.1h0M797.3 558.7h0M612.6 535.4h0M573.6 438h0M737 538.6h0M706.4 532h0M611.2 494.2h0M686.3 523.8h0M594.9 516.6h0M597.5 493.4h0M769.5 549.4h0M640.1 540.2h0M623.2 517.4h0M803.6 542.4h0M834.8 569.6h0M785.3 542.5h0M578.3 449.3h0M718.3 541.3h0M610.3 505.2h0M636.6 542.9h0M632 535.7h0M637.8 538.9h0M566.6 441.8h0M599.7 496h0M757.9 551.6h0M653.3 554.9h0M597.9 502.2h0M787.8 543.1h0M642.9 537.7h0M675.8 540.3h0M694.6 532.6h0M602.4 514.1h0M698.8 531.3h0M756 555.4h0M764.8 543.1h0M666.3 541.9h0M650.9 552.4h0M837.6 570.9h0M698.5 522.3h0M611.1 495.4h0M669.8 533.7h0M763.6 550.9h0M671.5 548.1h0M738.4 547.9h0M672.4 545.7h0M691.7 534.1h0M622.3 517.4h0M704.1 538.4h0M707.1 523.9h0M606.7 490.7h0M568.8 436.7h0M620.2 506.5h0M640.3 531.5h0M639.1 553.2h0M639.6 547h0M610.7 504.1h0M626 522.9h0M642.2 527.7h0M736.3 540.5h0M699 521.5h0M705.7 526.6h0M571 439.3h0M725 539.9h0M755 542.7h0M675.9 543.9h0M631.4 527.1h0M623.8 519h0M762.1 548.4h0M743.1 549.2h0M781.4 530.8h0M656.2 555.1h0M739.1 554h0M831.6 567.7h0M680.1 533.7h0M608.1 488.6h0M736.3 551.4h0M688.6 530.2h0M584.7 455.4h0M599.4 509.4h0M651.2 536.6h0M609 495.1h0M664.6 552.8h0M634.5 525.2h0M798 555.1h0M801.4 565.4h0M646.2 554h0M607.5 517.5h0M706.7 537.2h0M606 492.3h0M599.4 489.7h0M828.2 566.4h0M820.7 565.4h0M688.6 532.2h0M659.6 553.8h0M711.9 525.4h0M593 478.2h0M741.8 540.3h0M775.5 552.3h0M607 504.1h0M568.5 442.5h0M586.8 468.7h0M577.9 446.5h0M854.9 570.7h0M755 555.1h0M614.7 535.7h0M702.7 525.1h0M712.9 537.8h0M695.1 520h0M654.5 549.1h0M584.1 474.7h0M560.9 446.8h0M678.9 529.7h0M790.6 552.5h0M605.4 487.5h0M647.4 540.4h0M614.4 511.1h0M591 484.4h0M597.2 469.4h0M624.4 536.8h0M727.1 549h0M729 536.2h0M807.4 568.4h0M565.8 450.2h0M714.2 529.8h0M565.6 439.1h0M584.2 463.8h0M817.9 560h0M594.3 477.6h0M699 534.2h0M637.1 531.5h0M587.6 475.1h0M580.4 463.2h0M717.1 528.2h0M709 527.2h0M767.3 548.9h0M683.4 535.9h0M713.4 535.4h0M699.5 532.8h0M678.2 525.5h0M635.9 541.3h0M855.2 570.6h0M577.9 449.8h0M597.9 502.2h0M567.3 449.5h0M738.2 545.4h0M625.6 532.8h0M627.2 517.9h0M674 541.1h0M771.9 552.8h0M693.5 527.5h0M562.4 454.7h0M749.4 544.6h0M769.9 543.4h0M882.4 568.2h0M702.9 530.9h0M773.3 553.9h0M691.6 519.2h0M711 529.9h0M783.4 540h0M602 506h0M790.1 552.4h0M565.1 439.8h0M622.6 515.2h0M621.6 532.2h0M617.5 518.7h0M683.6 519h0M587.1 462.4h0M688.9 533.8h0M738 546.3h0M626.1 515h0M608.4 532.1h0M775.9 550.4h0M728.2 535.7h0M579.1 442.5h0M609.3 518.8h0M824.9 567.7h0M740.3 552.4h0M806.1 555.8h0M680.6 534.8h0M573.9 454.4h0M688.8 538.5h0M613.7 514.4h0M787.5 544.8h0M656.2 552.8h0M615.4 527.8h0M604.3 481.3h0M821.1 565.4h0M734.4 538.6h0M609.6 507.4h0M597 495.5h0M815.4 563.9h0M581 463.2h0M591.2 465.3h0M604.5 522.3h0M673.2 527.6h0M658.6 536.8h0M708.1 531.5h0M735 544.2h0M607.2 529.4h0M697 529.3h0M602.8 485.5h0M580.9 458.5h0M561.7 459.9h0M607.2 490.5h0M684.2 525.2h0M716.6 538.3h0M790.6 555.6h0M760.2 544.7h0M630.5 527.3h0M746.5 544.5h0M658 538.3h0M679.3 534h0M795.8 549.3h0M620.7 535h0M761.9 541.6h0M701.6 533.4h0M704.1 520.3h0M618.5 529h0M621.4 505.5h0M610.5 499.7h0M598.1 499.3h0M774.2 543.2h0M607.2 523.9h0M610 504.1h0M635.6 530h0M726.7 542.4h0M893.2 575.7h0M617.5 516.1h0M785.8 548h0M639.8 530h0M612.1 505.1h0M607.7 518.9h0M609.5 521.8h0M630.1 528h0M620.2 528h0M724.2 538.6h0M560.7 440.9h0M668.6 546.8h0M586.6 476.3h0M586.2 457.7h0M736.1 537.8h0M628.8 535.3h0M715.6 529.8h0M751.8 546.3h0M610.8 513.7h0M657.1 556.6h0M661.3 542.9h0M802.2 565.6h0M831 567.2h0M593.7 481.2h0M602 495.1h0M590.9 471.3h0M655.5 554.4h0M639.3 548.3h0M570.3 449.1h0M589.8 470.5h0M607.4 496.8h0M676.4 541.1h0M630.2 516.6h0M561 439.2h0M696.5 539.2h0M605.8 487.3h0M660.4 554h0M601.9 495.1h0M657 547.9h0M606.7 488.2h0M800.1 552.7h0M631.6 534.7h0M803.2 563.5h0M606 496h0M639.7 537.5h0M574.7 444.3h0M622.3 518.7h0M620.8 522.7h0M581.1 462.8h0M590.9 462.3h0M754.6 549.6h0M792.8 556.3h0M689.7 526.9h0M685.1 537h0M623.3 547.2h0M642.9 543.6h0M563 438.8h0M711.2 529.2h0M682 533.8h0M729.1 536.2h0M623.9 521.4h0M606.1 507h0M804.9 564.8h0M653.1 533.1h0M682.3 525.2h0M636.5 536.5h0M819.3 564.8h0M735.7 551.2h0M610.3 499.2h0M835.5 569.8h0M807.4 565.6h0M578.9 446.6h0M762.1 548.2h0M600.7 508.8h0M681.6 519.6h0M811.9 560.4h0M691.5 524.9h0M857.6 571.5h0M641.3 536.3h0M783.8 557.6h0M632.7 551.6h0M680.2 526.8h0M601.2 507.8h0M794.6 555.4h0M845.7 570.2h0M562.2 446.6h0M658.5 555h0M627.2 527.3h0M744.9 545.6h0M568.5 438.4h0M713.8 526.9h0M780.3 554.2h0M740.8 543.2h0M567.9 441.8h0M633.5 527h0M697 538.1h0M569.3 449.6h0M676.1 535.3h0M807.3 561.3h0M627.4 509.9h0M604.5 528.1h0M644.4 554.1h0M681.2 522.9h0M637.7 526h0M721.3 534.6h0M623.5 533.3h0M793.4 559.1h0M790.5 551.1h0M591.5 463.7h0M626.5 533.2h0M591 468.2h0M709 529.4h0M697.2 528.9h0M599.1 501.5h0M579 445.3h0M596.9 477.8h0M823.1 563.3h0M684 531.1h0M633.4 540.1h0M747.7 541.3h0M808.1 567.8h0M681.8 525.4h0M821.7 566.7h0M808.6 555h0M774.2 545.5h0M601.3 487.9h0M785.4 553.6h0M716.8 529h0M588.4 466.8h0M809.4 568.3h0M620.4 529.1h0M572.5 436.1h0M603.2 495.9h0M662.9 551h0M700 519.6h0M587.9 480.2h0M809.8 568.4h0M664.4 541.2h0M846.9 570h0M789.3 547h0M768.3 552.2h0M659.9 542.4h0M594.3 494h0M774.4 550.8h0M677 532.2h0M701.5 528.3h0M704.3 526.7h0M560.6 448.2h0M576.7 432.8h0M601.8 486.5h0M695.2 536.3h0M611.8 517.7h0M603.4 522.7h0M799.3 554.2h0M724.6 538.7h0M654.9 530.8h0M811.1 560.9h0M687.1 528.3h0M568.6 444h0M606.2 495.5h0M563.1 440.7h0M619.5 525.5h0M676.1 545h0M570 440.1h0M618.6 515.9h0M795.1 550.7h0M678.4 526.6h0M792.3 550.1h0M669 539.9h0M618.8 516.6h0M646.1 530.6h0M656.3 536.3h0M599.8 501.4h0M701.5 529.5h0M636 535.6h0M732.4 545.7h0M682.6 541.3h0M603.5 529.2h0M626.3 526.9h0M744.3 547h0M607 495.6h0M784.8 544.6h0M793.9 546.6h0M598 476h0M591.9 484.5h0M561.8 435.7h0M601.7 488h0M624.9 521.6h0M612.6 512.9h0M654.4 554.5h0M597.9 482.8h0M679.3 533.4h0M840.6 570.5h0M603.2 493.5h0M566.4 448.5h0M604.5 500.5h0M778.5 545.3h0M647 551.6h0M750.7 546.1h0M731.4 542h0M761.3 553.2h0M603.4 508.8h0M699.1 531.4h0M743.4 544h0M585.8 455.4h0M810.6 567.2h0M600.9 491.8h0M617.8 510.5h0M760.5 543.5h0M757.9 555h0M730.7 548h0M598.8 493.7h0M589.6 466.7h0M622.2 528.9h0M678.5 524.3h0M620.1 544.3h0M589.8 490h0M595.1 499.9h0M609.4 505.7h0M686.2 533.3h0M722.4 536.8h0M737.5 550h0M597.3 475.4h0M591.5 470.4h0M677.9 533h0M620.7 527.4h0M752.5 544.2h0M654.1 556.7h0M626.2 526h0M828.4 564.7h0M597.5 483.2h0M616 519.5h0M592.1 489.2h0M634.3 526.6h0M661 538.5h0M597.4 480.1h0M804.3 560.6h0M567.1 441.5h0M640.3 531.3h0M698.6 517.9h0M700.8 520.6h0M757.6 549.1h0M606.6 501.4h0M584.2 464.2h0M637 551.2h0M806.5 561.8h0M637.9 544.5h0M645.1 552.7h0M564.7 454.3h0M657 554.8h0M686.3 526.7h0M770.2 553.5h0M619.3 533.7h0M770.6 543.6h0M561.9 443.4h0M624.1 547.5h0M799.8 558.5h0M776.5 554.3h0M623.8 544.3h0M566.3 446.1h0M633.8 520.3h0M588.2 462.4h0M852 569.2h0M591.1 470.6h0M708.5 532.8h0M792.6 558.1h0M578.9 440.2h0M562.7 445.2h0M730.8 539.8h0M608.9 498.5h0M643.3 534.4h0M626.1 531.7h0M569.7 444.9h0M570.8 450.8h0M688.4 513h0M589 467.6h0M708 532.6h0M775.5 553.1h0M615 527.9h0M707 524.2h0M822.1 561h0M640.3 537.8h0M699.1 522.2h0M594.8 482h0M788.5 541.7h0M780.9 548.2h0M645.9 539.5h0M788.9 548.3h0M809.4 560.4h0M620.9 539.9h0M763.7 546.1h0M621.2 506.5h0M592.9 473.2h0M693.1 537.6h0M806.9 555.4h0M691.1 524.2h0M598.8 499.8h0M688 524h0M703.3 537.9h0M821.1 560.3h0M603.8 537h0M657.4 528.8h0M747.9 543.8h0M752.9 554.3h0M689.8 530.4h0M800.4 558.8h0M724 542.5h0M596.9 501.8h0M602.9 507.2h0M603.6 503.7h0M692.9 530.2h0M620.1 530.9h0M600.9 483.9h0M802.6 560.5h0M602.9 481.1h0M574.4 454.5h0M604.9 500.4h0M771 552.3h0M804.8 565.9h0M629.5 519.7h0M751.5 552.3h0M637.5 528.4h0M773.5 553.4h0M702 541.2h0M657.2 548.9h0M593.6 471.6h0M634.3 545.6h0M588.9 463.7h0M587.2 469.7h0M696.4 536.5h0M706.4 523.8h0M579.2 456.1h0M599.4 474.2h0M669.1 539.9h0M710.3 528h0M593.2 473.6h0M568.9 451.6h0M847.2 568.4h0M690.6 531.5h0M700 518.9h0M786.2 547.9h0M805.1 562.4h0M658.1 556.3h0M847.9 569.1h0M613.2 511.9h0M612.6 519.7h0M693.4 537.9h0M751.6 551.2h0M637.1 532.6h0M763.1 553.8h0M617.9 512h0M689.2 527.9h0M624.1 526.1h0M595.6 473.5h0M704.7 530.3h0M823.1 567h0M593.1 491.9h0M666.2 540.2h0M837 568.1h0M724.3 537.3h0M836 570.1h0M712.4 537.5h0M651 553.6h0M736.7 551.7h0M746.5 539.8h0M672.1 535.8h0M804.7 567.4h0M714.2 534.8h0M604.2 492.9h0M617.5 541.2h0M801.4 565.2h0M755.9 555.1h0M624.2 510.8h0M736.6 546.5h0M565.6 448.9h0M697.1 518.2h0M625.7 507.7h0M583.1 467.8h0M581.1 462.9h0M881.5 577.4h0M610.9 495.7h0M689.1 514.5h0M606.3 493.3h0M749.2 548.7h0M632.1 529.5h0M597.6 503.9h0M579.1 443.7h0M594.6 487.9h0M564.3 439.6h0M584.2 460.6h0M631.9 528.7h0M613.8 509.3h0M810.7 556.2h0M683.8 528.6h0M598.3 498.4h0M703.3 532.3h0M733.5 542.6h0M578 459.2h0M850.5 569.3h0M730.3 550.7h0M723.4 531.7h0M569.1 431.7h0M664 553.5h0M626.5 519.3h0M607.5 498.1h0M612.5 505.6h0M606.8 494.9h0M733.3 551.7h0M851.6 569.1h0M671.7 532.8h0M600.5 495.4h0M687 532.3h0M719.7 536.6h0M637.6 528.1h0M793.8 559.4h0M827.8 566.5h0M706.8 533.9h0M758.4 555.5h0M622.5 540.8h0M756.5 554.6h0M694.9 514.8h0M692.9 516h0M644.4 533.8h0M704.9 534.4h0M620.5 506.1h0M624 531.6h0M718.5 531.2h0M597.4 531.6h0M765.3 549h0M687.9 524.1h0M600.8 484h0M646 533.7h0M695.9 515.7h0M624.2 506.2h0M585.4 459.6h0M587.3 482.5h0M569.9 441.5h0M676.9 536.2h0M790.2 557.3h0M801.8 556.7h0M769.1 551.5h0M692.3 520.7h0M689.4 525.6h0M647.9 533h0M605.4 491.2h0M641.7 549.8h0M599.5 499.5h0M631.6 541.4h0M678.6 536.6h0M610 493.9h0M705.8 520.8h0M680.1 532.8h0M629.9 551.1h0M822.3 562.5h0M627.4 518.3h0M633.1 550.9h0M643.6 532.4h0M690.3 534.7h0M774.7 535.8h0M729.5 548.3h0M692.5 521.7h0M650.9 554.7h0M681.8 531.1h0M663.2 543.5h0M712.5 535.8h0M712.4 535.1h0M706.1 533.8h0M599.9 488.8h0M611.1 499.1h0M692.1 529.6h0M631.2 528.8h0M738.5 540.4h0M615.2 518.2h0M747.8 553.1h0M839.8 569.9h0M759.2 542.4h0M725.7 541.4h0M811.2 567.7h0M604.3 516.7h0M764 548.5h0M589.6 484h0M772.2 550.1h0M745.2 543.6h0M669.9 533.7h0M659.2 538.7h0M695 523.7h0M616.6 518.7h0M789.7 546.9h0M597.2 482.6h0M639.4 529.3h0M629.1 534.7h0M590.5 491.4h0M636.3 541.7h0M686.5 522.5h0M749 549.5h0M643 547h0M708.7 526.3h0M844.7 571.9h0M583.8 472.6h0M686.6 530.7h0M586.8 454.7h0M697.9 517h0M709.8 529.3h0M720.8 542h0M813.6 565.6h0M675.8 544.7h0M711.3 535h0M604.3 503.9h0M581.3 463.5h0M705.2 524.5h0M621.3 505.8h0M751.9 548.7h0M722.5 533.6h0M695.3 533.4h0M631.6 521.3h0M565.9 448h0M561.4 437.2h0M634.5 549.7h0M657 549.1h0M584.3 465.1h0M629.5 536.4h0M769.9 553.6h0M646 531.5h0M869.9 573.2h0M788 537.8h0M702.5 527.6h0M617.2 537.2h0M639.5 540.1h0M593.3 474.6h0M652.9 556.9h0M643.7 555.4h0M596.6 492.2h0M645.5 534h0M713.3 531.3h0M590.6 467.7h0M747.4 542h0M589.8 457.4h0M593.8 480.4h0M761.6 539.6h0M641 532.6h0M706 532.7h0M788.7 556.5h0M564.9 443.8h0M741.8 545.7h0M654 554.8h0M623.3 514.4h0M628.1 521.6h0M689.4 511h0M624.4 516.4h0M693.1 528.4h0M631.7 527.7h0M807.7 559.1h0M769.8 551.8h0M678.3 524.7h0M599.8 489h0M794 555.1h0M852.3 567.5h0M570.4 430.8h0M736.7 550.8h0M624.1 513.3h0M629.8 515.6h0M755.8 547h0M610.3 503.6h0M838.6 569.4h0M763.1 543.7h0M577.8 454.3h0" fill="none" stroke="#ff7f0e" stroke-width="6.9" stroke-linecap="round"/>
<path d="M719.9 619.5v-13.8M719.9 322.6v13.8M927.5 619.5v-13.8M927.5 322.6v13.8M553.9 547.2h13.8M1010.5 547.2h-13.8M553.9 475h13.8M1010.5 475h-13.8M553.9 384.1h13.8M1010.5 384.1h-13.8" stroke="#000" stroke-width="2.5" fill="none"/>
<path d="M595.4 619.5v-6.5M595.4 322.6v6.5M636.9 619.5v-6.5M636.9 322.6v6.5M678.4 619.5v-6.5M678.4 322.6v6.5M761.4 619.5v-6.5M761.4 322.6v6.5M803 619.5v-6.5M803 322.6v6.5M844.5 619.5v-6.5M844.5 322.6v6.5M886 619.5v-6.5M886 322.6v6.5M969 619.5v-6.5M969 322.6v6.5M553.9 452.1h6.5M1010.5 452.1h-6.5M553.9 435.8h6.5M1010.5 435.8h-6.5M553.9 423.2h6.5M1010.5 423.2h-6.5M553.9 412.9h6.5M1010.5 412.9h-6.5M553.9 404.2h6.5M1010.5 404.2h-6.5M553.9 396.7h6.5M1010.5 396.7h-6.5M553.9 390h6.5M1010.5 390h-6.5M553.9 345h6.5M1010.5 345h-6.5" stroke="#000" stroke-width="1.8" fill="none"/>
<path clip-path="url(#c5)" d="M555 438.3L560 441.6L566.6 444.1L571.6 451.6L575 454.1L578.3 463.3L585 459.9L589.9 468.3L594.9 479.9L599.9 496.6L603.3 500.8L607.4 495.8L611.6 507.5L616.6 513.3L619.9 520L623.2 519.1L627.4 526.6L629.9 528.3L633.2 527.5L639 534.1L643.2 526.6L645.7 535L648.2 546.6L651.5 552.9L656.5 553.6L661.5 553.3L664.8 544.9L667.3 539.1L669.8 540.8L674.8 535.8L679.8 527.5L686.5 525.8L693.1 528.3L703.1 528L709 530.8L713.1 529.1L718.1 533.3L724.8 539.9L731.4 543.3L736.4 548.6L741.4 546.6L749.7 545.8L759.7 549.6L763.9 548.3L769.7 553.3L778 553.3L780.5 539.9L783 516.6L785.5 526.6L788 546.6L790 549.9L793.3 558.3L796.7 564.1L803.3 564.1L810 566.6L818.3 564.1L823.3 564.9L829.9 567.9L836.6 566.6L843.3 568.6L848.3 566.6L856.6 568.6L863.2 570.7L868.2 569.9L874.9 566.6L879.9 566.6L889.9 568.6L906.5 571.2L923.2 574.1L939.8 576.9L956.4 579.9L973.1 582.9L989.7 585.7L1009.7 588.7" fill="none" stroke="#1f77b4" stroke-opacity="0.5" stroke-width="3.3" stroke-linejoin="round" stroke-linecap="butt"/>
<rect x="553.9" y="322.6" width="456.6" height="296.9" fill="none" stroke="#000" stroke-width="2.8"/>
<text class="sans" x="664.50" y="380.10" font-size="40.0" textLength="127.17" lengthAdjust="spacingAndGlyphs">wMSE0</text>
<text class="serif" x="805.56" y="382.70" font-size="36.5" textLength="33.31" lengthAdjust="spacingAndGlyphs">=</text>
<text class="sans" x="851.46" y="380.10" font-size="39.8" textLength="112.24" lengthAdjust="spacingAndGlyphs">5.2108</text>
<text class="it" x="772.00" y="423.30" font-size="41.5" textLength="30.92" lengthAdjust="spacingAndGlyphs">N</text>
<text class="it" x="803.00" y="429.90" font-size="27.5" textLength="38.55" lengthAdjust="spacingAndGlyphs">gal</text>
<text class="serif" x="855.34" y="425.90" font-size="36.5" textLength="33.56" lengthAdjust="spacingAndGlyphs">=</text>
<text class="sans" x="902.05" y="423.30" font-size="39.8" textLength="61.35" lengthAdjust="spacingAndGlyphs">590</text>
<text class="serif" x="676.25" y="660.00" font-size="41.5" textLength="80.90" lengthAdjust="spacingAndGlyphs">5000</text>
<text class="serif" x="871.66" y="660.00" font-size="41.5" textLength="102.27" lengthAdjust="spacingAndGlyphs">10000</text>
<text class="sans" x="665.60" y="711.70" font-size="33.5" textLength="168.16" lengthAdjust="spacingAndGlyphs">Wavelength</text>
<text class="serif" x="845.90" y="711.70" font-size="35.5" textLength="51.64" lengthAdjust="spacingAndGlyphs">(Å)</text>
</g>
<g id="panel6">
<path clip-path="url(#c6)" d="M1235.1 537.6h0M1195.4 545.6h0M1234.4 535h0M1013.7 391.9h0M1063.3 454.7h0M1117 489.3h0M1034.1 407.8h0M1132.3 500.7h0M1108.3 484h0M1026.7 398.9h0M1119 486.8h0M1109.3 502.7h0M1110.2 487.4h0M1148.1 524.9h0M1047.5 435.1h0M1104.5 483.6h0M1103.7 485.3h0M1114.3 507.3h0M1062.4 456.6h0M1117.5 518.6h0M1070.4 456.7h0M1198.9 522.2h0M1074.1 464.4h0M1110.3 496.3h0M1108.3 483.9h0M1032 411.1h0M1134.9 502.1h0M1039.1 419.8h0M1172.1 497.6h0M1183.7 533.9h0M1168.5 501.8h0M1196.3 546.3h0M1210.3 537.6h0M1033.1 417.7h0M1268.9 559.1h0M1041.6 401.2h0M1037.5 426.2h0M1139.3 508.5h0M1057.5 451.4h0M1088.7 473.9h0M1098.4 500h0M1127.5 493.7h0M1203.1 544.7h0M1054.1 449.8h0M1053.5 434.8h0M1158 515.8h0M1164.2 511.2h0M1025.5 400.4h0M1138.8 512h0M1094 471h0M1058.3 420h0M1136.2 487.9h0M1107.7 492.5h0M1089.4 489.5h0M1023.1 405.7h0M1183.2 532.8h0M1234.9 535.6h0M1042.9 418.4h0M1155.3 513.2h0M1303.9 576.6h0M1249.9 542.1h0M1170.7 487.4h0M1245.3 539.4h0M1069.2 460.9h0M1202.2 546h0M1026.6 389.1h0M1096.1 498.9h0M1027.5 407.6h0M1039.5 411.8h0M1054.3 451.1h0M1023.8 404.5h0M1214 537.1h0M1230 538.2h0M1176.2 512.1h0M1145.8 508.3h0M1172.7 504.5h0M1031.5 407h0M1169.3 493.9h0M1107.1 481.8h0M1111.8 498.9h0M1106.3 514h0M1126.4 483.8h0M1161.1 516h0M1149 505.1h0M1069.6 456.9h0M1236.2 545.2h0M1015.9 408.3h0M1248.7 537h0M1181.2 520.9h0M1105 487.9h0M1205.7 548h0M1084.4 464.6h0M1093.2 489.4h0M1333 573.2h0M1187.5 535.5h0M1122.9 487.1h0M1085.5 475.4h0M1333.9 579.1h0M1282.4 568.7h0M1087.8 475.4h0M1165.3 516.2h0M1098.9 485.3h0M1166.2 503h0M1064.2 455.6h0M1096.2 510.3h0M1094.8 483.3h0M1150.1 506.1h0M1145.6 507.6h0M1138.2 527.4h0M1098.1 506h0M1238.4 542.9h0M1093 508h0M1186.1 516h0M1109.6 494.7h0M1117.5 504.6h0M1176.8 482.5h0M1077.3 460.1h0M1088.4 485.1h0M1188.1 538.9h0M1054.5 447.5h0M1230.4 543.3h0M1187.6 525.4h0M1075.1 467.1h0M1101.1 500.9h0M1164 497.6h0M1144.4 506.5h0M1033 389.2h0M1086.3 472.7h0M1102.2 513h0M1076.2 461.8h0M1112.1 504.8h0M1119.1 508.9h0M1121.3 484.5h0M1070.5 452.5h0M1082.1 468.2h0M1032.8 415.4h0M1139.7 512.4h0M1192.1 542.6h0M1112.5 508.3h0M1124.1 507.3h0M1057.6 431.3h0M1216.7 536h0M1269.3 568.2h0M1049.5 433.1h0M1159.7 510.2h0M1073.8 459.8h0M1022.1 378h0M1249.7 544.3h0M1051.7 435.2h0M1177.5 488.9h0M1092 502.6h0M1248.7 536.5h0M1125.7 477h0M1049.5 435.7h0M1041.9 423.1h0M1176.3 500h0M1113 515.9h0M1107.9 484.1h0M1069.3 455.3h0M1151 498.3h0M1021.2 394.2h0M1117.6 498.3h0M1071 468.8h0M1118.6 518.3h0M1016.1 408.8h0M1087.7 473.3h0M1180.6 504.3h0M1253.8 543.6h0M1183.3 522.6h0M1103.7 494.1h0M1123.4 504h0M1053.4 428.4h0M1101.4 514.1h0M1203.1 546.3h0M1135.1 479h0M1042.2 419.3h0M1168.5 488.7h0M1036.8 396.3h0M1238.2 534.5h0M1226 543.6h0M1053.4 439h0M1179.6 496.4h0M1046.9 433.1h0M1168.3 506.1h0M1243.8 541.1h0M1291 567h0M1274.8 566.7h0M1150.4 509.7h0M1117.2 508h0M1063.2 459.4h0M1040.7 401.2h0M1107.7 501.2h0M1096 510.3h0M1014.1 392.6h0M1162.7 508h0M1059.6 450.9h0M1119.2 497.1h0M1053.1 426.1h0M1183.8 534.9h0M1027.7 401.2h0M1060.7 441.4h0M1191.5 515.7h0M1185 523.8h0M1171.4 506h0M1163.1 511.9h0M1065.7 464.9h0M1168.9 496.7h0M1163.1 498.9h0M1261.5 549.9h0M1089.3 480.2h0M1139.1 498.7h0M1176.7 507.6h0M1181.8 517.4h0M1032 414.9h0M1190.1 515.5h0M1184.6 526.6h0M1117.2 483.5h0M1100.6 491.4h0M1033.9 399.1h0M1098.9 508.2h0M1059.6 441h0M1032.7 390.6h0M1146.2 504.6h0M1104.9 487.5h0M1211.9 541.3h0M1138.8 493.1h0M1041.1 427.4h0M1031 399h0M1040.1 414.5h0M1035.6 421.7h0M1197.7 544h0M1045.7 433.4h0M1015.4 411.1h0M1202.2 538.1h0M1113.5 504.8h0M1178.4 512.3h0M1143.7 499.5h0M1104.9 503.7h0M1267.6 545.8h0M1259.8 559.1h0M1118.1 493.8h0M1134.2 487.2h0M1310.6 570.7h0M1185.6 539.6h0M1219 538.8h0M1127.3 479.8h0M1212.2 541.6h0M1124.9 483.2h0M1049.3 421.8h0M1265.7 565.6h0M1214.1 546.3h0M1030.4 393.8h0M1065.9 458.1h0M1245.1 540h0M1191 542.4h0M1126.8 481.1h0M1134.6 508.8h0M1048.7 442.6h0M1112.7 514.6h0M1210 545.7h0M1155.2 502.6h0M1271.2 564.9h0M1245.6 506.7h0M1186.5 539.8h0M1063.5 462.4h0M1127.4 490h0M1119.2 490.1h0M1143.6 507.1h0M1056.8 450.4h0M1037 413.6h0M1087.7 492.8h0M1108.5 484.9h0M1123.1 510.4h0M1122.4 486.1h0M1193.9 524.6h0M1126.9 488.2h0M1087.3 469.7h0M1197.4 545.8h0M1188.3 541.1h0M1187.6 526.3h0M1111.8 485.4h0M1088.3 473.7h0M1202.6 546.5h0M1182.5 530.8h0M1097.1 501.4h0M1011.7 430.7h0M1136.7 501.4h0M1120.6 486.2h0M1068.3 463.3h0M1170 506.3h0M1129.3 488.3h0M1260.5 566.7h0M1113.3 487h0M1122.3 474.3h0M1099.3 502.4h0M1102.1 476.3h0M1096.4 474.4h0M1274 567.9h0M1221.3 541.3h0M1238.2 546.8h0M1125.5 475.7h0M1077.5 471.1h0M1125.5 502.3h0M1104.5 492h0M1111.5 529.9h0M1036.9 391.9h0M1207.6 546.4h0M1122.2 479.7h0M1022.3 407.9h0M1193 516.3h0M1066.4 445.9h0M1169.6 497.1h0M1246.4 537.6h0M1129.7 498.8h0M1200.1 547.3h0M1127.5 490.8h0M1066.7 464.3h0M1054.2 427.2h0M1179.8 511.1h0M1135.7 482h0M1025.1 405.4h0M1086 460h0M1238.9 542.1h0M1110.5 505.9h0M1082.2 472.4h0M1112.9 516.5h0M1031.3 413.1h0M1094 494.1h0M1096.9 509.2h0M1188 527h0M1190.4 541h0M1071.8 457.6h0M1101.3 493h0M1044.2 424.9h0M1111 514h0M1104.2 519.4h0M1132.6 499h0M1240.6 545.9h0M1120.4 517.8h0M1151.1 499.2h0M1080.9 475.2h0M1123.5 474.8h0M1186.6 540h0M1124.2 505.8h0M1030.2 412h0M1250.3 544.2h0M1037.8 428.6h0M1152.3 498.4h0M1092.6 487h0M1164.7 489.5h0M1234.4 534.5h0M1240.3 540.6h0M1139.1 506.9h0M1177.8 499.4h0M1022.7 379h0M1143.3 508.8h0M1090.7 500.5h0M1053.6 446.8h0M1152.8 509.1h0M1160.4 500.1h0M1244 539.6h0M1087.3 469.6h0M1080.7 463.5h0M1162.1 498.9h0M1169.6 490.6h0M1074.1 454.1h0M1033 404h0M1181.8 527.1h0M1207.3 535.2h0M1216.3 540h0M1165.7 518.9h0M1193.3 544h0M1178.3 496.1h0M1148.3 505.7h0M1020.7 408h0M1162.4 517.5h0M1281.6 568.5h0M1079.4 466.1h0M1293.9 574.9h0M1056 438.6h0M1156.2 497.6h0M1088.5 481.6h0M1019 386.5h0M1357.2 584.6h0M1027.6 401.7h0M1034.7 418.3h0M1132.8 484.5h0M1018.1 398.7h0M1035.8 414.7h0M1098.9 473.9h0M1057.4 452h0M1225 538.9h0M1057.4 452.4h0M1086 473.9h0M1045.7 437.8h0M1086.8 485.5h0M1039.1 416.4h0M1058.7 456.5h0M1192.8 540.4h0M1097.7 492.8h0M1140.3 505h0M1093.7 485.8h0M1163.9 515.2h0M1191 527.4h0M1099.4 482.2h0M1164.2 518.4h0M1152.7 509.3h0M1214.1 542.8h0M1143.2 509.6h0M1030.6 404.9h0M1085.4 476.9h0M1128.5 490.4h0M1141.4 497.5h0M1094.8 473.1h0M1188.3 541.8h0M1137.9 493.6h0M1039.2 425.4h0M1148.1 533.2h0M1023.3 404.6h0M1114 504.8h0M1044.4 427.8h0M1212.9 540.8h0M1108.1 483.9h0M1040.3 417.2h0M1028.7 410.4h0M1066.4 461.7h0M1142 489.3h0M1123.6 506.5h0M1166.7 506.3h0M1071.2 463.4h0M1257 545.5h0M1018 401.9h0M1223.1 538.8h0M1102.3 499.3h0M1138.1 493.3h0M1056 451.3h0M1175.5 520.2h0M1240.7 541h0M1189 531.8h0M1093.3 481.1h0M1307.2 571.6h0M1112.6 492h0M1170 494h0M1164.1 493.8h0M1043.4 416.6h0M1049.1 438.1h0M1167.7 521.5h0M1133.5 489.6h0M1281.1 568h0M1156.1 488.9h0M1104.3 509.6h0M1189 527.4h0M1182.2 529.6h0M1028.4 400.5h0M1109.7 490.9h0M1232.7 539.1h0M1077.8 460.3h0M1083.1 482.7h0M1256.8 545.2h0M1158.2 515.8h0M1141 490.7h0M1044.8 435.5h0M1148.4 499h0M1139.5 495.9h0M1123.1 487.6h0M1213.1 547.1h0M1137.7 502.3h0M1096.5 526.5h0M1032 419.4h0M1114.9 518.3h0M1200.9 546.3h0M1095.4 500.3h0M1173 505.3h0M1137.9 513.4h0M1114.1 499.1h0M1142.3 535.7h0M1133.2 491.1h0M1073.1 469.4h0M1222.7 543.9h0M1121.4 478.7h0M1036.5 406.1h0M1194 532.7h0M1235.7 536.4h0M1067.5 456.6h0M1046.2 417.1h0M1079.6 468.9h0M1018.7 408.4h0M1091.3 489.1h0M1103.4 486.5h0M1203 529.2h0M1122.2 485.2h0M1137.5 515.3h0M1187.9 537.9h0M1027.5 409.7h0M1224.9 544.5h0M1109.7 520.9h0M1102 498.2h0M1108.4 513.1h0M1071.5 458.8h0M1225 546.9h0M1100.8 498.6h0M1267.4 567.5h0M1067.3 450.7h0M1090.2 475.2h0M1122.7 475.8h0M1124.1 483.2h0M1146.4 514.4h0M1164 497.4h0M1130.4 503.4h0M1161 517.4h0M1033.7 405.1h0M1141.8 508.7h0M1058.8 442h0M1168.1 499.3h0M1107.5 484h0M1098.5 511.7h0M1203.7 546.9h0M1014 388.4h0M1183.7 530.5h0M1244.7 543.3h0M1124 494h0M1271.6 565.2h0M1190.9 543.6h0M1127.3 480.7h0M1070.7 464.3h0M1142.3 509.5h0M1159 516.2h0M1174.9 504.2h0M1115.9 510h0M1103.1 517h0M1028.8 411.5h0M1148.9 495h0M1122.2 513.5h0M1030.5 402.9h0M1036.8 420.5h0M1156.4 512.8h0M1201.9 542.8h0M1034.9 398.1h0M1204.8 534.5h0M1188.2 531.5h0M1039.6 414h0M1241.4 542.8h0M1143.8 489.1h0M1196.2 522.9h0M1246.4 537.7h0M1142.5 507.3h0M1034.4 412.6h0M1105.6 518.3h0M1122.5 493.8h0M1111.7 499.4h0M1282.2 568.9h0M1127.9 495.6h0M1112.3 516.1h0M1173.6 495.4h0M1200.3 544.8h0M1042 433.4h0M1059.1 443.9h0M1022.1 404.4h0M1130.3 498.1h0M1095.7 484.6h0M1060.5 445.6h0M1181.2 517.3h0M1047.3 417.6h0M1280.4 569.4h0M1118.4 518.9h0M1110.1 497.8h0M1176 508.2h0M1191.4 532.1h0M1032.1 397h0M1028.1 403.5h0M1088 474.7h0M1030.4 404.1h0M1040.6 434.2h0M1045.2 414.2h0M1191.1 543h0M1197.1 536h0M1109.3 486.2h0M1063.5 447.6h0M1071.9 451.3h0M1091.6 486.2h0M1133.1 479.9h0M1073.4 468.7h0M1270.5 564.4h0M1026.3 407h0M1018.6 399.9h0M1231.8 540.4h0M1129.3 485.3h0M1088.4 487.2h0M1140.7 489.7h0M1161.7 487.3h0M1012.6 398.8h0M1031.2 416.4h0M1133.1 500.2h0M1115.6 505.2h0M1036.4 426.8h0M1087.2 483.8h0M1093.7 492.9h0M1134.7 486h0M1108.7 499.7h0M1024.7 395.4h0M1181.5 530h0M1201.2 539.9h0M1172.2 512.4h0M1156.7 514h0M1173 515.2h0M1254.4 547.3h0M1040.3 403.9h0M1239 546.1h0M1098 479.6h0M1013.1 395.1h0M1096.1 475.7h0M1102.8 485.6h0M1121.2 493.5h0M1193.1 536.6h0M1033.2 408.8h0M1214.5 543.5h0M1122.9 480.5h0M1115.5 507.9h0M1042.8 428.9h0M1127.1 507.1h0M1126.9 480.5h0M1178.4 517.4h0M1200.1 538h0M1222.2 546.2h0M1112.5 500.6h0M1328.9 576.6h0M1213.8 533h0M1289.7 566.3h0M1067.4 458.4h0M1061.4 444.5h0M1264.5 567.7h0M1126.8 477.6h0M1136.5 499.5h0M1072.4 466.8h0M1236.1 544.7h0M1170.5 509.2h0M1129.8 477.5h0M1176.4 492.5h0M1188.6 537.2h0M1201.6 545.2h0M1033.9 414.1h0M1019.9 405.1h0M1071.3 460.7h0M1045.7 414.4h0M1189.2 541.6h0M1199.6 530.2h0M1223.1 541.1h0M1159.8 515.5h0M1024.8 400.5h0M1060.9 449h0M1087.9 487.3h0M1176.2 483.1h0M1271.3 564.8h0M1090.3 503.6h0M1167.4 521.1h0M1202.2 526h0M1177.4 489h0M1175.7 506.8h0M1029.2 412.6h0M1252.8 546.8h0M1151.9 498.4h0M1087.7 468.3h0M1135.3 489.3h0M1193.7 544h0M1048.6 443.4h0M1357.2 578.2h0M1149.5 510.8h0M1139.8 512.3h0M1138.7 475.6h0M1183.2 535.4h0M1118.1 513.8h0M1045.6 418.5h0M1013.1 410.3h0M1137.7 502.5h0M1147.1 494.5h0M1188.1 541.1h0M1103.1 487.9h0M1114.9 513.1h0M1114.5 514.4h0M1039.8 393.5h0M1023.7 394.9h0M1195.5 545.4h0M1057.9 443.9h0M1085.3 465.3h0M1086 472.8h0M1137.5 475.3h0M1145.5 507.9h0M1160.4 493.2h0M1097 505.6h0M1190.8 534h0M1085.8 481.1h0M1030.2 412.9h0M1036.2 402.2h0M1165.9 507.3h0M1154 496.5h0M1168.1 511.3h0M1184.3 518.9h0M1107 482.5h0M1282.9 566.7h0M1180.4 512.6h0M1032 414.9h0M1160.7 497.9h0M1057.4 450.2h0M1110 514.3h0M1134.3 484.9h0M1173.6 503.3h0M1015.5 395.8h0M1120.1 510.3h0M1031.8 403.1h0M1131.6 480.5h0M1063.5 446.8h0M1013.4 394.2h0M1096.4 481.8h0M1106 499.2h0M1058.9 443.6h0M1179.1 504.7h0M1137.2 474.9h0M1292.2 565.3h0M1179.5 515.5h0M1151.2 515.5h0M1249.6 538.5h0M1117.4 501.5h0M1047.7 432.1h0M1032.9 403.4h0M1179.1 495.3h0M1284.9 568.6h0M1023.3 404.5h0M1357.2 575.7h0M1155.4 516.1h0M1140.5 505.6h0M1161.4 516.4h0M1098.7 509.7h0M1083.4 482.1h0M1097.8 496.8h0M1105.8 491.1h0M1176.2 482.8h0M1106.4 485.8h0M1125.2 498.2h0M1142.4 486.1h0M1135 484h0M1143.3 486.2h0M1102.7 478.4h0M1014.3 405.6h0M1160.5 504.8h0M1128.6 493.7h0M1174.4 500.5h0M1115.6 477.4h0M1283.4 564.8h0M1179.9 509.1h0M1173 514h0M1022.7 388h0M1104.8 480.8h0M1050.8 440.6h0M1200 531.9h0M1198.1 547.3h0M1032.7 417.3h0M1116.9 515.1h0M1036.1 404.5h0M1014.2 398.3h0M1081.4 463.5h0M1038.1 411.9h0M1179.7 501.5h0M1084.4 463.4h0M1095.4 489.7h0M1111.8 526.3h0M1040 411.6h0M1061.4 448.5h0M1046.5 437.1h0M1121.4 514h0M1151.1 505.8h0M1018.3 400.9h0M1023.7 404.4h0M1190.4 541.9h0M1098.7 511.3h0M1090.1 492.5h0M1126.4 476.2h0M1038.3 417.2h0M1163.6 517.5h0M1134.2 497.5h0M1057 434.1h0M1102.1 495.9h0M1099.5 486.6h0M1199.6 547.2h0M1123.8 495h0M1160.8 504.1h0M1092.5 480.6h0M1145 494.2h0M1279.8 567.2h0M1054.9 443.3h0M1134.1 486.2h0M1013.3 404.9h0M1132.8 485.8h0M1098.7 493.7h0M1279 568.4h0M1079.9 472.4h0M1037.1 426.3h0M1038.6 428.8h0M1167.1 516.8h0M1040.2 396.1h0M1253.3 546.3h0M1100 492.5h0M1100.8 502.9h0M1120.5 495.7h0M1162.7 500.7h0M1106.9 487.9h0M1196.7 521.8h0M1159.1 494.3h0M1235.8 542.9h0M1264.8 554.9h0M1122.6 493.4h0M1095.2 511.9h0M1164.7 507.3h0M1184.4 535.9h0M1134.3 506.8h0M1146.1 514.5h0M1116 515.1h0M1037.5 416h0M1171.1 518h0M1036 405.8h0M1229.5 539.9h0M1079.7 460.8h0M1044.3 430.6h0M1203.6 540.8h0M1024.6 360h0M1123.1 507.5h0M1068.7 462h0M1205.3 538h0M1148.6 506.1h0M1073.4 463.9h0M1064.1 453.1h0M1112.3 479.8h0M1140.5 481.1h0M1211.9 534.8h0M1112.2 495.6h0M1087.9 486.2h0M1052.1 445.8h0M1072.8 466.9h0M1119 508.9h0M1218.7 535.2h0M1222.7 546h0M1084.9 475.5h0M1024.1 392.3h0M1231.2 533.4h0M1230.5 544.4h0M1110.9 487.7h0M1164 488.3h0M1012.7 400.6h0M1164.5 518.1h0M1083.4 471.7h0M1289.5 567h0M1149.5 487.6h0M1133.1 509.6h0M1116.5 492.1h0M1167.8 519.9h0M1112.9 483.1h0M1152.5 490.5h0M1110.7 517.9h0M1108.3 484.2h0M1124.8 485h0M1058.3 418.2h0M1113.2 488.6h0M1130.8 488.7h0M1171.8 498.9h0M1028.5 398.1h0M1293.6 567.5h0M1106.6 487.8h0M1057.6 453.1h0M1055.8 452.1h0M1101.4 479.8h0M1132.9 500h0M1230.2 547.5h0M1145.8 488.8h0M1060.5 444.4h0M1333.9 583.2h0M1230.8 539.5h0M1120.5 502.6h0M1133.5 481.6h0M1211.1 537.1h0M1040 403.5h0M1245.5 535.7h0M1136.3 484.4h0M1103.9 517.8h0M1160.9 492.9h0M1233.6 537.8h0M1269.7 565.9h0M1226 542.3h0M1065.4 455.3h0M1062.7 455.1h0M1103.4 506h0M1209.2 537.6h0M1236.2 539h0M1213.5 540.3h0M1159.1 492.9h0M1194 526.1h0M1143.7 509.5h0M1043.3 419.3h0M1089.6 479.1h0M1104.1 507.7h0M1109.8 485.3h0M1038.9 413.7h0M1016.6 403.2h0M1044.5 421.2h0M1051.2 444.7h0M1145.2 506.2h0M1114 503.6h0M1085.9 471.5h0M1205.6 548.6h0M1020 384.7h0M1064.1 452.6h0M1086.3 476.9h0M1117 519.6h0M1042.3 428.1h0M1051.7 433.9h0M1090.3 492.7h0M1024.2 399.9h0M1130.7 498.1h0M1093.9 510h0M1109 485.8h0M1102 490.9h0M1090.9 484.4h0M1079.6 464.9h0M1139.4 488.3h0M1090 476.5h0M1259 544.8h0M1227.3 539h0M1037.9 420h0M1113.5 495.4h0M1217.2 543.6h0M1059.5 450.3h0M1079.5 475.7h0M1259 543.9h0M1109.5 485.9h0M1018.6 409.9h0M1118.6 516.5h0M1073.1 471h0M1146.9 490.7h0M1109 522.5h0M1200.5 524.3h0M1109.5 488h0M1033.5 417.8h0M1091.8 484.3h0M1071.5 451h0M1158.1 498.1h0M1109.3 510.6h0M1187.6 535.2h0M1029.5 411.3h0M1055.4 446h0M1176.5 518.4h0M1134.3 500.2h0M1018.6 404.1h0M1095.2 480.5h0M1198.9 538.5h0M1172.5 505.7h0M1172.5 508.7h0M1079.1 468.7h0M1086.4 486.9h0M1160.8 511.3h0M1194.1 542.3h0M1104.9 524h0M1206.1 534.5h0M1032.8 406.5h0M1124.6 499h0M1179.7 499.4h0M1126.9 478.2h0M1094.9 476h0M1027.3 406.7h0M1153.1 498.6h0M1196.9 533.8h0M1188.8 523.9h0M1116.5 525.7h0M1238.8 547.5h0M1121.2 483.8h0M1075.4 460.5h0M1319.7 579.9h0M1048.7 420.7h0M1098.5 505h0M1028.5 404.8h0M1240.9 539.8h0M1179.3 519.6h0M1096.9 471.6h0M1102.5 500.1h0M1189.1 541.2h0M1102.6 491.3h0M1126.2 483.4h0M1137.2 511.3h0M1163.8 509.1h0M1117.5 506.7h0M1161.4 516.2h0M1139.3 512.1h0M1149.7 492.8h0" fill="none" stroke="#ff7f0e" stroke-width="6.9" stroke-linecap="round"/>
<path d="M1176.3 619.5v-13.8M1176.3 322.6v13.8M1383.6 619.5v-13.8M1383.6 322.6v13.8M1010.5 547.2h13.8M1466.5 547.2h-13.8M1010.5 475h13.8M1466.5 475h-13.8M1010.5 384.1h13.8M1466.5 384.1h-13.8" stroke="#000" stroke-width="2.5" fill="none"/>
<path d="M1052 619.5v-6.5M1052 322.6v6.5M1093.4 619.5v-6.5M1093.4 322.6v6.5M1134.9 619.5v-6.5M1134.9 322.6v6.5M1217.8 619.5v-6.5M1217.8 322.6v6.5M1259.2 619.5v-6.5M1259.2 322.6v6.5M1300.7 619.5v-6.5M1300.7 322.6v6.5M1342.1 619.5v-6.5M1342.1 322.6v6.5M1425 619.5v-6.5M1425 322.6v6.5M1010.5 452.1h6.5M1466.5 452.1h-6.5M1010.5 435.8h6.5M1466.5 435.8h-6.5M1010.5 423.2h6.5M1466.5 423.2h-6.5M1010.5 412.9h6.5M1466.5 412.9h-6.5M1010.5 404.2h6.5M1466.5 404.2h-6.5M1010.5 396.7h6.5M1466.5 396.7h-6.5M1010.5 390h6.5M1466.5 390h-6.5M1010.5 345h6.5M1466.5 345h-6.5" stroke="#000" stroke-width="1.8" fill="none"/>
<path clip-path="url(#c6)" d="M1011.7 393.3L1018.3 399.9L1025 404.9L1030 408.2L1033.3 416.6L1041.6 423.2L1046.6 433.2L1051.6 443.2L1058.3 451.5L1066.6 458.2L1070.7 457.5L1074.9 464.1L1081.6 468.3L1086.6 476.6L1093.2 491.6L1098.2 500.7L1100.7 501.6L1104.9 489.9L1107.4 482.4L1110.7 494.9L1114.9 506.6L1118.2 511.5L1121.5 486.6L1123.5 468.3L1125.7 476.6L1128.2 487.4L1133.2 493.2L1138.2 499.9L1144 506.6L1149 499.9L1153.1 509.9L1158.1 515.7L1165.6 518.2L1168.9 499.9L1171.1 476.6L1172.8 458.3L1174.3 447.5L1175.6 444.1L1176.9 447.5L1178.1 458.3L1179.3 476.6L1180.3 498.2L1181.4 519.9L1182.3 530L1185.6 539.1L1191.4 542.4L1196.4 545.8L1201.4 544.9L1207.2 548.3L1213.1 549.9L1216.4 553.3L1221.4 553.3L1226.4 557.4L1229 557.4L1233.3 562.4L1235.7 556.6L1237.3 516.6L1238.7 483.4L1239.8 468.4L1242.3 468.4L1243.6 483.4L1244.3 508.3L1245.6 533.3L1249 554.9L1252.3 565.7L1254.8 568.2L1258.1 566.6L1261.5 562.4L1268.1 561.9L1272.3 565.7L1276.4 568.2L1283.9 568.2L1291.4 567.4L1298.9 571.2L1305.6 571.9L1309.7 571.6L1315.6 574.1L1322.2 574.9L1328.9 574.9L1335.5 575.7L1339.7 574.1L1343 569.6L1345.5 570.7L1348 574.9L1352.2 574.9L1355.5 578.2L1359.7 576.6L1361.3 568.2L1363.8 562.4L1366.3 569.9L1368.8 581.6L1372.1 584.9L1382.1 586.9L1412.1 590.7L1437.1 593.2L1465.4 596" fill="none" stroke="#1f77b4" stroke-opacity="0.5" stroke-width="3.3" stroke-linejoin="round" stroke-linecap="butt"/>
<rect x="1010.5" y="322.6" width="456" height="296.9" fill="none" stroke="#000" stroke-width="2.8"/>
<text class="sans" x="1120.50" y="380.10" font-size="40.0" textLength="127.17" lengthAdjust="spacingAndGlyphs">wMSE0</text>
<text class="serif" x="1261.56" y="382.70" font-size="36.5" textLength="33.31" lengthAdjust="spacingAndGlyphs">=</text>
<text class="sans" x="1307.46" y="380.10" font-size="39.8" textLength="112.24" lengthAdjust="spacingAndGlyphs">39.156</text>
<text class="it" x="1228.00" y="423.30" font-size="41.5" textLength="30.92" lengthAdjust="spacingAndGlyphs">N</text>
<text class="it" x="1259.00" y="429.90" font-size="27.5" textLength="38.55" lengthAdjust="spacingAndGlyphs">gal</text>
<text class="serif" x="1311.34" y="425.90" font-size="36.5" textLength="33.56" lengthAdjust="spacingAndGlyphs">=</text>
<text class="sans" x="1358.05" y="423.30" font-size="39.8" textLength="61.35" lengthAdjust="spacingAndGlyphs">584</text>
<text class="serif" x="1132.85" y="660.00" font-size="41.5" textLength="80.90" lengthAdjust="spacingAndGlyphs">5000</text>
<text class="serif" x="1328.26" y="660.00" font-size="41.5" textLength="102.27" lengthAdjust="spacingAndGlyphs">10000</text>
<text class="sans" x="1122.20" y="711.70" font-size="33.5" textLength="168.16" lengthAdjust="spacingAndGlyphs">Wavelength</text>
<text class="serif" x="1302.50" y="711.70" font-size="35.5" textLength="51.64" lengthAdjust="spacingAndGlyphs">(Å)</text>
</g>
</svg>
</body></html>
